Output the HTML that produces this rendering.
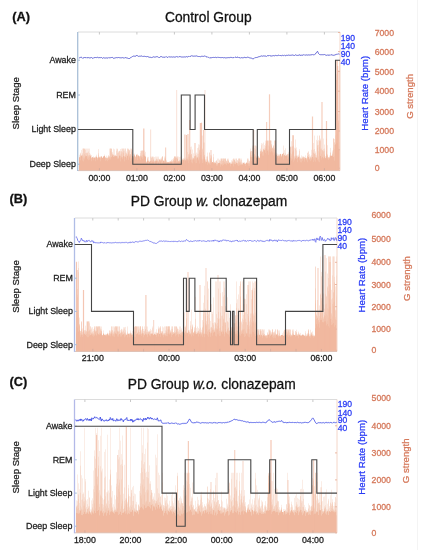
<!DOCTYPE html>
<html><head><meta charset="utf-8"><style>
html,body{margin:0;padding:0;background:#fff;width:422px;height:550px;overflow:hidden}
svg{display:block;font-family:"Liberation Sans", sans-serif;filter:blur(0.35px)}
text{stroke-width:0.28px;paint-order:fill}
</style></head><body>
<svg width="422" height="550" viewBox="0 0 422 550">
<rect x="0" y="0" width="422" height="550" fill="#fff"/>
<path d="M417.5 0V550" stroke="#f4f4f4" stroke-width="1"/>
<path d="M79.5 170.6V157.5M80.5 170.6V160.3M81.5 170.6V155.9M82.5 170.6V160.5M83.5 170.6V161.4M84.5 170.6V159.4M85.5 170.6V156.4M86.5 170.6V156.1M87.5 170.6V159.1M88.5 170.6V160.2M89.5 170.6V159.6M90.5 170.6V156.2M91.5 170.6V161.2M92.5 170.6V157.3M93.5 170.6V160.3M94.5 170.6V157.6M95.5 170.6V161.2M96.5 170.6V156.8M97.5 170.6V160.1M98.5 170.6V157.5M99.5 170.6V157.9M100.5 170.6V161.3M101.5 170.6V156.4M102.5 170.6V157.8M103.5 170.6V156.4M104.5 170.6V155.9M105.5 170.6V160.8M106.5 170.6V160.1M107.5 170.6V161.1M108.5 170.6V160.0M109.5 170.6V159.3M110.5 170.6V159.4M111.5 170.6V157.1M112.5 170.6V155.6M113.5 170.6V157.0M114.5 170.6V156.5M115.5 170.6V156.1M116.5 170.6V156.1M117.5 170.6V158.9M118.5 170.6V158.8M119.5 170.6V155.6M120.5 170.6V161.4M121.5 170.6V157.6M122.5 170.6V159.2M123.5 170.6V156.0M124.5 170.6V161.4M125.5 170.6V157.0M126.5 170.6V159.8M127.5 170.6V156.0M128.5 170.6V159.9M129.5 170.6V157.4M130.5 170.6V161.2M131.5 170.6V158.5M132.5 170.6V156.1M133.5 170.6V158.3M134.5 170.6V155.4M135.5 170.6V159.5M136.5 170.6V154.9M137.5 170.6V160.2M138.5 170.6V155.6M139.5 170.6V158.7M140.5 170.6V160.2M141.5 170.6V157.7M142.5 170.6V159.1M143.5 170.6V158.7M144.5 170.6V156.1M145.5 170.6V156.8M146.5 170.6V163.3M147.5 170.6V161.0M148.5 170.6V164.0M149.5 170.6V161.8M150.5 170.6V161.2M151.5 170.6V162.8M152.5 170.6V161.7M153.5 170.6V161.7M154.5 170.6V164.3M155.5 170.6V161.6M156.5 170.6V161.1M157.5 170.6V164.6M158.5 170.6V162.7M159.5 170.6V164.3M160.5 170.6V161.6M161.5 170.6V163.9M162.5 170.6V163.5M163.5 170.6V160.9M164.5 170.6V162.7M165.5 170.6V162.8M166.5 170.6V163.4M167.5 170.6V162.6M168.5 170.6V162.7M169.5 170.6V163.6M170.5 170.6V161.7M171.5 170.6V161.8M172.5 170.6V164.2M173.5 170.6V164.3M174.5 170.6V161.3M175.5 170.6V160.8M176.5 170.6V162.7M177.5 170.6V162.3M178.5 170.6V161.6M179.5 170.6V161.6M180.5 170.6V163.2M181.5 170.6V161.7M182.5 170.6V162.7M183.5 170.6V160.3M184.5 170.6V163.5M185.5 170.6V160.9M186.5 170.6V161.2M187.5 170.6V160.6M188.5 170.6V163.0M189.5 170.6V161.0M190.5 170.6V159.9M191.5 170.6V162.4M192.5 170.6V163.3M193.5 170.6V159.7M194.5 170.6V161.9M195.5 170.6V163.3M196.5 170.6V163.0M197.5 170.6V157.8M198.5 170.6V160.5M199.5 170.6V163.5M200.5 170.6V162.4M201.5 170.6V159.3M202.5 170.6V163.0M203.5 170.6V162.6M204.5 170.6V158.7M205.5 170.6V163.7M206.5 170.6V161.8M207.5 170.6V164.9M208.5 170.6V163.3M209.5 170.6V164.4M210.5 170.6V165.0M211.5 170.6V163.2M212.5 170.6V162.1M213.5 170.6V163.1M214.5 170.6V163.6M215.5 170.6V163.2M216.5 170.6V165.8M217.5 170.6V165.6M218.5 170.6V163.2M219.5 170.6V162.8M220.5 170.6V166.6M221.5 170.6V164.6M222.5 170.6V165.7M223.5 170.6V165.0M224.5 170.6V163.8M225.5 170.6V164.1M226.5 170.6V165.1M227.5 170.6V163.3M228.5 170.6V164.0M229.5 170.6V163.1M230.5 170.6V166.4M231.5 170.6V163.9M232.5 170.6V163.6M233.5 170.6V166.4M234.5 170.6V164.0M235.5 170.6V164.3M236.5 170.6V163.0M237.5 170.6V165.2M238.5 170.6V166.0M239.5 170.6V165.4M240.5 170.6V165.1M241.5 170.6V164.8M242.5 170.6V165.0M243.5 170.6V162.8M244.5 170.6V163.8M245.5 170.6V166.0M246.5 170.6V162.7M247.5 170.6V163.6M248.5 170.6V165.8M249.5 170.6V166.0M250.5 170.6V156.9M251.5 170.6V161.2M252.5 170.6V157.1M253.5 170.6V159.1M254.5 170.6V157.3M255.5 170.6V161.4M256.5 170.6V157.8M257.5 170.6V157.9M258.5 170.6V157.8M259.5 170.6V158.4M260.5 170.6V154.0M261.5 170.6V153.3M262.5 170.6V155.6M263.5 170.6V155.6M264.5 170.6V150.3M265.5 170.6V152.9M266.5 170.6V154.4M267.5 170.6V150.7M268.5 170.6V154.9M269.5 170.6V151.8M270.5 170.6V152.4M271.5 170.6V151.2M272.5 170.6V152.5M273.5 170.6V155.4M274.5 170.6V153.5M275.5 170.6V154.6M276.5 170.6V158.1M277.5 170.6V156.6M278.5 170.6V158.1M279.5 170.6V157.4M280.5 170.6V153.9M281.5 170.6V157.1M282.5 170.6V153.9M283.5 170.6V159.6M284.5 170.6V155.5M285.5 170.6V155.9M286.5 170.6V155.6M287.5 170.6V159.3M288.5 170.6V157.8M289.5 170.6V156.3M290.5 170.6V157.8M291.5 170.6V160.6M292.5 170.6V159.4M293.5 170.6V162.3M294.5 170.6V160.5M295.5 170.6V158.0M296.5 170.6V159.0M297.5 170.6V162.1M298.5 170.6V157.1M299.5 170.6V160.3M300.5 170.6V162.2M301.5 170.6V162.4M302.5 170.6V160.8M303.5 170.6V158.8M304.5 170.6V161.6M305.5 170.6V158.2M306.5 170.6V160.4M307.5 170.6V162.2M308.5 170.6V157.2M309.5 170.6V159.6M310.5 170.6V161.1M311.5 170.6V160.3M312.5 170.6V156.9M313.5 170.6V162.0M314.5 170.6V160.3M315.5 170.6V161.7M316.5 170.6V158.0M317.5 170.6V160.2M318.5 170.6V161.5M319.5 170.6V162.2M320.5 170.6V156.0M321.5 170.6V159.9M322.5 170.6V156.9M323.5 170.6V158.6M324.5 170.6V157.1M325.5 170.6V158.6M326.5 170.6V156.5M327.5 170.6V158.5M328.5 170.6V160.0M329.5 170.6V158.7M330.5 170.6V155.7M331.5 170.6V155.7M332.5 170.6V155.8M333.5 170.6V157.0M334.5 170.6V160.7M335.5 170.6V144.4M336.5 170.6V142.6M337.5 170.6V143.2M338.5 170.6V148.8M339.5 170.6V150.2" stroke="#f1b8a0" stroke-opacity="1.0" stroke-width="1" fill="none"/>
<path d="M79.5 170.6V158.4M80.5 170.6V154.6M81.5 170.6V155.7M82.5 170.6V153.2M83.5 170.6V148.6M84.5 170.6V158.0M85.5 170.6V156.3M86.5 170.6V158.3M87.5 170.6V156.7M88.5 170.6V157.6M89.5 170.6V156.4M90.5 170.6V155.0M91.5 170.6V158.1M92.5 170.6V156.9M93.5 170.6V156.3M94.5 170.6V158.4M95.5 170.6V158.3M96.5 170.6V154.7M97.5 170.6V158.1M98.5 170.6V158.5M99.5 170.6V158.4M100.5 170.6V156.3M101.5 170.6V157.8M102.5 170.6V157.8M103.5 170.6V157.6M104.5 170.6V154.6M105.5 170.6V157.7M106.5 170.6V158.1M107.5 170.6V156.8M108.5 170.6V158.0M109.5 170.6V156.9M110.5 170.6V158.0M111.5 170.6V152.5M112.5 170.6V154.1M113.5 170.6V157.9M114.5 170.6V155.3M115.5 170.6V157.0M116.5 170.6V157.4M117.5 170.6V153.1M118.5 170.6V158.5M119.5 170.6V150.7M120.5 170.6V149.0M121.5 170.6V156.5M122.5 170.6V148.6M123.5 170.6V153.5M124.5 170.6V156.5M125.5 170.6V148.6M126.5 170.6V158.1M127.5 170.6V155.7M128.5 170.6V149.9M129.5 170.6V149.7M130.5 170.6V155.5M131.5 170.6V152.1M132.5 170.6V156.9M133.5 170.6V153.8M134.5 170.6V156.9M135.5 170.6V157.2M136.5 170.6V157.2M137.5 170.6V154.8M138.5 170.6V157.3M139.5 170.6V156.2M140.5 170.6V150.8M141.5 170.6V150.6M142.5 170.6V157.4M143.5 170.6V154.2M144.5 170.6V155.2M145.5 170.6V156.9M146.5 170.6V162.5M147.5 170.6V156.9M148.5 170.6V160.6M149.5 170.6V162.1M150.5 170.6V162.0M151.5 170.6V157.6M152.5 170.6V156.6M153.5 170.6V159.6M154.5 170.6V161.9M155.5 170.6V156.6M156.5 170.6V160.9M157.5 170.6V160.8M158.5 170.6V161.5M159.5 170.6V160.2M160.5 170.6V159.6M161.5 170.6V157.3M162.5 170.6V162.1M163.5 170.6V161.9M164.5 170.6V158.4M165.5 170.6V162.0M166.5 170.6V160.2M167.5 170.6V162.5M168.5 170.6V162.2M169.5 170.6V162.4M170.5 170.6V162.2M171.5 170.6V161.9M172.5 170.6V162.1M173.5 170.6V160.1M174.5 170.6V156.6M175.5 170.6V157.7M176.5 170.6V158.1M177.5 170.6V156.6M178.5 170.6V161.4M179.5 170.6V161.5M180.5 170.6V161.5M181.5 170.6V160.6M182.5 170.6V158.7M183.5 170.6V158.6M184.5 170.6V159.4M185.5 170.6V160.1M186.5 170.6V159.5M187.5 170.6V151.9M188.5 170.6V159.9M189.5 170.6V152.6M190.5 170.6V149.9M191.5 170.6V159.8M192.5 170.6V158.9M193.5 170.6V159.0M194.5 170.6V156.1M195.5 170.6V153.7M196.5 170.6V159.4M197.5 170.6V158.8M198.5 170.6V156.5M199.5 170.6V150.5M200.5 170.6V159.5M201.5 170.6V157.9M202.5 170.6V158.9M203.5 170.6V158.9M204.5 170.6V142.6M205.5 170.6V161.0M206.5 170.6V163.4M207.5 170.6V158.9M208.5 170.6V163.6M209.5 170.6V163.2M210.5 170.6V157.9M211.5 170.6V157.5M212.5 170.6V163.6M213.5 170.6V153.9M214.5 170.6V162.3M215.5 170.6V163.6M216.5 170.6V164.4M217.5 170.6V164.6M218.5 170.6V163.1M219.5 170.6V163.2M220.5 170.6V158.6M221.5 170.6V164.5M222.5 170.6V158.6M223.5 170.6V161.1M224.5 170.6V158.6M225.5 170.6V158.6M226.5 170.6V160.4M227.5 170.6V158.6M228.5 170.6V161.0M229.5 170.6V163.4M230.5 170.6V163.3M231.5 170.6V162.6M232.5 170.6V164.2M233.5 170.6V162.7M234.5 170.6V160.0M235.5 170.6V164.6M236.5 170.6V158.6M237.5 170.6V163.4M238.5 170.6V162.5M239.5 170.6V158.6M240.5 170.6V158.6M241.5 170.6V158.6M242.5 170.6V164.6M243.5 170.6V163.8M244.5 170.6V162.1M245.5 170.6V163.9M246.5 170.6V163.8M247.5 170.6V158.6M248.5 170.6V162.8M249.5 170.6V160.8M250.5 170.6V152.3M251.5 170.6V150.9M252.5 170.6V145.6M253.5 170.6V145.6M254.5 170.6V154.2M255.5 170.6V155.5M256.5 170.6V157.8M257.5 170.6V157.7M258.5 170.6V156.1M259.5 170.6V158.4M260.5 170.6V151.0M261.5 170.6V151.8M262.5 170.6V143.7M263.5 170.6V148.7M264.5 170.6V151.2M265.5 170.6V143.6M266.5 170.6V145.6M267.5 170.6V140.6M268.5 170.6V149.6M269.5 170.6V140.6M270.5 170.6V148.3M271.5 170.6V140.6M272.5 170.6V147.8M273.5 170.6V145.3M274.5 170.6V152.1M275.5 170.6V140.6M276.5 170.6V156.5M277.5 170.6V156.1M278.5 170.6V154.8M279.5 170.6V155.3M280.5 170.6V156.5M281.5 170.6V154.4M282.5 170.6V155.8M283.5 170.6V152.7M284.5 170.6V154.6M285.5 170.6V156.0M286.5 170.6V156.4M287.5 170.6V154.6M288.5 170.6V153.6M289.5 170.6V154.7M290.5 170.6V146.8M291.5 170.6V153.9M292.5 170.6V158.9M293.5 170.6V149.6M294.5 170.6V147.7M295.5 170.6V148.5M296.5 170.6V150.4M297.5 170.6V156.4M298.5 170.6V159.0M299.5 170.6V157.1M300.5 170.6V157.2M301.5 170.6V159.3M302.5 170.6V159.0M303.5 170.6V156.7M304.5 170.6V156.9M305.5 170.6V159.5M306.5 170.6V157.9M307.5 170.6V156.1M308.5 170.6V157.3M309.5 170.6V154.2M310.5 170.6V157.6M311.5 170.6V157.2M312.5 170.6V157.9M313.5 170.6V157.9M314.5 170.6V135.6M315.5 170.6V157.3M316.5 170.6V159.1M317.5 170.6V148.3M318.5 170.6V156.5M319.5 170.6V135.6M320.5 170.6V158.5M321.5 170.6V153.9M322.5 170.6V158.5M323.5 170.6V151.7M324.5 170.6V150.8M325.5 170.6V157.7M326.5 170.6V138.6M327.5 170.6V145.2M328.5 170.6V157.0M329.5 170.6V157.6M330.5 170.6V147.9M331.5 170.6V156.1M332.5 170.6V152.4M333.5 170.6V147.8M334.5 170.6V156.4M335.5 170.6V145.9M336.5 170.6V74.2M337.5 170.6V60.6M338.5 170.6V70.2M339.5 170.6V142.3" stroke="#f1b8a0" stroke-opacity="0.3" stroke-width="1" fill="none"/>
<path d="M79.5 170.6V154.8M80.5 170.6V156.5M81.5 170.6V155.4M82.5 170.6V156.6M83.5 170.6V155.8M84.5 170.6V157.4M85.5 170.6V148.6M86.5 170.6V148.6M87.5 170.6V158.5M88.5 170.6V155.5M89.5 170.6V148.6M90.5 170.6V158.1M91.5 170.6V158.3M92.5 170.6V157.4M93.5 170.6V158.0M94.5 170.6V157.7M95.5 170.6V156.9M96.5 170.6V158.1M97.5 170.6V158.5M98.5 170.6V156.8M99.5 170.6V156.9M100.5 170.6V158.5M101.5 170.6V158.4M102.5 170.6V158.5M103.5 170.6V158.3M104.5 170.6V157.1M105.5 170.6V156.9M106.5 170.6V158.0M107.5 170.6V158.3M108.5 170.6V155.4M109.5 170.6V158.0M110.5 170.6V148.6M111.5 170.6V158.1M112.5 170.6V154.9M113.5 170.6V148.6M114.5 170.6V156.5M115.5 170.6V158.0M116.5 170.6V157.0M117.5 170.6V156.0M118.5 170.6V152.3M119.5 170.6V151.0M120.5 170.6V156.3M121.5 170.6V153.8M122.5 170.6V152.3M123.5 170.6V148.6M124.5 170.6V156.4M125.5 170.6V148.6M126.5 170.6V153.0M127.5 170.6V155.6M128.5 170.6V152.0M129.5 170.6V156.0M130.5 170.6V158.5M131.5 170.6V155.1M132.5 170.6V157.1M133.5 170.6V156.8M134.5 170.6V153.5M135.5 170.6V157.4M136.5 170.6V157.1M137.5 170.6V157.1M138.5 170.6V156.0M139.5 170.6V156.1M140.5 170.6V156.4M141.5 170.6V155.9M142.5 170.6V150.6M143.5 170.6V150.6M144.5 170.6V156.4M145.5 170.6V156.8M146.5 170.6V162.3M147.5 170.6V158.2M148.5 170.6V156.9M149.5 170.6V162.0M150.5 170.6V160.6M151.5 170.6V160.8M152.5 170.6V157.3M153.5 170.6V156.6M154.5 170.6V160.7M155.5 170.6V159.9M156.5 170.6V158.6M157.5 170.6V161.2M158.5 170.6V156.6M159.5 170.6V159.6M160.5 170.6V160.7M161.5 170.6V158.6M162.5 170.6V156.6M163.5 170.6V161.0M164.5 170.6V161.9M165.5 170.6V159.0M166.5 170.6V162.6M167.5 170.6V162.5M168.5 170.6V162.4M169.5 170.6V162.4M170.5 170.6V162.4M171.5 170.6V162.5M172.5 170.6V161.5M173.5 170.6V161.2M174.5 170.6V156.6M175.5 170.6V156.6M176.5 170.6V157.7M177.5 170.6V158.0M178.5 170.6V160.8M179.5 170.6V159.9M180.5 170.6V160.6M181.5 170.6V160.4M182.5 170.6V159.8M183.5 170.6V160.5M184.5 170.6V160.5M185.5 170.6V160.6M186.5 170.6V158.6M187.5 170.6V157.6M188.5 170.6V154.6M189.5 170.6V155.5M190.5 170.6V149.5M191.5 170.6V153.9M192.5 170.6V160.0M193.5 170.6V158.3M194.5 170.6V159.5M195.5 170.6V155.7M196.5 170.6V157.7M197.5 170.6V148.0M198.5 170.6V158.8M199.5 170.6V157.2M200.5 170.6V155.2M201.5 170.6V135.6M202.5 170.6V148.5M203.5 170.6V159.3M204.5 170.6V156.8M205.5 170.6V159.3M206.5 170.6V156.5M207.5 170.6V156.8M208.5 170.6V160.6M209.5 170.6V152.6M210.5 170.6V161.0M211.5 170.6V156.1M212.5 170.6V162.0M213.5 170.6V163.5M214.5 170.6V163.3M215.5 170.6V162.5M216.5 170.6V161.2M217.5 170.6V163.2M218.5 170.6V163.4M219.5 170.6V163.5M220.5 170.6V160.6M221.5 170.6V158.6M222.5 170.6V161.0M223.5 170.6V158.6M224.5 170.6V164.4M225.5 170.6V158.6M226.5 170.6V163.1M227.5 170.6V159.2M228.5 170.6V163.5M229.5 170.6V162.4M230.5 170.6V163.7M231.5 170.6V163.8M232.5 170.6V164.1M233.5 170.6V162.5M234.5 170.6V159.7M235.5 170.6V158.6M236.5 170.6V163.3M237.5 170.6V163.2M238.5 170.6V160.7M239.5 170.6V158.6M240.5 170.6V160.4M241.5 170.6V162.6M242.5 170.6V164.5M243.5 170.6V163.7M244.5 170.6V163.6M245.5 170.6V164.4M246.5 170.6V162.7M247.5 170.6V158.6M248.5 170.6V163.6M249.5 170.6V160.9M250.5 170.6V150.9M251.5 170.6V157.0M252.5 170.6V151.8M253.5 170.6V158.2M254.5 170.6V156.4M255.5 170.6V145.6M256.5 170.6V157.9M257.5 170.6V158.0M258.5 170.6V157.3M259.5 170.6V157.9M260.5 170.6V152.1M261.5 170.6V143.1M262.5 170.6V151.6M263.5 170.6V150.4M264.5 170.6V149.9M265.5 170.6V140.6M266.5 170.6V149.0M267.5 170.6V140.6M268.5 170.6V152.4M269.5 170.6V150.8M270.5 170.6V140.6M271.5 170.6V149.1M272.5 170.6V148.5M273.5 170.6V146.4M274.5 170.6V140.6M275.5 170.6V140.6M276.5 170.6V155.3M277.5 170.6V153.7M278.5 170.6V156.5M279.5 170.6V154.1M280.5 170.6V155.6M281.5 170.6V156.4M282.5 170.6V155.6M283.5 170.6V153.1M284.5 170.6V156.2M285.5 170.6V148.3M286.5 170.6V155.8M287.5 170.6V153.8M288.5 170.6V156.4M289.5 170.6V155.9M290.5 170.6V156.6M291.5 170.6V155.7M292.5 170.6V146.5M293.5 170.6V145.5M294.5 170.6V157.1M295.5 170.6V148.6M296.5 170.6V155.7M297.5 170.6V157.5M298.5 170.6V158.3M299.5 170.6V156.2M300.5 170.6V158.5M301.5 170.6V157.8M302.5 170.6V157.5M303.5 170.6V156.7M304.5 170.6V158.9M305.5 170.6V157.9M306.5 170.6V158.7M307.5 170.6V158.2M308.5 170.6V157.1M309.5 170.6V159.5M310.5 170.6V159.5M311.5 170.6V149.8M312.5 170.6V159.0M313.5 170.6V149.8M314.5 170.6V153.6M315.5 170.6V154.7M316.5 170.6V159.4M317.5 170.6V158.9M318.5 170.6V140.1M319.5 170.6V141.3M320.5 170.6V141.1M321.5 170.6V149.5M322.5 170.6V151.2M323.5 170.6V149.2M324.5 170.6V154.2M325.5 170.6V156.1M326.5 170.6V150.9M327.5 170.6V157.2M328.5 170.6V158.5M329.5 170.6V157.6M330.5 170.6V152.7M331.5 170.6V158.5M332.5 170.6V153.9M333.5 170.6V158.2M334.5 170.6V142.1M335.5 170.6V117.2M336.5 170.6V139.3M337.5 170.6V134.0M338.5 170.6V128.0M339.5 170.6V60.6" stroke="#f1b8a0" stroke-opacity="0.3" stroke-width="1" fill="none"/>
<path d="M79.5 170.6V157.2M80.5 170.6V153.5M81.5 170.6V158.1M82.5 170.6V148.6M83.5 170.6V148.6M84.5 170.6V148.6M85.5 170.6V149.8M86.5 170.6V158.6M87.5 170.6V154.6M88.5 170.6V157.5M89.5 170.6V157.0M90.5 170.6V157.3M91.5 170.6V157.5M92.5 170.6V157.4M93.5 170.6V158.3M94.5 170.6V158.5M95.5 170.6V157.3M96.5 170.6V156.4M97.5 170.6V157.0M98.5 170.6V149.1M99.5 170.6V158.5M100.5 170.6V158.1M101.5 170.6V158.0M102.5 170.6V158.3M103.5 170.6V158.6M104.5 170.6V156.7M105.5 170.6V158.0M106.5 170.6V158.5M107.5 170.6V158.5M108.5 170.6V156.7M109.5 170.6V157.7M110.5 170.6V148.6M111.5 170.6V158.0M112.5 170.6V151.9M113.5 170.6V154.4M114.5 170.6V156.6M115.5 170.6V155.0M116.5 170.6V148.6M117.5 170.6V149.2M118.5 170.6V152.8M119.5 170.6V156.5M120.5 170.6V158.0M121.5 170.6V157.1M122.5 170.6V157.4M123.5 170.6V158.2M124.5 170.6V157.5M125.5 170.6V155.0M126.5 170.6V157.7M127.5 170.6V157.8M128.5 170.6V149.1M129.5 170.6V150.3M130.5 170.6V148.6M131.5 170.6V149.1M132.5 170.6V156.0M133.5 170.6V155.8M134.5 170.6V156.9M135.5 170.6V157.3M136.5 170.6V157.1M137.5 170.6V153.8M138.5 170.6V156.9M139.5 170.6V157.5M140.5 170.6V155.5M141.5 170.6V156.5M142.5 170.6V150.6M143.5 170.6V150.6M144.5 170.6V155.8M145.5 170.6V156.6M146.5 170.6V162.2M147.5 170.6V161.9M148.5 170.6V161.6M149.5 170.6V162.2M150.5 170.6V161.6M151.5 170.6V161.2M152.5 170.6V162.4M153.5 170.6V160.1M154.5 170.6V161.5M155.5 170.6V161.1M156.5 170.6V161.7M157.5 170.6V158.9M158.5 170.6V161.1M159.5 170.6V159.9M160.5 170.6V159.9M161.5 170.6V160.2M162.5 170.6V156.6M163.5 170.6V160.8M164.5 170.6V161.6M165.5 170.6V158.5M166.5 170.6V161.3M167.5 170.6V162.5M168.5 170.6V162.4M169.5 170.6V162.2M170.5 170.6V161.9M171.5 170.6V159.7M172.5 170.6V159.3M173.5 170.6V161.6M174.5 170.6V156.6M175.5 170.6V156.6M176.5 170.6V162.3M177.5 170.6V159.0M178.5 170.6V161.8M179.5 170.6V162.5M180.5 170.6V162.4M181.5 170.6V160.6M182.5 170.6V159.6M183.5 170.6V160.4M184.5 170.6V160.4M185.5 170.6V160.0M186.5 170.6V160.6M187.5 170.6V159.9M188.5 170.6V154.1M189.5 170.6V159.3M190.5 170.6V159.1M191.5 170.6V146.6M192.5 170.6V149.5M193.5 170.6V153.3M194.5 170.6V156.3M195.5 170.6V157.9M196.5 170.6V156.6M197.5 170.6V156.9M198.5 170.6V153.9M199.5 170.6V152.5M200.5 170.6V146.5M201.5 170.6V159.2M202.5 170.6V159.9M203.5 170.6V142.5M204.5 170.6V157.0M205.5 170.6V161.5M206.5 170.6V163.3M207.5 170.6V160.7M208.5 170.6V162.0M209.5 170.6V163.5M210.5 170.6V155.2M211.5 170.6V160.9M212.5 170.6V163.4M213.5 170.6V162.8M214.5 170.6V162.9M215.5 170.6V162.8M216.5 170.6V164.3M217.5 170.6V164.5M218.5 170.6V158.6M219.5 170.6V159.7M220.5 170.6V161.1M221.5 170.6V158.6M222.5 170.6V158.6M223.5 170.6V158.6M224.5 170.6V158.9M225.5 170.6V159.7M226.5 170.6V161.1M227.5 170.6V162.7M228.5 170.6V160.2M229.5 170.6V162.2M230.5 170.6V162.0M231.5 170.6V160.3M232.5 170.6V161.8M233.5 170.6V163.9M234.5 170.6V160.1M235.5 170.6V161.2M236.5 170.6V158.6M237.5 170.6V163.9M238.5 170.6V161.8M239.5 170.6V158.6M240.5 170.6V162.8M241.5 170.6V164.2M242.5 170.6V163.4M243.5 170.6V164.4M244.5 170.6V163.2M245.5 170.6V163.9M246.5 170.6V164.4M247.5 170.6V160.5M248.5 170.6V160.4M249.5 170.6V162.3M250.5 170.6V152.8M251.5 170.6V156.9M252.5 170.6V151.8M253.5 170.6V156.0M254.5 170.6V154.0M255.5 170.6V145.6M256.5 170.6V156.4M257.5 170.6V156.0M258.5 170.6V158.5M259.5 170.6V158.5M260.5 170.6V148.7M261.5 170.6V150.4M262.5 170.6V152.2M263.5 170.6V149.6M264.5 170.6V150.3M265.5 170.6V150.5M266.5 170.6V141.8M267.5 170.6V151.8M268.5 170.6V140.6M269.5 170.6V140.6M270.5 170.6V140.6M271.5 170.6V145.5M272.5 170.6V151.4M273.5 170.6V152.6M274.5 170.6V140.6M275.5 170.6V140.6M276.5 170.6V155.0M277.5 170.6V155.4M278.5 170.6V156.1M279.5 170.6V155.8M280.5 170.6V155.8M281.5 170.6V155.9M282.5 170.6V156.2M283.5 170.6V156.5M284.5 170.6V150.1M285.5 170.6V155.9M286.5 170.6V155.3M287.5 170.6V156.5M288.5 170.6V154.6M289.5 170.6V155.1M290.5 170.6V147.6M291.5 170.6V141.2M292.5 170.6V146.2M293.5 170.6V135.6M294.5 170.6V159.5M295.5 170.6V156.7M296.5 170.6V147.4M297.5 170.6V157.8M298.5 170.6V156.0M299.5 170.6V149.1M300.5 170.6V158.7M301.5 170.6V159.0M302.5 170.6V158.0M303.5 170.6V156.8M304.5 170.6V158.4M305.5 170.6V158.3M306.5 170.6V157.8M307.5 170.6V152.6M308.5 170.6V155.0M309.5 170.6V156.5M310.5 170.6V157.8M311.5 170.6V157.9M312.5 170.6V157.4M313.5 170.6V153.0M314.5 170.6V157.7M315.5 170.6V157.5M316.5 170.6V139.9M317.5 170.6V135.6M318.5 170.6V159.5M319.5 170.6V152.8M320.5 170.6V138.6M321.5 170.6V158.1M322.5 170.6V150.2M323.5 170.6V151.2M324.5 170.6V155.1M325.5 170.6V157.9M326.5 170.6V153.5M327.5 170.6V156.3M328.5 170.6V157.7M329.5 170.6V157.9M330.5 170.6V156.1M331.5 170.6V157.8M332.5 170.6V154.4M333.5 170.6V138.6M334.5 170.6V145.1M335.5 170.6V123.1M336.5 170.6V60.6M337.5 170.6V144.0M338.5 170.6V113.8M339.5 170.6V146.2" stroke="#f1b8a0" stroke-opacity="0.3" stroke-width="1" fill="none"/>
<path d="M79.5 170.6V157.3M80.5 170.6V152.7M81.5 170.6V157.6M82.5 170.6V155.2M83.5 170.6V157.7M84.5 170.6V148.6M85.5 170.6V157.0M86.5 170.6V152.7M87.5 170.6V152.6M88.5 170.6V155.7M89.5 170.6V155.3M90.5 170.6V155.6M91.5 170.6V158.1M92.5 170.6V158.0M93.5 170.6V157.3M94.5 170.6V158.2M95.5 170.6V158.0M96.5 170.6V158.5M97.5 170.6V158.6M98.5 170.6V154.9M99.5 170.6V157.0M100.5 170.6V157.0M101.5 170.6V157.1M102.5 170.6V158.2M103.5 170.6V158.3M104.5 170.6V156.0M105.5 170.6V158.3M106.5 170.6V157.7M107.5 170.6V158.4M108.5 170.6V157.7M109.5 170.6V148.6M110.5 170.6V157.0M111.5 170.6V148.6M112.5 170.6V158.4M113.5 170.6V155.3M114.5 170.6V149.3M115.5 170.6V154.7M116.5 170.6V157.1M117.5 170.6V157.9M118.5 170.6V151.2M119.5 170.6V151.5M120.5 170.6V151.3M121.5 170.6V151.7M122.5 170.6V157.2M123.5 170.6V150.9M124.5 170.6V156.6M125.5 170.6V152.7M126.5 170.6V153.8M127.5 170.6V154.2M128.5 170.6V148.6M129.5 170.6V155.9M130.5 170.6V154.0M131.5 170.6V150.6M132.5 170.6V157.4M133.5 170.6V157.1M134.5 170.6V156.8M135.5 170.6V156.7M136.5 170.6V156.8M137.5 170.6V155.3M138.5 170.6V155.5M139.5 170.6V156.3M140.5 170.6V153.1M141.5 170.6V150.6M142.5 170.6V150.7M143.5 170.6V154.9M144.5 170.6V150.6M145.5 170.6V156.7M146.5 170.6V161.0M147.5 170.6V162.6M148.5 170.6V161.4M149.5 170.6V161.9M150.5 170.6V162.3M151.5 170.6V160.3M152.5 170.6V156.6M153.5 170.6V157.5M154.5 170.6V161.7M155.5 170.6V160.8M156.5 170.6V160.3M157.5 170.6V161.5M158.5 170.6V162.0M159.5 170.6V159.3M160.5 170.6V162.4M161.5 170.6V159.9M162.5 170.6V156.6M163.5 170.6V162.3M164.5 170.6V161.2M165.5 170.6V156.6M166.5 170.6V162.4M167.5 170.6V162.6M168.5 170.6V162.5M169.5 170.6V162.3M170.5 170.6V161.6M171.5 170.6V160.2M172.5 170.6V162.6M173.5 170.6V157.9M174.5 170.6V156.6M175.5 170.6V158.2M176.5 170.6V161.2M177.5 170.6V159.4M178.5 170.6V161.3M179.5 170.6V160.6M180.5 170.6V161.9M181.5 170.6V160.5M182.5 170.6V160.4M183.5 170.6V160.0M184.5 170.6V158.4M185.5 170.6V159.5M186.5 170.6V160.1M187.5 170.6V159.0M188.5 170.6V160.4M189.5 170.6V160.4M190.5 170.6V146.9M191.5 170.6V159.6M192.5 170.6V157.4M193.5 170.6V158.3M194.5 170.6V158.6M195.5 170.6V160.5M196.5 170.6V155.1M197.5 170.6V157.0M198.5 170.6V144.3M199.5 170.6V144.7M200.5 170.6V154.4M201.5 170.6V154.9M202.5 170.6V149.6M203.5 170.6V151.8M204.5 170.6V155.2M205.5 170.6V161.8M206.5 170.6V159.5M207.5 170.6V152.6M208.5 170.6V163.2M209.5 170.6V162.6M210.5 170.6V159.3M211.5 170.6V163.0M212.5 170.6V163.5M213.5 170.6V157.2M214.5 170.6V163.4M215.5 170.6V162.8M216.5 170.6V164.2M217.5 170.6V162.1M218.5 170.6V163.8M219.5 170.6V163.9M220.5 170.6V163.3M221.5 170.6V159.5M222.5 170.6V163.4M223.5 170.6V158.6M224.5 170.6V162.1M225.5 170.6V163.1M226.5 170.6V163.6M227.5 170.6V160.6M228.5 170.6V158.6M229.5 170.6V162.6M230.5 170.6V164.1M231.5 170.6V164.4M232.5 170.6V161.4M233.5 170.6V159.7M234.5 170.6V163.6M235.5 170.6V162.6M236.5 170.6V164.4M237.5 170.6V163.1M238.5 170.6V158.6M239.5 170.6V162.5M240.5 170.6V163.7M241.5 170.6V164.4M242.5 170.6V164.0M243.5 170.6V162.9M244.5 170.6V164.1M245.5 170.6V163.1M246.5 170.6V163.6M247.5 170.6V164.0M248.5 170.6V163.4M249.5 170.6V163.3M250.5 170.6V151.7M251.5 170.6V157.5M252.5 170.6V147.6M253.5 170.6V152.5M254.5 170.6V155.3M255.5 170.6V149.2M256.5 170.6V158.6M257.5 170.6V151.8M258.5 170.6V155.8M259.5 170.6V157.7M260.5 170.6V150.8M261.5 170.6V150.4M262.5 170.6V152.0M263.5 170.6V149.8M264.5 170.6V148.4M265.5 170.6V146.0M266.5 170.6V140.6M267.5 170.6V140.6M268.5 170.6V145.6M269.5 170.6V146.8M270.5 170.6V140.6M271.5 170.6V144.5M272.5 170.6V147.4M273.5 170.6V145.7M274.5 170.6V148.8M275.5 170.6V140.6M276.5 170.6V152.8M277.5 170.6V156.3M278.5 170.6V156.1M279.5 170.6V155.8M280.5 170.6V154.5M281.5 170.6V156.5M282.5 170.6V156.5M283.5 170.6V145.6M284.5 170.6V155.3M285.5 170.6V156.3M286.5 170.6V154.4M287.5 170.6V155.4M288.5 170.6V151.8M289.5 170.6V156.2M290.5 170.6V146.4M291.5 170.6V158.0M292.5 170.6V152.6M293.5 170.6V151.9M294.5 170.6V158.9M295.5 170.6V155.8M296.5 170.6V156.2M297.5 170.6V158.7M298.5 170.6V154.7M299.5 170.6V158.9M300.5 170.6V158.6M301.5 170.6V158.8M302.5 170.6V156.3M303.5 170.6V157.9M304.5 170.6V157.2M305.5 170.6V158.1M306.5 170.6V159.4M307.5 170.6V156.1M308.5 170.6V158.1M309.5 170.6V159.5M310.5 170.6V157.2M311.5 170.6V159.3M312.5 170.6V158.6M313.5 170.6V152.6M314.5 170.6V153.9M315.5 170.6V157.4M316.5 170.6V155.2M317.5 170.6V145.9M318.5 170.6V144.9M319.5 170.6V135.6M320.5 170.6V148.9M321.5 170.6V157.8M322.5 170.6V158.6M323.5 170.6V158.2M324.5 170.6V144.5M325.5 170.6V158.6M326.5 170.6V157.8M327.5 170.6V155.8M328.5 170.6V158.3M329.5 170.6V157.3M330.5 170.6V156.0M331.5 170.6V157.2M332.5 170.6V157.3M333.5 170.6V150.0M334.5 170.6V149.2M335.5 170.6V145.2M336.5 170.6V101.8M337.5 170.6V60.6M338.5 170.6V123.1M339.5 170.6V85.1" stroke="#f1b8a0" stroke-opacity="0.3" stroke-width="1" fill="none"/>
<path d="M79.5 170.6V158.6M80.5 170.6V156.2M81.5 170.6V149.9M82.5 170.6V154.7M83.5 170.6V148.6M84.5 170.6V154.2M85.5 170.6V155.1M86.5 170.6V153.2M87.5 170.6V152.9M88.5 170.6V148.6M89.5 170.6V153.0M90.5 170.6V157.1M91.5 170.6V155.0M92.5 170.6V158.3M93.5 170.6V158.1M94.5 170.6V158.0M95.5 170.6V158.4M96.5 170.6V158.6M97.5 170.6V158.1M98.5 170.6V157.4M99.5 170.6V156.6M100.5 170.6V157.4M101.5 170.6V158.4M102.5 170.6V157.9M103.5 170.6V158.3M104.5 170.6V158.6M105.5 170.6V157.2M106.5 170.6V155.7M107.5 170.6V158.6M108.5 170.6V157.0M109.5 170.6V156.1M110.5 170.6V150.9M111.5 170.6V149.0M112.5 170.6V153.6M113.5 170.6V155.2M114.5 170.6V155.6M115.5 170.6V157.3M116.5 170.6V157.4M117.5 170.6V148.6M118.5 170.6V157.5M119.5 170.6V156.5M120.5 170.6V154.5M121.5 170.6V148.6M122.5 170.6V157.5M123.5 170.6V148.6M124.5 170.6V148.6M125.5 170.6V156.3M126.5 170.6V151.4M127.5 170.6V148.6M128.5 170.6V153.2M129.5 170.6V150.8M130.5 170.6V155.7M131.5 170.6V148.6M132.5 170.6V157.5M133.5 170.6V157.6M134.5 170.6V156.9M135.5 170.6V157.1M136.5 170.6V156.1M137.5 170.6V156.6M138.5 170.6V156.3M139.5 170.6V157.2M140.5 170.6V155.9M141.5 170.6V156.9M142.5 170.6V155.3M143.5 170.6V155.3M144.5 170.6V155.9M145.5 170.6V151.8M146.5 170.6V162.2M147.5 170.6V159.9M148.5 170.6V160.8M149.5 170.6V162.6M150.5 170.6V161.0M151.5 170.6V156.6M152.5 170.6V160.4M153.5 170.6V159.4M154.5 170.6V157.0M155.5 170.6V161.7M156.5 170.6V156.6M157.5 170.6V160.1M158.5 170.6V158.7M159.5 170.6V160.0M160.5 170.6V160.6M161.5 170.6V161.0M162.5 170.6V162.4M163.5 170.6V160.2M164.5 170.6V160.7M165.5 170.6V162.3M166.5 170.6V161.9M167.5 170.6V161.8M168.5 170.6V161.9M169.5 170.6V161.1M170.5 170.6V161.1M171.5 170.6V162.2M172.5 170.6V161.0M173.5 170.6V160.1M174.5 170.6V161.6M175.5 170.6V156.6M176.5 170.6V162.2M177.5 170.6V159.2M178.5 170.6V162.2M179.5 170.6V157.0M180.5 170.6V162.5M181.5 170.6V160.3M182.5 170.6V160.2M183.5 170.6V158.4M184.5 170.6V159.9M185.5 170.6V160.3M186.5 170.6V159.6M187.5 170.6V159.5M188.5 170.6V156.9M189.5 170.6V157.2M190.5 170.6V160.6M191.5 170.6V155.5M192.5 170.6V160.1M193.5 170.6V158.6M194.5 170.6V159.7M195.5 170.6V156.0M196.5 170.6V152.6M197.5 170.6V153.7M198.5 170.6V147.5M199.5 170.6V158.1M200.5 170.6V149.6M201.5 170.6V157.6M202.5 170.6V135.6M203.5 170.6V156.2M204.5 170.6V156.9M205.5 170.6V162.3M206.5 170.6V163.1M207.5 170.6V156.2M208.5 170.6V161.6M209.5 170.6V152.6M210.5 170.6V158.8M211.5 170.6V154.8M212.5 170.6V163.2M213.5 170.6V161.9M214.5 170.6V162.5M215.5 170.6V163.2M216.5 170.6V160.4M217.5 170.6V164.0M218.5 170.6V163.2M219.5 170.6V160.6M220.5 170.6V164.4M221.5 170.6V158.6M222.5 170.6V160.8M223.5 170.6V160.3M224.5 170.6V158.6M225.5 170.6V158.6M226.5 170.6V161.1M227.5 170.6V164.5M228.5 170.6V164.2M229.5 170.6V163.9M230.5 170.6V163.3M231.5 170.6V164.0M232.5 170.6V159.4M233.5 170.6V158.6M234.5 170.6V158.6M235.5 170.6V164.0M236.5 170.6V161.8M237.5 170.6V160.3M238.5 170.6V158.6M239.5 170.6V162.2M240.5 170.6V164.5M241.5 170.6V160.0M242.5 170.6V163.6M243.5 170.6V163.5M244.5 170.6V164.1M245.5 170.6V164.1M246.5 170.6V163.0M247.5 170.6V163.0M248.5 170.6V163.4M249.5 170.6V164.3M250.5 170.6V148.5M251.5 170.6V155.2M252.5 170.6V154.4M253.5 170.6V145.6M254.5 170.6V148.2M255.5 170.6V156.8M256.5 170.6V157.8M257.5 170.6V158.1M258.5 170.6V157.5M259.5 170.6V158.4M260.5 170.6V151.5M261.5 170.6V151.6M262.5 170.6V151.5M263.5 170.6V142.5M264.5 170.6V152.3M265.5 170.6V147.9M266.5 170.6V140.6M267.5 170.6V141.2M268.5 170.6V140.6M269.5 170.6V149.5M270.5 170.6V149.7M271.5 170.6V144.2M272.5 170.6V148.8M273.5 170.6V149.3M274.5 170.6V148.3M275.5 170.6V152.6M276.5 170.6V154.8M277.5 170.6V156.1M278.5 170.6V154.4M279.5 170.6V156.4M280.5 170.6V156.0M281.5 170.6V156.5M282.5 170.6V156.6M283.5 170.6V155.7M284.5 170.6V155.3M285.5 170.6V156.5M286.5 170.6V155.8M287.5 170.6V154.2M288.5 170.6V156.5M289.5 170.6V155.8M290.5 170.6V147.1M291.5 170.6V159.3M292.5 170.6V135.6M293.5 170.6V150.7M294.5 170.6V155.9M295.5 170.6V139.5M296.5 170.6V155.7M297.5 170.6V155.4M298.5 170.6V157.6M299.5 170.6V158.2M300.5 170.6V158.4M301.5 170.6V155.4M302.5 170.6V157.4M303.5 170.6V157.5M304.5 170.6V159.5M305.5 170.6V155.4M306.5 170.6V159.4M307.5 170.6V157.2M308.5 170.6V152.3M309.5 170.6V158.1M310.5 170.6V157.6M311.5 170.6V155.1M312.5 170.6V159.0M313.5 170.6V158.9M314.5 170.6V154.3M315.5 170.6V151.4M316.5 170.6V157.1M317.5 170.6V141.3M318.5 170.6V151.2M319.5 170.6V147.3M320.5 170.6V139.9M321.5 170.6V158.5M322.5 170.6V150.0M323.5 170.6V157.9M324.5 170.6V148.5M325.5 170.6V158.3M326.5 170.6V156.7M327.5 170.6V154.3M328.5 170.6V157.0M329.5 170.6V155.6M330.5 170.6V152.6M331.5 170.6V156.7M332.5 170.6V158.2M333.5 170.6V138.6M334.5 170.6V139.0M335.5 170.6V135.6M336.5 170.6V134.7M337.5 170.6V60.6M338.5 170.6V120.1M339.5 170.6V60.6" stroke="#f1b8a0" stroke-opacity="0.3" stroke-width="1" fill="none"/>
<path d="M79.5 170.6V156.9M80.5 170.6V157.3M81.5 170.6V155.5M82.5 170.6V156.8M83.5 170.6V158.5M84.5 170.6V149.2M85.5 170.6V153.1M86.5 170.6V157.4M87.5 170.6V148.6M88.5 170.6V151.5M89.5 170.6V154.9M90.5 170.6V153.8M91.5 170.6V157.7M92.5 170.6V158.3M93.5 170.6V157.7M94.5 170.6V158.3M95.5 170.6V156.4M96.5 170.6V158.6M97.5 170.6V158.4M98.5 170.6V153.3M99.5 170.6V157.6M100.5 170.6V157.6M101.5 170.6V157.1M102.5 170.6V158.1M103.5 170.6V157.1M104.5 170.6V157.1M105.5 170.6V158.0M106.5 170.6V158.1M107.5 170.6V158.0M108.5 170.6V155.5M109.5 170.6V156.7M110.5 170.6V148.6M111.5 170.6V148.6M112.5 170.6V157.0M113.5 170.6V158.4M114.5 170.6V157.1M115.5 170.6V157.8M116.5 170.6V150.8M117.5 170.6V157.3M118.5 170.6V158.0M119.5 170.6V156.3M120.5 170.6V156.1M121.5 170.6V151.0M122.5 170.6V148.7M123.5 170.6V152.7M124.5 170.6V150.7M125.5 170.6V157.2M126.5 170.6V154.4M127.5 170.6V148.6M128.5 170.6V154.4M129.5 170.6V154.4M130.5 170.6V154.0M131.5 170.6V157.8M132.5 170.6V156.6M133.5 170.6V156.7M134.5 170.6V154.6M135.5 170.6V156.0M136.5 170.6V154.0M137.5 170.6V155.9M138.5 170.6V156.8M139.5 170.6V156.9M140.5 170.6V156.8M141.5 170.6V151.3M142.5 170.6V157.2M143.5 170.6V155.6M144.5 170.6V153.4M145.5 170.6V157.4M146.5 170.6V162.3M147.5 170.6V158.7M148.5 170.6V161.0M149.5 170.6V160.5M150.5 170.6V156.6M151.5 170.6V158.2M152.5 170.6V161.7M153.5 170.6V162.3M154.5 170.6V161.5M155.5 170.6V161.3M156.5 170.6V159.0M157.5 170.6V156.6M158.5 170.6V161.9M159.5 170.6V158.9M160.5 170.6V158.5M161.5 170.6V158.9M162.5 170.6V156.6M163.5 170.6V160.9M164.5 170.6V156.6M165.5 170.6V158.3M166.5 170.6V162.2M167.5 170.6V162.4M168.5 170.6V162.3M169.5 170.6V162.5M170.5 170.6V162.4M171.5 170.6V161.4M172.5 170.6V161.6M173.5 170.6V158.9M174.5 170.6V159.0M175.5 170.6V159.3M176.5 170.6V156.6M177.5 170.6V156.6M178.5 170.6V156.6M179.5 170.6V162.1M180.5 170.6V156.6M181.5 170.6V160.6M182.5 170.6V159.5M183.5 170.6V159.8M184.5 170.6V158.9M185.5 170.6V157.7M186.5 170.6V159.1M187.5 170.6V158.9M188.5 170.6V159.7M189.5 170.6V154.3M190.5 170.6V155.1M191.5 170.6V154.0M192.5 170.6V158.6M193.5 170.6V157.8M194.5 170.6V156.5M195.5 170.6V155.7M196.5 170.6V158.6M197.5 170.6V160.1M198.5 170.6V159.7M199.5 170.6V149.8M200.5 170.6V155.5M201.5 170.6V151.9M202.5 170.6V160.5M203.5 170.6V160.2M204.5 170.6V154.9M205.5 170.6V159.9M206.5 170.6V162.2M207.5 170.6V160.7M208.5 170.6V162.0M209.5 170.6V162.6M210.5 170.6V163.1M211.5 170.6V160.5M212.5 170.6V163.3M213.5 170.6V160.5M214.5 170.6V161.8M215.5 170.6V161.2M216.5 170.6V160.5M217.5 170.6V158.6M218.5 170.6V164.0M219.5 170.6V163.8M220.5 170.6V164.3M221.5 170.6V164.4M222.5 170.6V163.7M223.5 170.6V163.6M224.5 170.6V161.7M225.5 170.6V163.9M226.5 170.6V161.9M227.5 170.6V163.9M228.5 170.6V160.9M229.5 170.6V163.1M230.5 170.6V164.2M231.5 170.6V163.8M232.5 170.6V161.4M233.5 170.6V158.6M234.5 170.6V161.2M235.5 170.6V161.9M236.5 170.6V164.2M237.5 170.6V160.2M238.5 170.6V164.2M239.5 170.6V163.3M240.5 170.6V161.9M241.5 170.6V164.3M242.5 170.6V162.4M243.5 170.6V163.7M244.5 170.6V164.0M245.5 170.6V163.9M246.5 170.6V164.2M247.5 170.6V163.8M248.5 170.6V158.6M249.5 170.6V163.7M250.5 170.6V155.0M251.5 170.6V151.0M252.5 170.6V151.1M253.5 170.6V145.6M254.5 170.6V145.6M255.5 170.6V156.1M256.5 170.6V146.3M257.5 170.6V157.8M258.5 170.6V158.1M259.5 170.6V157.5M260.5 170.6V151.9M261.5 170.6V145.2M262.5 170.6V151.8M263.5 170.6V149.2M264.5 170.6V145.1M265.5 170.6V149.2M266.5 170.6V146.8M267.5 170.6V149.4M268.5 170.6V150.5M269.5 170.6V146.4M270.5 170.6V140.6M271.5 170.6V146.1M272.5 170.6V148.1M273.5 170.6V147.7M274.5 170.6V150.0M275.5 170.6V151.6M276.5 170.6V154.3M277.5 170.6V156.1M278.5 170.6V155.9M279.5 170.6V155.9M280.5 170.6V155.2M281.5 170.6V155.5M282.5 170.6V154.7M283.5 170.6V153.1M284.5 170.6V155.1M285.5 170.6V153.2M286.5 170.6V156.0M287.5 170.6V156.6M288.5 170.6V154.3M289.5 170.6V156.4M290.5 170.6V153.2M291.5 170.6V146.7M292.5 170.6V151.5M293.5 170.6V135.6M294.5 170.6V158.4M295.5 170.6V157.8M296.5 170.6V157.4M297.5 170.6V158.0M298.5 170.6V158.5M299.5 170.6V150.9M300.5 170.6V159.3M301.5 170.6V158.9M302.5 170.6V157.8M303.5 170.6V159.4M304.5 170.6V157.8M305.5 170.6V157.8M306.5 170.6V159.2M307.5 170.6V153.1M308.5 170.6V151.1M309.5 170.6V159.5M310.5 170.6V155.8M311.5 170.6V158.5M312.5 170.6V159.2M313.5 170.6V143.0M314.5 170.6V149.0M315.5 170.6V153.1M316.5 170.6V157.3M317.5 170.6V145.0M318.5 170.6V159.5M319.5 170.6V140.6M320.5 170.6V155.8M321.5 170.6V148.4M322.5 170.6V157.1M323.5 170.6V138.6M324.5 170.6V156.4M325.5 170.6V157.9M326.5 170.6V153.7M327.5 170.6V154.9M328.5 170.6V158.1M329.5 170.6V157.6M330.5 170.6V157.7M331.5 170.6V158.4M332.5 170.6V150.5M333.5 170.6V138.6M334.5 170.6V142.8M335.5 170.6V60.6M336.5 170.6V60.6M337.5 170.6V136.9M338.5 170.6V121.0M339.5 170.6V69.4" stroke="#f1b8a0" stroke-opacity="0.3" stroke-width="1" fill="none"/>
<path d="M186.5 170.6V135.0" stroke="#f1b8a0" stroke-opacity="0.8" stroke-width="1.2" fill="none"/>
<path d="M189.7 170.6V120.0" stroke="#f1b8a0" stroke-opacity="0.7" stroke-width="1.2" fill="none"/>
<path d="M195 170.6V143.0" stroke="#f1b8a0" stroke-opacity="0.7" stroke-width="1.2" fill="none"/>
<path d="M200.4 170.6V123.0" stroke="#f1b8a0" stroke-opacity="0.8" stroke-width="1.2" fill="none"/>
<path d="M203.6 170.6V130.0" stroke="#f1b8a0" stroke-opacity="0.7" stroke-width="1.2" fill="none"/>
<path d="M211 170.6V150.0" stroke="#f1b8a0" stroke-opacity="0.6" stroke-width="1.2" fill="none"/>
<path d="M143.8 170.6V128.4" stroke="#f1b8a0" stroke-opacity="0.8" stroke-width="1.2" fill="none"/>
<path d="M150.6 170.6V129.5" stroke="#f1b8a0" stroke-opacity="0.4" stroke-width="1.2" fill="none"/>
<path d="M165.6 170.6V147.6" stroke="#f1b8a0" stroke-opacity="0.6" stroke-width="1.2" fill="none"/>
<path d="M176.6 170.6V90.0" stroke="#f1b8a0" stroke-opacity="0.35" stroke-width="1.2" fill="none"/>
<path d="M184.9 170.6V134.5" stroke="#f1b8a0" stroke-opacity="0.7" stroke-width="1.2" fill="none"/>
<path d="M188 170.6V134.0" stroke="#f1b8a0" stroke-opacity="0.7" stroke-width="1.2" fill="none"/>
<path d="M201.5 170.6V122.7" stroke="#f1b8a0" stroke-opacity="0.8" stroke-width="1.2" fill="none"/>
<path d="M205 170.6V90.0" stroke="#f1b8a0" stroke-opacity="0.35" stroke-width="1.2" fill="none"/>
<path d="M253.6 170.6V129.8" stroke="#f1b8a0" stroke-opacity="0.7" stroke-width="1.2" fill="none"/>
<path d="M269.5 170.6V94.3" stroke="#f1b8a0" stroke-opacity="0.7" stroke-width="1.2" fill="none"/>
<path d="M266.6 170.6V122.0" stroke="#f1b8a0" stroke-opacity="0.6" stroke-width="1.2" fill="none"/>
<path d="M312.5 170.6V116.5" stroke="#f1b8a0" stroke-opacity="0.7" stroke-width="1.2" fill="none"/>
<path d="M322 170.6V102.0" stroke="#f1b8a0" stroke-opacity="0.7" stroke-width="1.2" fill="none"/>
<path d="M326.5 170.6V121.0" stroke="#f1b8a0" stroke-opacity="0.7" stroke-width="1.2" fill="none"/>
<path d="M293 170.6V135.0" stroke="#f1b8a0" stroke-opacity="0.6" stroke-width="1.2" fill="none"/>
<path d="M337.6 170.6V66.0" stroke="#f1b8a0" stroke-opacity="0.8" stroke-width="1.2" fill="none"/>
<path d="M336.5 170.6V80.0" stroke="#f1b8a0" stroke-opacity="0.6" stroke-width="1.2" fill="none"/>
<path d="M78 32H340" stroke="#dcdcdc" stroke-width="1" fill="none"/>
<path d="M340 32V170.6" stroke="#f4d6c8" stroke-width="1" fill="none"/>
<path d="M78 170.6H340" stroke="#dfc2b6" stroke-width="1" fill="none"/>
<path d="M77.7 32V171.1" stroke="#a9bfd8" stroke-width="1.3" fill="none"/>
<path d="M99.4 32v2.5" stroke="#c8c8c8" stroke-width="1" fill="none"/>
<path d="M99.4 170.6v-2.5" stroke="#d0aa9c" stroke-width="0.8" fill="none"/>
<path d="M136.9 32v2.5" stroke="#c8c8c8" stroke-width="1" fill="none"/>
<path d="M136.9 170.6v-2.5" stroke="#d0aa9c" stroke-width="0.8" fill="none"/>
<path d="M174.4 32v2.5" stroke="#c8c8c8" stroke-width="1" fill="none"/>
<path d="M174.4 170.6v-2.5" stroke="#d0aa9c" stroke-width="0.8" fill="none"/>
<path d="M211.9 32v2.5" stroke="#c8c8c8" stroke-width="1" fill="none"/>
<path d="M211.9 170.6v-2.5" stroke="#d0aa9c" stroke-width="0.8" fill="none"/>
<path d="M249.4 32v2.5" stroke="#c8c8c8" stroke-width="1" fill="none"/>
<path d="M249.4 170.6v-2.5" stroke="#d0aa9c" stroke-width="0.8" fill="none"/>
<path d="M286.9 32v2.5" stroke="#c8c8c8" stroke-width="1" fill="none"/>
<path d="M286.9 170.6v-2.5" stroke="#d0aa9c" stroke-width="0.8" fill="none"/>
<path d="M324.4 32v2.5" stroke="#c8c8c8" stroke-width="1" fill="none"/>
<path d="M324.4 170.6v-2.5" stroke="#d0aa9c" stroke-width="0.8" fill="none"/>
<path d="M340 168.2h-2" stroke="#eab8a4" stroke-width="1" fill="none"/>
<path d="M340 149.8h-2" stroke="#eab8a4" stroke-width="1" fill="none"/>
<path d="M340 131.0h-2" stroke="#eab8a4" stroke-width="1" fill="none"/>
<path d="M340 111.6h-2" stroke="#eab8a4" stroke-width="1" fill="none"/>
<path d="M340 91.2h-2" stroke="#eab8a4" stroke-width="1" fill="none"/>
<path d="M340 71.4h-2" stroke="#eab8a4" stroke-width="1" fill="none"/>
<path d="M340 51.6h-2" stroke="#eab8a4" stroke-width="1" fill="none"/>
<path d="M340 32.5h-2" stroke="#eab8a4" stroke-width="1" fill="none"/>
<path d="M78 60.2h2" stroke="#a9c0da" stroke-width="1" fill="none"/>
<path d="M78 95.0h2" stroke="#a9c0da" stroke-width="1" fill="none"/>
<path d="M78 129.5h2" stroke="#a9c0da" stroke-width="1" fill="none"/>
<path d="M78 164.2h2" stroke="#a9c0da" stroke-width="1" fill="none"/>
<polyline points="79.0,57.5 79.5,57.8 80.0,57.5 80.5,57.4 81.0,57.3 81.5,57.3 82.0,57.7 82.5,58.3 83.0,57.7 83.5,57.9 84.0,57.8 84.5,57.5 85.0,57.6 85.5,57.6 86.0,57.5 86.5,58.1 87.0,57.4 87.5,57.7 88.0,57.8 88.5,57.6 89.0,57.7 89.5,57.9 90.0,57.8 90.5,57.8 91.0,57.9 91.5,57.3 92.0,57.9 92.5,58.3 93.0,58.1 93.5,58.1 94.0,57.5 94.5,57.6 95.0,57.5 95.5,57.5 96.0,57.9 96.5,57.6 97.0,57.7 97.5,57.3 98.0,57.6 98.5,57.7 99.0,57.6 99.5,57.5 100.0,58.1 100.5,57.6 101.0,57.5 101.5,57.5 102.0,57.9 102.5,58.3 103.0,58.0 103.5,57.7 104.0,57.6 104.5,58.0 105.0,57.6 105.5,58.0 106.0,58.2 106.5,57.9 107.0,57.9 107.5,58.0 108.0,58.2 108.5,57.7 109.0,58.0 109.5,57.8 110.0,57.6 110.5,57.7 111.0,57.7 111.5,57.5 112.0,57.3 112.5,57.4 113.0,58.0 113.5,58.3 114.0,58.1 114.5,58.1 115.0,57.8 115.5,57.8 116.0,57.8 116.5,57.6 117.0,57.5 117.5,57.7 118.0,57.7 118.5,57.5 119.0,57.8 119.5,57.7 120.0,58.0 120.5,57.8 121.0,57.7 121.5,57.8 122.0,57.8 122.5,57.6 123.0,57.7 123.5,57.9 124.0,58.0 124.5,58.1 125.0,57.5 125.5,57.6 126.0,57.7 126.5,57.9 127.0,58.0 127.5,58.1 128.0,58.5 128.5,58.5 129.0,58.4 129.5,58.5 130.0,58.3 130.5,57.7 131.0,57.6 131.5,57.0 132.0,57.0 132.5,56.5 133.0,56.0 133.5,56.1 134.0,56.0 134.5,56.2 135.0,56.2 135.5,56.2 136.0,56.1 136.5,55.4 137.0,56.0 137.5,55.7 138.0,56.1 138.5,56.4 139.0,56.3 139.5,56.2 140.0,56.1 140.5,56.2 141.0,56.1 141.5,56.0 142.0,55.9 142.5,56.4 143.0,56.3 143.5,56.4 144.0,56.2 144.5,56.3 145.0,56.3 145.5,56.5 146.0,56.7 146.5,56.7 147.0,56.5 147.5,56.5 148.0,57.1 148.5,56.9 149.0,56.9 149.5,57.3 150.0,57.4 150.5,57.3 151.0,57.1 151.5,57.6 152.0,57.3 152.5,57.3 153.0,57.1 153.5,56.8 154.0,56.7 154.5,57.1 155.0,57.2 155.5,57.0 156.0,56.8 156.5,56.7 157.0,56.9 157.5,56.7 158.0,57.1 158.5,57.3 159.0,57.8 159.5,57.5 160.0,57.0 160.5,56.9 161.0,56.2 161.5,56.7 162.0,56.9 162.5,57.2 163.0,57.2 163.5,57.2 164.0,57.1 164.5,57.2 165.0,57.4 165.5,56.9 166.0,56.9 166.5,56.7 167.0,57.3 167.5,57.4 168.0,57.3 168.5,56.8 169.0,57.0 169.5,56.9 170.0,57.0 170.5,57.0 171.0,57.1 171.5,56.9 172.0,57.2 172.5,57.1 173.0,56.9 173.5,56.9 174.0,56.9 174.5,57.1 175.0,57.0 175.5,57.0 176.0,56.9 176.5,56.6 177.0,57.1 177.5,56.8 178.0,57.0 178.5,57.1 179.0,56.6 179.5,56.6 180.0,56.7 180.5,56.7 181.0,56.6 181.5,57.0 182.0,56.9 182.5,57.0 183.0,56.9 183.5,57.0 184.0,56.8 184.5,56.9 185.0,57.0 185.5,57.0 186.0,56.8 186.5,56.6 187.0,56.9 187.5,57.0 188.0,56.9 188.5,56.4 189.0,56.3 189.5,56.8 190.0,56.3 190.5,56.3 191.0,56.3 191.5,55.7 192.0,56.1 192.5,56.0 193.0,56.4 193.5,56.2 194.0,56.0 194.5,56.1 195.0,56.2 195.5,56.1 196.0,56.2 196.5,55.9 197.0,56.1 197.5,56.3 198.0,56.7 198.5,56.5 199.0,56.3 199.5,56.5 200.0,56.5 200.5,56.7 201.0,56.6 201.5,56.3 202.0,56.3 202.5,56.3 203.0,56.3 203.5,56.4 204.0,56.2 204.5,56.0 205.0,56.3 205.5,56.2 206.0,56.7 206.5,56.9 207.0,56.6 207.5,57.1 208.0,57.4 208.5,57.4 209.0,57.8 209.5,58.0 210.0,57.5 210.5,57.8 211.0,57.8 211.5,57.7 212.0,57.8 212.5,57.5 213.0,57.4 213.5,57.4 214.0,57.4 214.5,57.5 215.0,57.3 215.5,57.3 216.0,57.6 216.5,57.6 217.0,57.7 217.5,57.2 218.0,57.3 218.5,57.4 219.0,57.5 219.5,57.5 220.0,57.8 220.5,57.6 221.0,57.6 221.5,57.6 222.0,57.8 222.5,57.5 223.0,57.8 223.5,57.8 224.0,57.7 224.5,57.6 225.0,57.7 225.5,57.9 226.0,57.9 226.5,57.8 227.0,57.8 227.5,57.7 228.0,57.9 228.5,57.7 229.0,57.2 229.5,57.8 230.0,57.7 230.5,57.4 231.0,57.5 231.5,57.4 232.0,58.0 232.5,57.8 233.0,57.3 233.5,57.6 234.0,57.5 234.5,58.0 235.0,57.5 235.5,57.1 236.0,57.5 236.5,57.5 237.0,57.5 237.5,57.1 238.0,57.5 238.5,58.0 239.0,57.3 239.5,57.8 240.0,57.5 240.5,58.1 241.0,57.8 241.5,57.6 242.0,57.9 242.5,57.8 243.0,57.5 243.5,57.7 244.0,57.5 244.5,57.2 245.0,57.9 245.5,57.6 246.0,57.5 246.5,57.6 247.0,57.3 247.5,57.2 248.0,57.4 248.5,57.4 249.0,57.6 249.5,57.8 250.0,57.6 250.5,58.0 251.0,58.3 251.5,58.2 252.0,58.6 252.5,58.7 253.0,58.9 253.5,58.7 254.0,58.4 254.5,57.9 255.0,57.9 255.5,57.6 256.0,57.7 256.5,57.5 257.0,57.1 257.5,57.3 258.0,57.2 258.5,56.8 259.0,57.0 259.5,56.6 260.0,56.4 260.5,56.3 261.0,56.0 261.5,55.9 262.0,55.8 262.5,56.2 263.0,56.3 263.5,55.9 264.0,56.2 264.5,56.0 265.0,56.0 265.5,56.1 266.0,55.9 266.5,56.4 267.0,56.0 267.5,55.6 268.0,56.0 268.5,55.7 269.0,55.7 269.5,55.1 270.0,55.7 270.5,55.9 271.0,55.9 271.5,56.0 272.0,56.1 272.5,55.8 273.0,55.9 273.5,55.6 274.0,55.5 274.5,55.8 275.0,55.8 275.5,55.4 276.0,55.6 276.5,55.6 277.0,55.4 277.5,55.6 278.0,55.5 278.5,55.2 279.0,55.2 279.5,55.8 280.0,55.3 280.5,55.5 281.0,55.6 281.5,55.7 282.0,55.3 282.5,55.3 283.0,55.4 283.5,55.6 284.0,55.3 284.5,55.1 285.0,55.6 285.5,55.7 286.0,55.6 286.5,55.3 287.0,55.4 287.5,55.4 288.0,55.5 288.5,55.1 289.0,55.3 289.5,55.3 290.0,55.1 290.5,55.3 291.0,55.3 291.5,55.2 292.0,55.3 292.5,55.0 293.0,55.1 293.5,55.3 294.0,55.3 294.5,55.5 295.0,55.0 295.5,54.8 296.0,55.1 296.5,55.3 297.0,55.7 297.5,55.4 298.0,55.0 298.5,55.3 299.0,55.0 299.5,54.7 300.0,55.6 300.5,55.3 301.0,55.3 301.5,55.2 302.0,55.5 302.5,55.2 303.0,55.3 303.5,54.8 304.0,54.6 304.5,55.1 305.0,55.3 305.5,55.1 306.0,55.0 306.5,54.9 307.0,54.7 307.5,55.1 308.0,55.0 308.5,54.9 309.0,54.9 309.5,55.0 310.0,54.9 310.5,54.9 311.0,54.5 311.5,54.7 312.0,55.1 312.5,54.6 313.0,54.6 313.5,54.8 314.0,54.8 314.5,54.7 315.0,54.2 315.5,53.9 316.0,53.0 316.5,52.4 317.0,52.1 317.5,51.3 318.0,52.3 318.5,53.5 319.0,53.9 319.5,54.5 320.0,54.8 320.5,54.7 321.0,54.6 321.5,54.7 322.0,54.6 322.5,54.7 323.0,54.8 323.5,54.7 324.0,54.6 324.5,54.5 325.0,54.9 325.5,55.0 326.0,55.2 326.5,55.3 327.0,55.0 327.5,55.2 328.0,54.7 328.5,55.4 329.0,55.4 329.5,55.1 330.0,54.8 330.5,55.1 331.0,54.6 331.5,54.8 332.0,55.1 332.5,55.1 333.0,55.0 333.5,55.3 334.0,54.9 334.5,55.1 335.0,55.0 335.5,54.7 336.0,54.7 336.5,54.2 337.0,54.6 337.5,54.0 338.0,54.2 338.5,53.9 339.0,54.3 339.5,54.2" stroke="#5e62d4" stroke-width="1.0" fill="none"/>
<polyline points="78.0,129.5 132.8,129.5 132.8,164.2 181.3,164.2 181.3,95.0 190.1,95.0 190.1,129.5 195.1,129.5 195.1,95.0 204.5,95.0 204.5,129.5 253.2,129.5 253.2,164.2 257.3,164.2 257.3,129.5 275.9,129.5 275.9,164.2 289.5,164.2 289.5,129.5 335.5,129.5 335.5,60.2 340.0,60.2" stroke="#454545" stroke-width="1.1" fill="none" stroke-linejoin="miter"/>
<text x="12.30" y="21.30" font-size="12.8" fill="#111" stroke="#111" text-anchor="start" font-weight="bold" >(A)</text>
<text x="208.3" y="22" font-size="13.8" fill="#111" stroke="#111" text-anchor="middle">Control Group</text>
<text x="75.90" y="63.00" font-size="8.9" fill="#1e1e1e" stroke="#1e1e1e" text-anchor="end" font-weight="normal" >Awake</text>
<text x="75.90" y="97.80" font-size="8.9" fill="#1e1e1e" stroke="#1e1e1e" text-anchor="end" font-weight="normal" >REM</text>
<text x="75.90" y="132.30" font-size="8.9" fill="#1e1e1e" stroke="#1e1e1e" text-anchor="end" font-weight="normal" >Light Sleep</text>
<text x="75.90" y="167.00" font-size="8.9" fill="#1e1e1e" stroke="#1e1e1e" text-anchor="end" font-weight="normal" >Deep Sleep</text>
<text x="19.20" y="103.30" font-size="9.65" fill="#222" stroke="#222" text-anchor="middle" font-weight="normal" transform="rotate(-90 19.20 103.30)" >Sleep Stage</text>
<text x="99.40" y="180.80" font-size="8.8" fill="#222" stroke="#222" text-anchor="middle" font-weight="normal" >00:00</text>
<text x="136.90" y="180.80" font-size="8.8" fill="#222" stroke="#222" text-anchor="middle" font-weight="normal" >01:00</text>
<text x="174.40" y="180.80" font-size="8.8" fill="#222" stroke="#222" text-anchor="middle" font-weight="normal" >02:00</text>
<text x="211.90" y="180.80" font-size="8.8" fill="#222" stroke="#222" text-anchor="middle" font-weight="normal" >03:00</text>
<text x="249.40" y="180.80" font-size="8.8" fill="#222" stroke="#222" text-anchor="middle" font-weight="normal" >04:00</text>
<text x="286.90" y="180.80" font-size="8.8" fill="#222" stroke="#222" text-anchor="middle" font-weight="normal" >05:00</text>
<text x="324.40" y="180.80" font-size="8.8" fill="#222" stroke="#222" text-anchor="middle" font-weight="normal" >06:00</text>
<text x="340.80" y="41.30" font-size="8.6" fill="#2a3cf5" stroke="#2a3cf5" text-anchor="start" font-weight="normal" >190</text>
<text x="340.80" y="49.30" font-size="8.6" fill="#2a3cf5" stroke="#2a3cf5" text-anchor="start" font-weight="normal" >140</text>
<text x="340.80" y="57.00" font-size="8.6" fill="#2a3cf5" stroke="#2a3cf5" text-anchor="start" font-weight="normal" >90</text>
<text x="340.80" y="65.30" font-size="8.6" fill="#2a3cf5" stroke="#2a3cf5" text-anchor="start" font-weight="normal" >40</text>
<text x="374.70" y="171.30" font-size="8.7" fill="#d5785a" stroke="#d5785a" text-anchor="start" font-weight="normal" >0</text>
<text x="374.70" y="152.90" font-size="8.7" fill="#d5785a" stroke="#d5785a" text-anchor="start" font-weight="normal" >1000</text>
<text x="374.70" y="134.10" font-size="8.7" fill="#d5785a" stroke="#d5785a" text-anchor="start" font-weight="normal" >2000</text>
<text x="374.70" y="114.70" font-size="8.7" fill="#d5785a" stroke="#d5785a" text-anchor="start" font-weight="normal" >3000</text>
<text x="374.70" y="94.30" font-size="8.7" fill="#d5785a" stroke="#d5785a" text-anchor="start" font-weight="normal" >4000</text>
<text x="374.70" y="74.50" font-size="8.7" fill="#d5785a" stroke="#d5785a" text-anchor="start" font-weight="normal" >5000</text>
<text x="374.70" y="54.70" font-size="8.7" fill="#d5785a" stroke="#d5785a" text-anchor="start" font-weight="normal" >6000</text>
<text x="374.70" y="35.60" font-size="8.7" fill="#d5785a" stroke="#d5785a" text-anchor="start" font-weight="normal" >7000</text>
<text x="368.30" y="93.30" font-size="9.7" fill="#2a3cf5" stroke="#2a3cf5" text-anchor="middle" font-weight="normal" transform="rotate(-90 368.30 93.30)" >Heart Rate (bpm)</text>
<text x="413.50" y="96.40" font-size="9.6" fill="#d5785a" stroke="#d5785a" text-anchor="middle" font-weight="normal" transform="rotate(-90 413.50 96.40)" >G strength</text>
<path d="M76.5 351.4V332.6M77.5 351.4V328.5M78.5 351.4V331.6M79.5 351.4V330.2M80.5 351.4V336.8M81.5 351.4V334.9M82.5 351.4V337.0M83.5 351.4V335.8M84.5 351.4V334.2M85.5 351.4V334.9M86.5 351.4V336.2M87.5 351.4V337.2M88.5 351.4V337.1M89.5 351.4V335.7M90.5 351.4V335.1M91.5 351.4V334.5M92.5 351.4V335.8M93.5 351.4V336.7M94.5 351.4V335.8M95.5 351.4V334.3M96.5 351.4V335.7M97.5 351.4V333.4M98.5 351.4V334.6M99.5 351.4V334.9M100.5 351.4V333.8M101.5 351.4V334.4M102.5 351.4V336.2M103.5 351.4V333.8M104.5 351.4V335.2M105.5 351.4V336.0M106.5 351.4V336.3M107.5 351.4V333.7M108.5 351.4V335.8M109.5 351.4V335.9M110.5 351.4V336.4M111.5 351.4V333.8M112.5 351.4V336.1M113.5 351.4V336.4M114.5 351.4V336.9M115.5 351.4V333.5M116.5 351.4V334.2M117.5 351.4V336.5M118.5 351.4V336.7M119.5 351.4V334.1M120.5 351.4V336.6M121.5 351.4V336.5M122.5 351.4V334.8M123.5 351.4V334.4M124.5 351.4V337.4M125.5 351.4V336.4M126.5 351.4V335.1M127.5 351.4V337.4M128.5 351.4V333.7M129.5 351.4V337.4M130.5 351.4V334.1M131.5 351.4V335.4M132.5 351.4V337.0M133.5 351.4V335.7M134.5 351.4V336.7M135.5 351.4V336.9M136.5 351.4V334.4M137.5 351.4V333.5M138.5 351.4V335.1M139.5 351.4V334.7M140.5 351.4V334.5M141.5 351.4V335.9M142.5 351.4V333.5M143.5 351.4V337.3M144.5 351.4V335.3M145.5 351.4V334.0M146.5 351.4V334.8M147.5 351.4V337.1M148.5 351.4V333.7M149.5 351.4V335.7M150.5 351.4V336.4M151.5 351.4V333.6M152.5 351.4V334.2M153.5 351.4V335.5M154.5 351.4V334.1M155.5 351.4V335.0M156.5 351.4V336.9M157.5 351.4V333.5M158.5 351.4V336.4M159.5 351.4V334.0M160.5 351.4V336.9M161.5 351.4V333.4M162.5 351.4V335.4M163.5 351.4V337.3M164.5 351.4V335.3M165.5 351.4V336.3M166.5 351.4V336.0M167.5 351.4V336.3M168.5 351.4V333.7M169.5 351.4V334.6M170.5 351.4V333.4M171.5 351.4V337.0M172.5 351.4V335.0M173.5 351.4V333.9M174.5 351.4V333.4M175.5 351.4V336.3M176.5 351.4V335.1M177.5 351.4V334.4M178.5 351.4V336.9M179.5 351.4V334.3M180.5 351.4V335.1M181.5 351.4V335.3M182.5 351.4V335.8M183.5 351.4V337.3M184.5 351.4V333.1M185.5 351.4V334.4M186.5 351.4V333.1M187.5 351.4V333.4M188.5 351.4V336.2M189.5 351.4V334.4M190.5 351.4V334.6M191.5 351.4V336.5M192.5 351.4V334.6M193.5 351.4V335.9M194.5 351.4V333.5M195.5 351.4V333.8M196.5 351.4V334.2M197.5 351.4V333.4M198.5 351.4V336.4M199.5 351.4V333.9M200.5 351.4V336.5M201.5 351.4V335.4M202.5 351.4V336.9M203.5 351.4V334.3M204.5 351.4V337.1M205.5 351.4V333.9M206.5 351.4V334.1M207.5 351.4V335.3M208.5 351.4V336.8M209.5 351.4V332.0M210.5 351.4V336.9M211.5 351.4V333.0M212.5 351.4V335.7M213.5 351.4V332.8M214.5 351.4V331.9M215.5 351.4V335.9M216.5 351.4V336.5M217.5 351.4V334.2M218.5 351.4V334.5M219.5 351.4V336.0M220.5 351.4V335.8M221.5 351.4V332.1M222.5 351.4V334.1M223.5 351.4V331.9M224.5 351.4V336.5M225.5 351.4V332.0M226.5 351.4V333.3M227.5 351.4V334.0M228.5 351.4V334.7M229.5 351.4V336.6M230.5 351.4V336.7M231.5 351.4V337.3M232.5 351.4V337.1M233.5 351.4V335.6M234.5 351.4V331.7M235.5 351.4V334.1M236.5 351.4V333.7M237.5 351.4V335.8M238.5 351.4V331.9M239.5 351.4V335.2M240.5 351.4V335.6M241.5 351.4V334.0M242.5 351.4V333.4M243.5 351.4V334.1M244.5 351.4V337.0M245.5 351.4V336.2M246.5 351.4V333.9M247.5 351.4V335.6M248.5 351.4V336.9M249.5 351.4V337.3M250.5 351.4V334.4M251.5 351.4V337.0M252.5 351.4V331.7M253.5 351.4V332.1M254.5 351.4V333.8M255.5 351.4V336.0M256.5 351.4V336.7M257.5 351.4V335.3M258.5 351.4V337.7M259.5 351.4V335.1M260.5 351.4V336.7M261.5 351.4V335.1M262.5 351.4V337.9M263.5 351.4V335.2M264.5 351.4V336.2M265.5 351.4V337.4M266.5 351.4V338.2M267.5 351.4V337.9M268.5 351.4V334.6M269.5 351.4V337.6M270.5 351.4V336.1M271.5 351.4V334.9M272.5 351.4V337.1M273.5 351.4V338.2M274.5 351.4V337.6M275.5 351.4V338.1M276.5 351.4V334.6M277.5 351.4V335.9M278.5 351.4V337.3M279.5 351.4V336.2M280.5 351.4V337.3M281.5 351.4V335.0M282.5 351.4V335.0M283.5 351.4V335.9M284.5 351.4V335.6M285.5 351.4V335.6M286.5 351.4V335.0M287.5 351.4V335.5M288.5 351.4V336.8M289.5 351.4V335.3M290.5 351.4V336.8M291.5 351.4V336.5M292.5 351.4V335.7M293.5 351.4V334.7M294.5 351.4V335.0M295.5 351.4V336.6M296.5 351.4V335.9M297.5 351.4V335.7M298.5 351.4V338.2M299.5 351.4V334.9M300.5 351.4V335.5M301.5 351.4V335.9M302.5 351.4V334.6M303.5 351.4V335.3M304.5 351.4V336.1M305.5 351.4V337.5M306.5 351.4V336.8M307.5 351.4V335.8M308.5 351.4V334.5M309.5 351.4V337.1M310.5 351.4V337.8M311.5 351.4V335.1M312.5 351.4V336.1M313.5 351.4V337.8M314.5 351.4V336.8M315.5 351.4V328.2M316.5 351.4V324.1M317.5 351.4V326.4M318.5 351.4V324.1M319.5 351.4V327.7M320.5 351.4V320.0M321.5 351.4V319.8M322.5 351.4V322.1M323.5 351.4V322.4M324.5 351.4V321.5M325.5 351.4V321.4M326.5 351.4V325.4M327.5 351.4V324.0M328.5 351.4V326.2M329.5 351.4V327.7M330.5 351.4V319.0M331.5 351.4V325.0M332.5 351.4V324.3M333.5 351.4V323.0M334.5 351.4V326.8M335.5 351.4V325.1M336.5 351.4V320.0" stroke="#f1b8a0" stroke-opacity="1.0" stroke-width="1" fill="none"/>
<path d="M76.5 351.4V307.8M77.5 351.4V317.7M78.5 351.4V261.4M79.5 351.4V323.9M80.5 351.4V331.4M81.5 351.4V330.7M82.5 351.4V331.7M83.5 351.4V335.1M84.5 351.4V330.0M85.5 351.4V325.7M86.5 351.4V330.7M87.5 351.4V321.9M88.5 351.4V331.3M89.5 351.4V330.4M90.5 351.4V335.1M91.5 351.4V334.6M92.5 351.4V327.2M93.5 351.4V332.9M94.5 351.4V328.2M95.5 351.4V332.2M96.5 351.4V335.2M97.5 351.4V326.4M98.5 351.4V326.4M99.5 351.4V332.7M100.5 351.4V330.7M101.5 351.4V331.1M102.5 351.4V335.4M103.5 351.4V333.9M104.5 351.4V335.3M105.5 351.4V335.2M106.5 351.4V334.4M107.5 351.4V334.9M108.5 351.4V335.4M109.5 351.4V333.7M110.5 351.4V330.6M111.5 351.4V333.3M112.5 351.4V334.6M113.5 351.4V334.2M114.5 351.4V331.7M115.5 351.4V326.4M116.5 351.4V326.4M117.5 351.4V326.4M118.5 351.4V332.1M119.5 351.4V334.0M120.5 351.4V332.9M121.5 351.4V329.3M122.5 351.4V335.4M123.5 351.4V333.9M124.5 351.4V327.1M125.5 351.4V326.9M126.5 351.4V334.9M127.5 351.4V333.6M128.5 351.4V335.0M129.5 351.4V333.5M130.5 351.4V334.0M131.5 351.4V332.8M132.5 351.4V334.6M133.5 351.4V335.3M134.5 351.4V327.2M135.5 351.4V326.4M136.5 351.4V326.4M137.5 351.4V326.4M138.5 351.4V334.0M139.5 351.4V332.2M140.5 351.4V326.4M141.5 351.4V333.7M142.5 351.4V328.7M143.5 351.4V334.9M144.5 351.4V335.1M145.5 351.4V335.3M146.5 351.4V334.1M147.5 351.4V334.5M148.5 351.4V331.3M149.5 351.4V334.8M150.5 351.4V328.9M151.5 351.4V335.0M152.5 351.4V326.5M153.5 351.4V334.7M154.5 351.4V335.0M155.5 351.4V331.8M156.5 351.4V329.2M157.5 351.4V334.5M158.5 351.4V333.4M159.5 351.4V333.9M160.5 351.4V326.4M161.5 351.4V334.4M162.5 351.4V334.2M163.5 351.4V327.4M164.5 351.4V333.4M165.5 351.4V330.4M166.5 351.4V330.9M167.5 351.4V333.9M168.5 351.4V326.4M169.5 351.4V329.5M170.5 351.4V332.4M171.5 351.4V333.9M172.5 351.4V331.9M173.5 351.4V334.2M174.5 351.4V334.8M175.5 351.4V332.2M176.5 351.4V326.8M177.5 351.4V333.7M178.5 351.4V332.4M179.5 351.4V334.6M180.5 351.4V329.8M181.5 351.4V333.8M182.5 351.4V333.8M183.5 351.4V321.3M184.5 351.4V312.4M185.5 351.4V327.0M186.5 351.4V332.6M187.5 351.4V333.1M188.5 351.4V332.2M189.5 351.4V332.6M190.5 351.4V333.7M191.5 351.4V329.1M192.5 351.4V327.2M193.5 351.4V332.5M194.5 351.4V330.8M195.5 351.4V332.2M196.5 351.4V332.1M197.5 351.4V326.6M198.5 351.4V332.8M199.5 351.4V334.1M200.5 351.4V332.6M201.5 351.4V333.9M202.5 351.4V320.1M203.5 351.4V333.6M204.5 351.4V332.9M205.5 351.4V325.6M206.5 351.4V329.3M207.5 351.4V331.3M208.5 351.4V334.2M209.5 351.4V310.1M210.5 351.4V327.5M211.5 351.4V326.8M212.5 351.4V329.8M213.5 351.4V330.0M214.5 351.4V322.2M215.5 351.4V328.5M216.5 351.4V324.4M217.5 351.4V317.9M218.5 351.4V319.5M219.5 351.4V331.3M220.5 351.4V327.6M221.5 351.4V330.2M222.5 351.4V331.5M223.5 351.4V330.8M224.5 351.4V333.7M225.5 351.4V322.9M226.5 351.4V332.6M227.5 351.4V321.3M228.5 351.4V334.3M229.5 351.4V330.3M230.5 351.4V316.7M231.5 351.4V329.5M232.5 351.4V322.2M233.5 351.4V332.1M234.5 351.4V331.4M235.5 351.4V315.2M236.5 351.4V303.2M237.5 351.4V330.7M238.5 351.4V334.4M239.5 351.4V333.7M240.5 351.4V283.8M241.5 351.4V321.4M242.5 351.4V318.6M243.5 351.4V329.6M244.5 351.4V333.7M245.5 351.4V318.7M246.5 351.4V333.7M247.5 351.4V329.3M248.5 351.4V327.2M249.5 351.4V325.6M250.5 351.4V281.4M251.5 351.4V321.9M252.5 351.4V295.7M253.5 351.4V315.5M254.5 351.4V281.4M255.5 351.4V312.6M256.5 351.4V329.4M257.5 351.4V336.4M258.5 351.4V335.8M259.5 351.4V334.6M260.5 351.4V331.0M261.5 351.4V331.1M262.5 351.4V329.4M263.5 351.4V335.5M264.5 351.4V334.0M265.5 351.4V335.4M266.5 351.4V335.1M267.5 351.4V335.2M268.5 351.4V335.9M269.5 351.4V332.6M270.5 351.4V335.4M271.5 351.4V333.1M272.5 351.4V334.6M273.5 351.4V335.0M274.5 351.4V331.2M275.5 351.4V333.3M276.5 351.4V335.7M277.5 351.4V330.2M278.5 351.4V336.0M279.5 351.4V336.1M280.5 351.4V335.5M281.5 351.4V335.3M282.5 351.4V336.1M283.5 351.4V331.4M284.5 351.4V332.3M285.5 351.4V333.9M286.5 351.4V329.4M287.5 351.4V333.3M288.5 351.4V330.7M289.5 351.4V329.4M290.5 351.4V335.0M291.5 351.4V335.2M292.5 351.4V333.1M293.5 351.4V335.3M294.5 351.4V334.9M295.5 351.4V331.1M296.5 351.4V333.7M297.5 351.4V335.4M298.5 351.4V332.8M299.5 351.4V335.0M300.5 351.4V335.7M301.5 351.4V335.8M302.5 351.4V335.8M303.5 351.4V335.8M304.5 351.4V335.7M305.5 351.4V335.6M306.5 351.4V336.0M307.5 351.4V334.3M308.5 351.4V333.4M309.5 351.4V335.9M310.5 351.4V333.8M311.5 351.4V335.2M312.5 351.4V336.2M313.5 351.4V336.2M314.5 351.4V336.2M315.5 351.4V288.4M316.5 351.4V310.1M317.5 351.4V316.4M318.5 351.4V321.6M319.5 351.4V322.2M320.5 351.4V310.3M321.5 351.4V298.0M322.5 351.4V298.7M323.5 351.4V319.3M324.5 351.4V308.7M325.5 351.4V294.3M326.5 351.4V322.9M327.5 351.4V286.4M328.5 351.4V256.4M329.5 351.4V256.4M330.5 351.4V284.3M331.5 351.4V318.9M332.5 351.4V316.5M333.5 351.4V306.1M334.5 351.4V301.9M335.5 351.4V317.3M336.5 351.4V275.6" stroke="#f1b8a0" stroke-opacity="0.3" stroke-width="1" fill="none"/>
<path d="M76.5 351.4V262.6M77.5 351.4V297.1M78.5 351.4V268.0M79.5 351.4V325.9M80.5 351.4V335.0M81.5 351.4V334.1M82.5 351.4V328.4M83.5 351.4V334.7M84.5 351.4V333.8M85.5 351.4V332.4M86.5 351.4V333.8M87.5 351.4V321.4M88.5 351.4V321.4M89.5 351.4V331.0M90.5 351.4V326.4M91.5 351.4V332.9M92.5 351.4V333.6M93.5 351.4V334.6M94.5 351.4V326.4M95.5 351.4V331.1M96.5 351.4V330.9M97.5 351.4V329.9M98.5 351.4V334.1M99.5 351.4V334.2M100.5 351.4V333.6M101.5 351.4V326.5M102.5 351.4V335.1M103.5 351.4V334.5M104.5 351.4V335.4M105.5 351.4V333.8M106.5 351.4V334.7M107.5 351.4V335.4M108.5 351.4V335.3M109.5 351.4V333.2M110.5 351.4V333.9M111.5 351.4V326.4M112.5 351.4V334.8M113.5 351.4V332.9M114.5 351.4V334.4M115.5 351.4V326.4M116.5 351.4V326.4M117.5 351.4V326.4M118.5 351.4V335.3M119.5 351.4V330.9M120.5 351.4V332.5M121.5 351.4V330.5M122.5 351.4V331.5M123.5 351.4V329.6M124.5 351.4V332.1M125.5 351.4V334.6M126.5 351.4V333.7M127.5 351.4V334.3M128.5 351.4V334.5M129.5 351.4V333.9M130.5 351.4V332.7M131.5 351.4V335.1M132.5 351.4V335.3M133.5 351.4V334.3M134.5 351.4V335.0M135.5 351.4V326.4M136.5 351.4V326.4M137.5 351.4V326.4M138.5 351.4V326.4M139.5 351.4V326.4M140.5 351.4V326.4M141.5 351.4V334.7M142.5 351.4V329.1M143.5 351.4V333.7M144.5 351.4V335.4M145.5 351.4V332.8M146.5 351.4V332.0M147.5 351.4V333.6M148.5 351.4V331.9M149.5 351.4V332.2M150.5 351.4V330.9M151.5 351.4V330.3M152.5 351.4V334.6M153.5 351.4V335.1M154.5 351.4V332.7M155.5 351.4V333.6M156.5 351.4V332.8M157.5 351.4V334.0M158.5 351.4V330.0M159.5 351.4V327.4M160.5 351.4V333.4M161.5 351.4V333.5M162.5 351.4V331.0M163.5 351.4V335.0M164.5 351.4V333.2M165.5 351.4V335.2M166.5 351.4V332.4M167.5 351.4V329.4M168.5 351.4V329.9M169.5 351.4V326.4M170.5 351.4V333.5M171.5 351.4V326.4M172.5 351.4V329.0M173.5 351.4V334.3M174.5 351.4V334.3M175.5 351.4V332.8M176.5 351.4V326.4M177.5 351.4V334.0M178.5 351.4V333.7M179.5 351.4V334.1M180.5 351.4V333.8M181.5 351.4V332.0M182.5 351.4V332.9M183.5 351.4V333.0M184.5 351.4V333.1M185.5 351.4V330.8M186.5 351.4V304.7M187.5 351.4V334.3M188.5 351.4V330.9M189.5 351.4V333.5M190.5 351.4V321.2M191.5 351.4V332.3M192.5 351.4V327.6M193.5 351.4V332.6M194.5 351.4V331.0M195.5 351.4V325.5M196.5 351.4V334.4M197.5 351.4V331.4M198.5 351.4V328.1M199.5 351.4V333.2M200.5 351.4V333.9M201.5 351.4V332.6M202.5 351.4V328.0M203.5 351.4V314.2M204.5 351.4V295.3M205.5 351.4V313.3M206.5 351.4V324.4M207.5 351.4V332.1M208.5 351.4V324.3M209.5 351.4V329.3M210.5 351.4V333.2M211.5 351.4V331.3M212.5 351.4V314.0M213.5 351.4V297.4M214.5 351.4V332.0M215.5 351.4V322.5M216.5 351.4V330.2M217.5 351.4V326.2M218.5 351.4V319.3M219.5 351.4V318.5M220.5 351.4V293.2M221.5 351.4V331.7M222.5 351.4V292.1M223.5 351.4V318.6M224.5 351.4V287.7M225.5 351.4V329.2M226.5 351.4V331.9M227.5 351.4V330.9M228.5 351.4V322.4M229.5 351.4V331.2M230.5 351.4V332.7M231.5 351.4V327.7M232.5 351.4V334.1M233.5 351.4V312.6M234.5 351.4V327.5M235.5 351.4V333.7M236.5 351.4V307.9M237.5 351.4V299.3M238.5 351.4V327.9M239.5 351.4V326.3M240.5 351.4V305.2M241.5 351.4V322.5M242.5 351.4V324.4M243.5 351.4V319.9M244.5 351.4V298.6M245.5 351.4V299.1M246.5 351.4V322.2M247.5 351.4V325.0M248.5 351.4V329.3M249.5 351.4V329.2M250.5 351.4V313.6M251.5 351.4V299.1M252.5 351.4V290.5M253.5 351.4V323.0M254.5 351.4V287.9M255.5 351.4V281.4M256.5 351.4V335.3M257.5 351.4V329.4M258.5 351.4V331.0M259.5 351.4V334.5M260.5 351.4V329.4M261.5 351.4V329.4M262.5 351.4V336.1M263.5 351.4V333.4M264.5 351.4V329.4M265.5 351.4V335.5M266.5 351.4V335.3M267.5 351.4V336.3M268.5 351.4V334.9M269.5 351.4V330.9M270.5 351.4V330.3M271.5 351.4V331.9M272.5 351.4V332.0M273.5 351.4V332.5M274.5 351.4V334.4M275.5 351.4V329.4M276.5 351.4V336.4M277.5 351.4V329.4M278.5 351.4V335.4M279.5 351.4V330.4M280.5 351.4V335.8M281.5 351.4V335.7M282.5 351.4V336.3M283.5 351.4V335.7M284.5 351.4V329.8M285.5 351.4V334.7M286.5 351.4V329.4M287.5 351.4V331.8M288.5 351.4V335.1M289.5 351.4V336.3M290.5 351.4V333.5M291.5 351.4V335.7M292.5 351.4V336.1M293.5 351.4V333.8M294.5 351.4V336.3M295.5 351.4V331.1M296.5 351.4V329.7M297.5 351.4V336.2M298.5 351.4V334.2M299.5 351.4V334.9M300.5 351.4V332.9M301.5 351.4V336.4M302.5 351.4V335.2M303.5 351.4V336.2M304.5 351.4V335.9M305.5 351.4V336.3M306.5 351.4V336.1M307.5 351.4V335.8M308.5 351.4V330.6M309.5 351.4V336.4M310.5 351.4V335.8M311.5 351.4V332.1M312.5 351.4V335.6M313.5 351.4V336.4M314.5 351.4V336.4M315.5 351.4V303.7M316.5 351.4V319.4M317.5 351.4V300.0M318.5 351.4V320.2M319.5 351.4V316.0M320.5 351.4V294.8M321.5 351.4V271.9M322.5 351.4V294.5M323.5 351.4V317.1M324.5 351.4V321.8M325.5 351.4V271.5M326.5 351.4V303.8M327.5 351.4V315.5M328.5 351.4V278.0M329.5 351.4V293.8M330.5 351.4V302.8M331.5 351.4V289.8M332.5 351.4V256.4M333.5 351.4V292.7M334.5 351.4V290.0M335.5 351.4V320.1M336.5 351.4V256.4" stroke="#f1b8a0" stroke-opacity="0.3" stroke-width="1" fill="none"/>
<path d="M76.5 351.4V261.4M77.5 351.4V289.0M78.5 351.4V315.1M79.5 351.4V326.7M80.5 351.4V333.1M81.5 351.4V321.4M82.5 351.4V334.1M83.5 351.4V334.1M84.5 351.4V335.0M85.5 351.4V330.3M86.5 351.4V334.0M87.5 351.4V332.4M88.5 351.4V321.4M89.5 351.4V329.6M90.5 351.4V335.2M91.5 351.4V332.7M92.5 351.4V332.4M93.5 351.4V329.1M94.5 351.4V330.5M95.5 351.4V326.4M96.5 351.4V326.4M97.5 351.4V326.8M98.5 351.4V326.4M99.5 351.4V326.4M100.5 351.4V328.5M101.5 351.4V329.4M102.5 351.4V334.9M103.5 351.4V333.2M104.5 351.4V334.1M105.5 351.4V334.9M106.5 351.4V334.9M107.5 351.4V335.1M108.5 351.4V334.6M109.5 351.4V335.0M110.5 351.4V331.9M111.5 351.4V326.4M112.5 351.4V326.4M113.5 351.4V334.0M114.5 351.4V326.4M115.5 351.4V334.0M116.5 351.4V326.4M117.5 351.4V330.9M118.5 351.4V331.6M119.5 351.4V334.9M120.5 351.4V335.3M121.5 351.4V333.0M122.5 351.4V334.6M123.5 351.4V327.3M124.5 351.4V333.3M125.5 351.4V333.8M126.5 351.4V334.6M127.5 351.4V331.7M128.5 351.4V335.0M129.5 351.4V335.1M130.5 351.4V332.8M131.5 351.4V334.8M132.5 351.4V330.9M133.5 351.4V334.4M134.5 351.4V326.4M135.5 351.4V326.4M136.5 351.4V334.1M137.5 351.4V334.1M138.5 351.4V330.9M139.5 351.4V332.1M140.5 351.4V329.9M141.5 351.4V329.8M142.5 351.4V333.3M143.5 351.4V333.3M144.5 351.4V330.7M145.5 351.4V329.3M146.5 351.4V335.0M147.5 351.4V332.0M148.5 351.4V334.4M149.5 351.4V335.0M150.5 351.4V334.3M151.5 351.4V335.3M152.5 351.4V328.3M153.5 351.4V335.4M154.5 351.4V335.3M155.5 351.4V334.8M156.5 351.4V334.8M157.5 351.4V333.0M158.5 351.4V328.7M159.5 351.4V335.2M160.5 351.4V326.4M161.5 351.4V333.5M162.5 351.4V335.3M163.5 351.4V333.6M164.5 351.4V326.4M165.5 351.4V335.0M166.5 351.4V326.4M167.5 351.4V326.4M168.5 351.4V326.4M169.5 351.4V326.4M170.5 351.4V332.7M171.5 351.4V334.9M172.5 351.4V333.1M173.5 351.4V332.3M174.5 351.4V326.4M175.5 351.4V332.5M176.5 351.4V331.5M177.5 351.4V329.3M178.5 351.4V334.3M179.5 351.4V332.5M180.5 351.4V335.3M181.5 351.4V330.2M182.5 351.4V331.6M183.5 351.4V329.5M184.5 351.4V332.5M185.5 351.4V325.7M186.5 351.4V332.7M187.5 351.4V333.1M188.5 351.4V333.4M189.5 351.4V331.9M190.5 351.4V325.5M191.5 351.4V333.9M192.5 351.4V328.9M193.5 351.4V333.2M194.5 351.4V328.4M195.5 351.4V318.8M196.5 351.4V333.7M197.5 351.4V333.9M198.5 351.4V331.6M199.5 351.4V334.4M200.5 351.4V333.7M201.5 351.4V334.3M202.5 351.4V332.5M203.5 351.4V309.8M204.5 351.4V285.8M205.5 351.4V315.8M206.5 351.4V321.1M207.5 351.4V299.9M208.5 351.4V329.5M209.5 351.4V329.6M210.5 351.4V333.9M211.5 351.4V304.2M212.5 351.4V311.8M213.5 351.4V329.5M214.5 351.4V333.6M215.5 351.4V281.4M216.5 351.4V314.1M217.5 351.4V329.0M218.5 351.4V332.5M219.5 351.4V328.2M220.5 351.4V318.7M221.5 351.4V332.1M222.5 351.4V306.3M223.5 351.4V296.6M224.5 351.4V334.3M225.5 351.4V325.3M226.5 351.4V333.5M227.5 351.4V321.7M228.5 351.4V328.0M229.5 351.4V331.1M230.5 351.4V334.0M231.5 351.4V331.3M232.5 351.4V333.8M233.5 351.4V329.5M234.5 351.4V323.2M235.5 351.4V323.2M236.5 351.4V281.4M237.5 351.4V315.0M238.5 351.4V324.5M239.5 351.4V286.0M240.5 351.4V281.4M241.5 351.4V330.9M242.5 351.4V330.2M243.5 351.4V314.9M244.5 351.4V310.6M245.5 351.4V312.4M246.5 351.4V304.2M247.5 351.4V324.8M248.5 351.4V289.4M249.5 351.4V333.7M250.5 351.4V332.8M251.5 351.4V334.4M252.5 351.4V291.8M253.5 351.4V321.1M254.5 351.4V323.8M255.5 351.4V321.9M256.5 351.4V334.4M257.5 351.4V329.4M258.5 351.4V329.4M259.5 351.4V335.6M260.5 351.4V335.6M261.5 351.4V335.5M262.5 351.4V336.2M263.5 351.4V336.2M264.5 351.4V336.1M265.5 351.4V335.8M266.5 351.4V335.6M267.5 351.4V333.0M268.5 351.4V329.4M269.5 351.4V330.3M270.5 351.4V332.5M271.5 351.4V334.3M272.5 351.4V329.4M273.5 351.4V335.8M274.5 351.4V335.4M275.5 351.4V336.4M276.5 351.4V336.0M277.5 351.4V334.5M278.5 351.4V335.7M279.5 351.4V333.7M280.5 351.4V335.7M281.5 351.4V335.6M282.5 351.4V336.2M283.5 351.4V335.8M284.5 351.4V335.4M285.5 351.4V329.4M286.5 351.4V335.4M287.5 351.4V329.4M288.5 351.4V329.4M289.5 351.4V336.4M290.5 351.4V329.4M291.5 351.4V335.0M292.5 351.4V334.5M293.5 351.4V335.6M294.5 351.4V336.3M295.5 351.4V335.5M296.5 351.4V332.0M297.5 351.4V336.2M298.5 351.4V336.0M299.5 351.4V336.3M300.5 351.4V336.3M301.5 351.4V335.4M302.5 351.4V335.7M303.5 351.4V335.4M304.5 351.4V336.1M305.5 351.4V331.2M306.5 351.4V334.3M307.5 351.4V334.3M308.5 351.4V330.8M309.5 351.4V335.9M310.5 351.4V336.3M311.5 351.4V333.3M312.5 351.4V331.4M313.5 351.4V334.5M314.5 351.4V335.8M315.5 351.4V319.9M316.5 351.4V319.2M317.5 351.4V318.6M318.5 351.4V312.1M319.5 351.4V318.6M320.5 351.4V293.6M321.5 351.4V318.0M322.5 351.4V256.4M323.5 351.4V293.5M324.5 351.4V315.6M325.5 351.4V323.3M326.5 351.4V295.8M327.5 351.4V308.4M328.5 351.4V291.2M329.5 351.4V298.9M330.5 351.4V306.7M331.5 351.4V314.6M332.5 351.4V275.4M333.5 351.4V256.4M334.5 351.4V256.4M335.5 351.4V310.5M336.5 351.4V297.6" stroke="#f1b8a0" stroke-opacity="0.3" stroke-width="1" fill="none"/>
<path d="M76.5 351.4V327.2M77.5 351.4V294.7M78.5 351.4V310.1M79.5 351.4V317.6M80.5 351.4V333.6M81.5 351.4V321.4M82.5 351.4V332.4M83.5 351.4V330.6M84.5 351.4V330.7M85.5 351.4V330.4M86.5 351.4V331.3M87.5 351.4V321.4M88.5 351.4V331.7M89.5 351.4V323.3M90.5 351.4V332.6M91.5 351.4V334.7M92.5 351.4V331.5M93.5 351.4V334.1M94.5 351.4V326.4M95.5 351.4V330.3M96.5 351.4V326.4M97.5 351.4V328.3M98.5 351.4V326.4M99.5 351.4V332.9M100.5 351.4V329.7M101.5 351.4V331.7M102.5 351.4V335.4M103.5 351.4V334.0M104.5 351.4V335.3M105.5 351.4V335.1M106.5 351.4V334.0M107.5 351.4V332.7M108.5 351.4V334.8M109.5 351.4V333.2M110.5 351.4V333.0M111.5 351.4V331.6M112.5 351.4V330.2M113.5 351.4V326.4M114.5 351.4V330.8M115.5 351.4V333.2M116.5 351.4V327.8M117.5 351.4V330.7M118.5 351.4V326.4M119.5 351.4V332.4M120.5 351.4V333.7M121.5 351.4V331.8M122.5 351.4V333.3M123.5 351.4V334.0M124.5 351.4V333.5M125.5 351.4V330.3M126.5 351.4V335.4M127.5 351.4V333.7M128.5 351.4V335.3M129.5 351.4V334.9M130.5 351.4V330.4M131.5 351.4V333.6M132.5 351.4V335.1M133.5 351.4V335.0M134.5 351.4V331.9M135.5 351.4V326.4M136.5 351.4V327.2M137.5 351.4V332.3M138.5 351.4V326.4M139.5 351.4V328.5M140.5 351.4V326.4M141.5 351.4V333.6M142.5 351.4V326.4M143.5 351.4V331.0M144.5 351.4V331.6M145.5 351.4V335.1M146.5 351.4V334.9M147.5 351.4V329.9M148.5 351.4V333.7M149.5 351.4V330.4M150.5 351.4V333.6M151.5 351.4V335.2M152.5 351.4V333.6M153.5 351.4V335.2M154.5 351.4V334.3M155.5 351.4V335.2M156.5 351.4V334.9M157.5 351.4V333.9M158.5 351.4V326.4M159.5 351.4V328.6M160.5 351.4V333.9M161.5 351.4V331.5M162.5 351.4V326.4M163.5 351.4V335.3M164.5 351.4V334.3M165.5 351.4V332.9M166.5 351.4V333.3M167.5 351.4V332.3M168.5 351.4V326.4M169.5 351.4V334.2M170.5 351.4V329.9M171.5 351.4V331.5M172.5 351.4V334.9M173.5 351.4V332.6M174.5 351.4V331.2M175.5 351.4V334.6M176.5 351.4V330.2M177.5 351.4V329.0M178.5 351.4V331.2M179.5 351.4V326.4M180.5 351.4V326.4M181.5 351.4V333.3M182.5 351.4V332.1M183.5 351.4V312.0M184.5 351.4V332.2M185.5 351.4V327.8M186.5 351.4V311.0M187.5 351.4V332.2M188.5 351.4V330.4M189.5 351.4V329.8M190.5 351.4V333.2M191.5 351.4V330.5M192.5 351.4V325.4M193.5 351.4V332.7M194.5 351.4V331.6M195.5 351.4V296.9M196.5 351.4V334.4M197.5 351.4V334.2M198.5 351.4V331.1M199.5 351.4V329.3M200.5 351.4V327.7M201.5 351.4V329.7M202.5 351.4V332.8M203.5 351.4V325.6M204.5 351.4V334.1M205.5 351.4V331.8M206.5 351.4V334.2M207.5 351.4V281.4M208.5 351.4V330.5M209.5 351.4V332.0M210.5 351.4V332.8M211.5 351.4V332.0M212.5 351.4V330.1M213.5 351.4V332.5M214.5 351.4V330.0M215.5 351.4V332.8M216.5 351.4V328.4M217.5 351.4V328.9M218.5 351.4V325.8M219.5 351.4V333.2M220.5 351.4V312.7M221.5 351.4V315.9M222.5 351.4V330.9M223.5 351.4V281.4M224.5 351.4V295.1M225.5 351.4V323.1M226.5 351.4V330.8M227.5 351.4V328.9M228.5 351.4V312.3M229.5 351.4V333.5M230.5 351.4V328.8M231.5 351.4V326.9M232.5 351.4V318.3M233.5 351.4V322.5M234.5 351.4V323.6M235.5 351.4V318.9M236.5 351.4V321.2M237.5 351.4V333.4M238.5 351.4V330.8M239.5 351.4V332.9M240.5 351.4V297.0M241.5 351.4V333.8M242.5 351.4V328.9M243.5 351.4V304.0M244.5 351.4V328.9M245.5 351.4V332.5M246.5 351.4V294.3M247.5 351.4V333.3M248.5 351.4V281.4M249.5 351.4V281.4M250.5 351.4V319.9M251.5 351.4V326.8M252.5 351.4V281.4M253.5 351.4V321.9M254.5 351.4V290.8M255.5 351.4V281.4M256.5 351.4V331.9M257.5 351.4V336.4M258.5 351.4V333.3M259.5 351.4V335.6M260.5 351.4V329.4M261.5 351.4V335.0M262.5 351.4V333.3M263.5 351.4V336.3M264.5 351.4V335.7M265.5 351.4V336.2M266.5 351.4V336.3M267.5 351.4V334.5M268.5 351.4V335.6M269.5 351.4V333.7M270.5 351.4V331.2M271.5 351.4V335.2M272.5 351.4V329.4M273.5 351.4V336.1M274.5 351.4V335.1M275.5 351.4V335.4M276.5 351.4V335.6M277.5 351.4V329.4M278.5 351.4V336.2M279.5 351.4V335.9M280.5 351.4V336.0M281.5 351.4V336.1M282.5 351.4V336.1M283.5 351.4V336.3M284.5 351.4V329.8M285.5 351.4V329.4M286.5 351.4V331.5M287.5 351.4V329.4M288.5 351.4V332.9M289.5 351.4V332.2M290.5 351.4V334.2M291.5 351.4V334.5M292.5 351.4V329.4M293.5 351.4V335.5M294.5 351.4V335.6M295.5 351.4V333.7M296.5 351.4V335.6M297.5 351.4V334.2M298.5 351.4V334.8M299.5 351.4V333.6M300.5 351.4V336.0M301.5 351.4V336.3M302.5 351.4V336.1M303.5 351.4V334.3M304.5 351.4V336.2M305.5 351.4V335.6M306.5 351.4V336.1M307.5 351.4V332.9M308.5 351.4V329.4M309.5 351.4V336.2M310.5 351.4V329.8M311.5 351.4V333.8M312.5 351.4V334.2M313.5 351.4V335.8M314.5 351.4V335.5M315.5 351.4V266.6M316.5 351.4V316.1M317.5 351.4V317.9M318.5 351.4V320.0M319.5 351.4V309.6M320.5 351.4V312.6M321.5 351.4V300.6M322.5 351.4V285.5M323.5 351.4V322.9M324.5 351.4V315.2M325.5 351.4V304.6M326.5 351.4V258.1M327.5 351.4V287.7M328.5 351.4V309.5M329.5 351.4V306.9M330.5 351.4V256.4M331.5 351.4V322.0M332.5 351.4V320.3M333.5 351.4V292.2M334.5 351.4V282.3M335.5 351.4V286.4M336.5 351.4V285.7" stroke="#f1b8a0" stroke-opacity="0.3" stroke-width="1" fill="none"/>
<path d="M76.5 351.4V326.7M77.5 351.4V311.2M78.5 351.4V319.4M79.5 351.4V324.5M80.5 351.4V330.8M81.5 351.4V322.4M82.5 351.4V335.0M83.5 351.4V331.1M84.5 351.4V334.3M85.5 351.4V334.9M86.5 351.4V331.7M87.5 351.4V328.6M88.5 351.4V321.4M89.5 351.4V334.0M90.5 351.4V329.7M91.5 351.4V327.6M92.5 351.4V334.4M93.5 351.4V331.0M94.5 351.4V335.0M95.5 351.4V332.7M96.5 351.4V326.4M97.5 351.4V333.7M98.5 351.4V334.2M99.5 351.4V326.4M100.5 351.4V326.4M101.5 351.4V332.8M102.5 351.4V335.2M103.5 351.4V330.4M104.5 351.4V335.0M105.5 351.4V335.0M106.5 351.4V335.3M107.5 351.4V335.3M108.5 351.4V335.4M109.5 351.4V331.0M110.5 351.4V334.6M111.5 351.4V332.1M112.5 351.4V333.0M113.5 351.4V334.8M114.5 351.4V332.7M115.5 351.4V331.7M116.5 351.4V334.2M117.5 351.4V331.9M118.5 351.4V334.7M119.5 351.4V326.4M120.5 351.4V330.1M121.5 351.4V332.6M122.5 351.4V332.1M123.5 351.4V331.1M124.5 351.4V335.2M125.5 351.4V335.3M126.5 351.4V335.1M127.5 351.4V335.0M128.5 351.4V334.8M129.5 351.4V334.0M130.5 351.4V334.4M131.5 351.4V334.8M132.5 351.4V334.4M133.5 351.4V334.6M134.5 351.4V327.4M135.5 351.4V331.4M136.5 351.4V326.4M137.5 351.4V333.3M138.5 351.4V332.0M139.5 351.4V334.3M140.5 351.4V326.4M141.5 351.4V333.8M142.5 351.4V332.8M143.5 351.4V329.0M144.5 351.4V326.4M145.5 351.4V329.2M146.5 351.4V326.4M147.5 351.4V326.5M148.5 351.4V335.0M149.5 351.4V332.0M150.5 351.4V335.4M151.5 351.4V334.1M152.5 351.4V335.1M153.5 351.4V334.9M154.5 351.4V335.3M155.5 351.4V335.2M156.5 351.4V333.2M157.5 351.4V335.0M158.5 351.4V333.3M159.5 351.4V333.6M160.5 351.4V328.3M161.5 351.4V331.4M162.5 351.4V331.5M163.5 351.4V334.7M164.5 351.4V334.8M165.5 351.4V333.4M166.5 351.4V326.4M167.5 351.4V333.9M168.5 351.4V329.3M169.5 351.4V333.3M170.5 351.4V331.0M171.5 351.4V332.5M172.5 351.4V326.4M173.5 351.4V332.0M174.5 351.4V326.4M175.5 351.4V326.4M176.5 351.4V332.6M177.5 351.4V327.7M178.5 351.4V329.3M179.5 351.4V334.6M180.5 351.4V332.9M181.5 351.4V328.4M182.5 351.4V331.5M183.5 351.4V320.8M184.5 351.4V326.8M185.5 351.4V331.9M186.5 351.4V319.8M187.5 351.4V333.0M188.5 351.4V330.0M189.5 351.4V334.1M190.5 351.4V333.4M191.5 351.4V329.2M192.5 351.4V324.4M193.5 351.4V332.6M194.5 351.4V327.1M195.5 351.4V331.2M196.5 351.4V328.1M197.5 351.4V333.7M198.5 351.4V333.1M199.5 351.4V334.3M200.5 351.4V332.6M201.5 351.4V334.3M202.5 351.4V330.5M203.5 351.4V322.3M204.5 351.4V334.0M205.5 351.4V308.7M206.5 351.4V326.2M207.5 351.4V281.4M208.5 351.4V314.3M209.5 351.4V310.3M210.5 351.4V320.9M211.5 351.4V327.5M212.5 351.4V323.2M213.5 351.4V325.2M214.5 351.4V331.0M215.5 351.4V322.8M216.5 351.4V281.4M217.5 351.4V330.2M218.5 351.4V311.9M219.5 351.4V330.8M220.5 351.4V281.4M221.5 351.4V331.4M222.5 351.4V326.0M223.5 351.4V319.4M224.5 351.4V281.4M225.5 351.4V306.2M226.5 351.4V308.2M227.5 351.4V329.7M228.5 351.4V330.9M229.5 351.4V330.7M230.5 351.4V326.9M231.5 351.4V333.4M232.5 351.4V327.9M233.5 351.4V327.0M234.5 351.4V328.4M235.5 351.4V315.5M236.5 351.4V330.9M237.5 351.4V326.6M238.5 351.4V294.4M239.5 351.4V332.0M240.5 351.4V281.4M241.5 351.4V332.1M242.5 351.4V281.4M243.5 351.4V322.1M244.5 351.4V298.8M245.5 351.4V330.8M246.5 351.4V332.9M247.5 351.4V314.0M248.5 351.4V315.9M249.5 351.4V334.3M250.5 351.4V324.7M251.5 351.4V313.6M252.5 351.4V288.5M253.5 351.4V313.6M254.5 351.4V330.5M255.5 351.4V322.8M256.5 351.4V335.1M257.5 351.4V335.1M258.5 351.4V334.9M259.5 351.4V329.4M260.5 351.4V331.7M261.5 351.4V336.0M262.5 351.4V329.4M263.5 351.4V329.4M264.5 351.4V334.2M265.5 351.4V335.4M266.5 351.4V336.1M267.5 351.4V334.9M268.5 351.4V336.0M269.5 351.4V334.5M270.5 351.4V334.4M271.5 351.4V335.6M272.5 351.4V332.6M273.5 351.4V332.2M274.5 351.4V332.0M275.5 351.4V334.3M276.5 351.4V336.0M277.5 351.4V333.6M278.5 351.4V330.6M279.5 351.4V332.7M280.5 351.4V335.9M281.5 351.4V335.7M282.5 351.4V333.2M283.5 351.4V336.4M284.5 351.4V335.3M285.5 351.4V332.6M286.5 351.4V329.4M287.5 351.4V333.8M288.5 351.4V330.4M289.5 351.4V333.4M290.5 351.4V329.8M291.5 351.4V336.0M292.5 351.4V330.5M293.5 351.4V329.4M294.5 351.4V335.4M295.5 351.4V335.8M296.5 351.4V335.7M297.5 351.4V335.6M298.5 351.4V334.7M299.5 351.4V334.8M300.5 351.4V336.3M301.5 351.4V335.7M302.5 351.4V336.2M303.5 351.4V335.7M304.5 351.4V335.8M305.5 351.4V336.3M306.5 351.4V335.6M307.5 351.4V335.7M308.5 351.4V329.4M309.5 351.4V335.5M310.5 351.4V335.7M311.5 351.4V334.8M312.5 351.4V335.9M313.5 351.4V336.0M314.5 351.4V335.4M315.5 351.4V300.4M316.5 351.4V315.2M317.5 351.4V317.9M318.5 351.4V310.9M319.5 351.4V322.5M320.5 351.4V256.5M321.5 351.4V276.4M322.5 351.4V322.0M323.5 351.4V304.4M324.5 351.4V316.9M325.5 351.4V318.6M326.5 351.4V296.9M327.5 351.4V273.5M328.5 351.4V317.8M329.5 351.4V284.6M330.5 351.4V256.4M331.5 351.4V299.4M332.5 351.4V304.1M333.5 351.4V256.4M334.5 351.4V276.9M335.5 351.4V309.6M336.5 351.4V310.3" stroke="#f1b8a0" stroke-opacity="0.3" stroke-width="1" fill="none"/>
<path d="M76.5 351.4V318.2M77.5 351.4V327.2M78.5 351.4V272.2M79.5 351.4V325.3M80.5 351.4V331.1M81.5 351.4V328.9M82.5 351.4V335.1M83.5 351.4V330.5M84.5 351.4V332.7M85.5 351.4V335.2M86.5 351.4V321.4M87.5 351.4V321.4M88.5 351.4V334.2M89.5 351.4V321.4M90.5 351.4V326.4M91.5 351.4V329.3M92.5 351.4V334.2M93.5 351.4V334.9M94.5 351.4V330.3M95.5 351.4V331.6M96.5 351.4V331.2M97.5 351.4V326.4M98.5 351.4V334.5M99.5 351.4V326.4M100.5 351.4V333.6M101.5 351.4V330.9M102.5 351.4V335.2M103.5 351.4V335.1M104.5 351.4V335.2M105.5 351.4V335.1M106.5 351.4V334.9M107.5 351.4V335.3M108.5 351.4V333.5M109.5 351.4V330.1M110.5 351.4V334.2M111.5 351.4V329.8M112.5 351.4V330.5M113.5 351.4V331.7M114.5 351.4V327.5M115.5 351.4V326.4M116.5 351.4V333.4M117.5 351.4V331.9M118.5 351.4V330.9M119.5 351.4V326.5M120.5 351.4V333.5M121.5 351.4V328.8M122.5 351.4V329.6M123.5 351.4V335.0M124.5 351.4V328.5M125.5 351.4V332.5M126.5 351.4V335.3M127.5 351.4V326.4M128.5 351.4V334.9M129.5 351.4V333.3M130.5 351.4V333.1M131.5 351.4V334.5M132.5 351.4V334.4M133.5 351.4V333.9M134.5 351.4V331.5M135.5 351.4V334.2M136.5 351.4V334.1M137.5 351.4V335.1M138.5 351.4V329.5M139.5 351.4V335.0M140.5 351.4V331.6M141.5 351.4V331.4M142.5 351.4V326.4M143.5 351.4V333.6M144.5 351.4V334.5M145.5 351.4V335.4M146.5 351.4V333.5M147.5 351.4V335.4M148.5 351.4V331.7M149.5 351.4V331.3M150.5 351.4V333.9M151.5 351.4V333.9M152.5 351.4V333.0M153.5 351.4V335.3M154.5 351.4V335.2M155.5 351.4V334.3M156.5 351.4V335.0M157.5 351.4V332.4M158.5 351.4V328.7M159.5 351.4V334.9M160.5 351.4V331.0M161.5 351.4V333.7M162.5 351.4V332.2M163.5 351.4V333.4M164.5 351.4V333.7M165.5 351.4V326.4M166.5 351.4V326.4M167.5 351.4V326.4M168.5 351.4V326.4M169.5 351.4V326.4M170.5 351.4V331.9M171.5 351.4V328.9M172.5 351.4V326.4M173.5 351.4V333.6M174.5 351.4V333.0M175.5 351.4V326.4M176.5 351.4V326.4M177.5 351.4V331.9M178.5 351.4V335.2M179.5 351.4V330.1M180.5 351.4V333.3M181.5 351.4V333.7M182.5 351.4V331.8M183.5 351.4V330.6M184.5 351.4V329.8M185.5 351.4V331.2M186.5 351.4V318.0M187.5 351.4V333.6M188.5 351.4V331.4M189.5 351.4V331.5M190.5 351.4V334.0M191.5 351.4V309.7M192.5 351.4V326.5M193.5 351.4V333.2M194.5 351.4V332.1M195.5 351.4V333.6M196.5 351.4V333.8M197.5 351.4V332.6M198.5 351.4V330.6M199.5 351.4V332.1M200.5 351.4V331.7M201.5 351.4V332.4M202.5 351.4V326.9M203.5 351.4V302.8M204.5 351.4V334.2M205.5 351.4V323.3M206.5 351.4V324.7M207.5 351.4V316.0M208.5 351.4V288.6M209.5 351.4V318.3M210.5 351.4V331.5M211.5 351.4V327.4M212.5 351.4V328.1M213.5 351.4V323.2M214.5 351.4V328.6M215.5 351.4V323.8M216.5 351.4V328.8M217.5 351.4V323.0M218.5 351.4V288.6M219.5 351.4V281.4M220.5 351.4V331.2M221.5 351.4V306.0M222.5 351.4V315.7M223.5 351.4V322.7M224.5 351.4V322.4M225.5 351.4V322.0M226.5 351.4V313.5M227.5 351.4V297.3M228.5 351.4V327.4M229.5 351.4V317.8M230.5 351.4V304.3M231.5 351.4V331.6M232.5 351.4V330.2M233.5 351.4V330.7M234.5 351.4V332.6M235.5 351.4V331.8M236.5 351.4V326.4M237.5 351.4V330.9M238.5 351.4V308.5M239.5 351.4V322.2M240.5 351.4V296.2M241.5 351.4V330.3M242.5 351.4V330.8M243.5 351.4V329.5M244.5 351.4V304.3M245.5 351.4V322.3M246.5 351.4V332.9M247.5 351.4V333.7M248.5 351.4V317.8M249.5 351.4V321.5M250.5 351.4V317.9M251.5 351.4V333.9M252.5 351.4V323.0M253.5 351.4V282.9M254.5 351.4V315.8M255.5 351.4V331.9M256.5 351.4V335.1M257.5 351.4V333.8M258.5 351.4V329.4M259.5 351.4V335.8M260.5 351.4V329.4M261.5 351.4V334.4M262.5 351.4V336.2M263.5 351.4V330.5M264.5 351.4V335.3M265.5 351.4V335.8M266.5 351.4V336.2M267.5 351.4V332.1M268.5 351.4V336.4M269.5 351.4V329.4M270.5 351.4V336.3M271.5 351.4V334.3M272.5 351.4V329.5M273.5 351.4V333.6M274.5 351.4V333.0M275.5 351.4V329.4M276.5 351.4V333.9M277.5 351.4V334.0M278.5 351.4V335.1M279.5 351.4V335.9M280.5 351.4V336.2M281.5 351.4V335.8M282.5 351.4V336.0M283.5 351.4V336.3M284.5 351.4V330.2M285.5 351.4V336.2M286.5 351.4V332.3M287.5 351.4V334.1M288.5 351.4V329.4M289.5 351.4V329.4M290.5 351.4V336.1M291.5 351.4V335.5M292.5 351.4V335.9M293.5 351.4V331.5M294.5 351.4V334.9M295.5 351.4V335.0M296.5 351.4V332.7M297.5 351.4V334.4M298.5 351.4V331.6M299.5 351.4V334.7M300.5 351.4V336.0M301.5 351.4V335.0M302.5 351.4V336.2M303.5 351.4V335.5M304.5 351.4V335.3M305.5 351.4V333.1M306.5 351.4V335.9M307.5 351.4V335.9M308.5 351.4V333.3M309.5 351.4V333.8M310.5 351.4V335.4M311.5 351.4V332.8M312.5 351.4V335.3M313.5 351.4V335.5M314.5 351.4V336.1M315.5 351.4V266.7M316.5 351.4V314.2M317.5 351.4V321.3M318.5 351.4V323.0M319.5 351.4V305.4M320.5 351.4V314.1M321.5 351.4V321.2M322.5 351.4V260.3M323.5 351.4V318.4M324.5 351.4V312.6M325.5 351.4V315.9M326.5 351.4V314.6M327.5 351.4V320.9M328.5 351.4V256.4M329.5 351.4V256.4M330.5 351.4V323.0M331.5 351.4V313.2M332.5 351.4V298.3M333.5 351.4V302.4M334.5 351.4V283.2M335.5 351.4V319.0M336.5 351.4V295.4" stroke="#f1b8a0" stroke-opacity="0.3" stroke-width="1" fill="none"/>
<path d="M83.5 351.4V290.0" stroke="#f1b8a0" stroke-opacity="0.8" stroke-width="1.2" fill="none"/>
<path d="M76.5 351.4V262.0" stroke="#f1b8a0" stroke-opacity="0.6" stroke-width="1.2" fill="none"/>
<path d="M77.5 351.4V270.0" stroke="#f1b8a0" stroke-opacity="0.5" stroke-width="1.2" fill="none"/>
<path d="M145.9 351.4V295.0" stroke="#f1b8a0" stroke-opacity="0.7" stroke-width="1.2" fill="none"/>
<path d="M153.6 351.4V320.0" stroke="#f1b8a0" stroke-opacity="0.5" stroke-width="1.2" fill="none"/>
<path d="M188 351.4V272.0" stroke="#f1b8a0" stroke-opacity="0.6" stroke-width="1.2" fill="none"/>
<path d="M200 351.4V285.0" stroke="#f1b8a0" stroke-opacity="0.6" stroke-width="1.2" fill="none"/>
<path d="M206 351.4V268.0" stroke="#f1b8a0" stroke-opacity="0.5" stroke-width="1.2" fill="none"/>
<path d="M218 351.4V275.0" stroke="#f1b8a0" stroke-opacity="0.5" stroke-width="1.2" fill="none"/>
<path d="M248 351.4V285.0" stroke="#f1b8a0" stroke-opacity="0.6" stroke-width="1.2" fill="none"/>
<path d="M252 351.4V290.0" stroke="#f1b8a0" stroke-opacity="0.5" stroke-width="1.2" fill="none"/>
<path d="M318 351.4V268.0" stroke="#f1b8a0" stroke-opacity="0.6" stroke-width="1.2" fill="none"/>
<path d="M325 351.4V255.0" stroke="#f1b8a0" stroke-opacity="0.6" stroke-width="1.2" fill="none"/>
<path d="M330 351.4V262.0" stroke="#f1b8a0" stroke-opacity="0.6" stroke-width="1.2" fill="none"/>
<path d="M74.8 218H337" stroke="#dcdcdc" stroke-width="1" fill="none"/>
<path d="M337 218V351.4" stroke="#f4d6c8" stroke-width="1" fill="none"/>
<path d="M74.8 351.4H337" stroke="#dfc2b6" stroke-width="1" fill="none"/>
<path d="M74.5 218V351.9" stroke="#b0bde6" stroke-width="1.3" fill="none"/>
<path d="M92.8 218v2.5" stroke="#c8c8c8" stroke-width="1" fill="none"/>
<path d="M92.8 351.4v-2.5" stroke="#d0aa9c" stroke-width="0.8" fill="none"/>
<path d="M118.2 218v2.5" stroke="#c8c8c8" stroke-width="1" fill="none"/>
<path d="M118.2 351.4v-2.5" stroke="#d0aa9c" stroke-width="0.8" fill="none"/>
<path d="M143.6 218v2.5" stroke="#c8c8c8" stroke-width="1" fill="none"/>
<path d="M143.6 351.4v-2.5" stroke="#d0aa9c" stroke-width="0.8" fill="none"/>
<path d="M169.0 218v2.5" stroke="#c8c8c8" stroke-width="1" fill="none"/>
<path d="M169.0 351.4v-2.5" stroke="#d0aa9c" stroke-width="0.8" fill="none"/>
<path d="M194.4 218v2.5" stroke="#c8c8c8" stroke-width="1" fill="none"/>
<path d="M194.4 351.4v-2.5" stroke="#d0aa9c" stroke-width="0.8" fill="none"/>
<path d="M219.8 218v2.5" stroke="#c8c8c8" stroke-width="1" fill="none"/>
<path d="M219.8 351.4v-2.5" stroke="#d0aa9c" stroke-width="0.8" fill="none"/>
<path d="M245.2 218v2.5" stroke="#c8c8c8" stroke-width="1" fill="none"/>
<path d="M245.2 351.4v-2.5" stroke="#d0aa9c" stroke-width="0.8" fill="none"/>
<path d="M270.6 218v2.5" stroke="#c8c8c8" stroke-width="1" fill="none"/>
<path d="M270.6 351.4v-2.5" stroke="#d0aa9c" stroke-width="0.8" fill="none"/>
<path d="M296.0 218v2.5" stroke="#c8c8c8" stroke-width="1" fill="none"/>
<path d="M296.0 351.4v-2.5" stroke="#d0aa9c" stroke-width="0.8" fill="none"/>
<path d="M321.4 218v2.5" stroke="#c8c8c8" stroke-width="1" fill="none"/>
<path d="M321.4 351.4v-2.5" stroke="#d0aa9c" stroke-width="0.8" fill="none"/>
<path d="M337 350.3h-2" stroke="#eab8a4" stroke-width="1" fill="none"/>
<path d="M337 329.1h-2" stroke="#eab8a4" stroke-width="1" fill="none"/>
<path d="M337 306.7h-2" stroke="#eab8a4" stroke-width="1" fill="none"/>
<path d="M337 284.5h-2" stroke="#eab8a4" stroke-width="1" fill="none"/>
<path d="M337 262.3h-2" stroke="#eab8a4" stroke-width="1" fill="none"/>
<path d="M337 239.1h-2" stroke="#eab8a4" stroke-width="1" fill="none"/>
<path d="M74.8 244.5h2" stroke="#a9c0da" stroke-width="1" fill="none"/>
<path d="M74.8 278.2h2" stroke="#a9c0da" stroke-width="1" fill="none"/>
<path d="M74.8 311.4h2" stroke="#a9c0da" stroke-width="1" fill="none"/>
<path d="M74.8 344.7h2" stroke="#a9c0da" stroke-width="1" fill="none"/>
<polyline points="75.8,237.1 76.3,236.7 76.8,237.8 77.3,238.7 77.8,240.6 78.3,241.3 78.8,241.6 79.3,242.5 79.8,241.0 80.3,240.8 80.8,240.6 81.3,238.1 81.8,238.9 82.3,240.1 82.8,240.9 83.3,240.3 83.8,241.3 84.3,241.7 84.8,240.7 85.3,241.7 85.8,242.2 86.3,241.5 86.8,240.2 87.3,241.6 87.8,240.9 88.3,240.5 88.8,240.7 89.3,240.4 89.8,241.4 90.3,241.5 90.8,241.8 91.3,241.5 91.8,240.5 92.3,240.7 92.8,241.7 93.3,241.3 93.8,243.1 94.3,242.2 94.8,242.0 95.3,242.7 95.8,242.9 96.3,242.8 96.8,242.7 97.3,242.8 97.8,242.9 98.3,243.0 98.8,242.7 99.3,242.8 99.8,242.9 100.3,243.0 100.8,242.0 101.3,242.3 101.8,242.4 102.3,242.5 102.8,242.7 103.3,242.9 103.8,242.9 104.3,242.7 104.8,242.7 105.3,243.2 105.8,242.7 106.3,242.8 106.8,243.1 107.3,242.9 107.8,242.2 108.3,242.7 108.8,242.6 109.3,242.6 109.8,243.0 110.3,242.9 110.8,242.7 111.3,242.9 111.8,242.9 112.3,242.8 112.8,242.8 113.3,242.8 113.8,242.6 114.3,242.6 114.8,242.7 115.3,242.4 115.8,242.3 116.3,242.9 116.8,242.7 117.3,242.7 117.8,242.7 118.3,242.7 118.8,242.7 119.3,242.7 119.8,242.5 120.3,242.9 120.8,242.6 121.3,242.9 121.8,242.3 122.3,242.3 122.8,242.8 123.3,242.7 123.8,242.5 124.3,242.7 124.8,242.4 125.3,242.6 125.8,242.1 126.3,242.4 126.8,242.4 127.3,242.8 127.8,243.0 128.3,242.5 128.8,243.1 129.3,242.7 129.8,242.1 130.3,241.9 130.8,242.8 131.3,242.5 131.8,242.3 132.3,242.1 132.8,241.9 133.3,242.5 133.8,242.2 134.3,242.6 134.8,242.1 135.3,241.4 135.8,241.9 136.3,241.7 136.8,241.7 137.3,242.1 137.8,241.7 138.3,241.9 138.8,241.6 139.3,241.2 139.8,241.4 140.3,241.1 140.8,241.5 141.3,241.5 141.8,241.2 142.3,241.2 142.8,241.1 143.3,240.8 143.8,241.0 144.3,240.7 144.8,240.8 145.3,240.4 145.8,240.5 146.3,240.5 146.8,240.2 147.3,240.1 147.8,240.0 148.3,240.5 148.8,240.5 149.3,241.0 149.8,241.6 150.3,241.6 150.8,241.2 151.3,241.7 151.8,242.3 152.3,242.2 152.8,242.7 153.3,242.9 153.8,243.0 154.3,243.0 154.8,243.0 155.3,243.3 155.8,243.5 156.3,243.5 156.8,243.2 157.3,242.7 157.8,242.5 158.3,242.3 158.8,241.5 159.3,241.3 159.8,241.0 160.3,241.1 160.8,241.1 161.3,241.1 161.8,240.9 162.3,241.3 162.8,241.3 163.3,240.8 163.8,241.1 164.3,240.9 164.8,241.6 165.3,241.2 165.8,241.1 166.3,241.2 166.8,241.1 167.3,241.2 167.8,241.6 168.3,241.4 168.8,241.5 169.3,241.6 169.8,241.1 170.3,241.6 170.8,241.5 171.3,241.6 171.8,241.1 172.3,241.4 172.8,241.4 173.3,241.1 173.8,241.8 174.3,241.6 174.8,241.2 175.3,241.3 175.8,241.5 176.3,241.6 176.8,241.5 177.3,241.6 177.8,241.8 178.3,241.0 178.8,241.0 179.3,240.9 179.8,241.1 180.3,241.6 180.8,241.5 181.3,241.0 181.8,241.1 182.3,241.5 182.8,241.1 183.3,241.2 183.8,241.3 184.3,240.7 184.8,241.3 185.3,241.0 185.8,240.6 186.3,239.6 186.8,239.6 187.3,240.1 187.8,240.8 188.3,241.0 188.8,241.1 189.3,241.5 189.8,241.6 190.3,241.0 190.8,240.8 191.3,241.5 191.8,241.0 192.3,241.4 192.8,241.6 193.3,241.0 193.8,240.9 194.3,241.0 194.8,240.8 195.3,240.6 195.8,240.8 196.3,241.2 196.8,240.9 197.3,240.9 197.8,240.8 198.3,240.6 198.8,241.3 199.3,240.4 199.8,240.6 200.3,241.1 200.8,240.6 201.3,241.1 201.8,241.4 202.3,240.9 202.8,241.0 203.3,240.7 203.8,241.1 204.3,241.1 204.8,241.1 205.3,241.4 205.8,241.3 206.3,241.5 206.8,241.4 207.3,240.7 207.8,241.0 208.3,241.2 208.8,240.5 209.3,241.3 209.8,241.1 210.3,241.2 210.8,240.7 211.3,240.9 211.8,241.1 212.3,240.9 212.8,241.0 213.3,240.1 213.8,241.3 214.3,240.6 214.8,239.9 215.3,240.2 215.8,240.4 216.3,241.0 216.8,240.6 217.3,241.0 217.8,240.5 218.3,241.8 218.8,241.5 219.3,242.0 219.8,240.8 220.3,241.2 220.8,240.5 221.3,241.1 221.8,241.3 222.3,240.2 222.8,240.1 223.3,240.1 223.8,239.9 224.3,240.2 224.8,240.2 225.3,239.9 225.8,240.7 226.3,241.1 226.8,240.3 227.3,240.4 227.8,240.8 228.3,240.7 228.8,240.5 229.3,241.2 229.8,241.4 230.3,241.3 230.8,240.9 231.3,241.8 231.8,241.9 232.3,241.0 232.8,240.9 233.3,241.4 233.8,240.7 234.3,241.0 234.8,240.9 235.3,240.6 235.8,240.7 236.3,240.2 236.8,240.5 237.3,240.0 237.8,241.4 238.3,241.5 238.8,241.4 239.3,241.1 239.8,241.2 240.3,241.3 240.8,241.3 241.3,241.3 241.8,240.7 242.3,240.9 242.8,240.7 243.3,240.4 243.8,240.3 244.3,240.8 244.8,241.2 245.3,240.4 245.8,241.3 246.3,241.5 246.8,240.9 247.3,240.6 247.8,240.7 248.3,241.1 248.8,240.8 249.3,240.3 249.8,240.8 250.3,240.0 250.8,240.6 251.3,241.2 251.8,241.0 252.3,241.2 252.8,241.1 253.3,241.2 253.8,241.0 254.3,240.5 254.8,240.6 255.3,240.7 255.8,241.3 256.3,241.7 256.8,241.2 257.3,240.5 257.8,240.3 258.3,240.5 258.8,241.4 259.3,241.1 259.8,240.8 260.3,240.4 260.8,241.1 261.3,241.0 261.8,240.8 262.3,240.8 262.8,241.6 263.3,240.9 263.8,241.6 264.3,241.6 264.8,241.0 265.3,241.2 265.8,240.8 266.3,240.3 266.8,240.5 267.3,240.2 267.8,240.8 268.3,240.7 268.8,241.0 269.3,241.2 269.8,239.4 270.3,240.4 270.8,239.8 271.3,240.5 271.8,240.2 272.3,240.6 272.8,241.3 273.3,240.1 273.8,240.6 274.3,240.6 274.8,239.8 275.3,240.7 275.8,240.7 276.3,240.4 276.8,240.3 277.3,241.9 277.8,240.9 278.3,239.9 278.8,240.0 279.3,240.3 279.8,240.4 280.3,240.5 280.8,240.2 281.3,240.7 281.8,240.5 282.3,240.0 282.8,240.1 283.3,240.3 283.8,240.9 284.3,240.9 284.8,240.6 285.3,240.6 285.8,240.7 286.3,241.4 286.8,240.6 287.3,240.8 287.8,240.9 288.3,240.3 288.8,240.6 289.3,240.7 289.8,240.4 290.3,240.8 290.8,241.0 291.3,241.1 291.8,240.7 292.3,240.7 292.8,241.5 293.3,240.4 293.8,240.6 294.3,240.9 294.8,240.7 295.3,240.9 295.8,240.7 296.3,240.9 296.8,241.1 297.3,240.6 297.8,240.7 298.3,240.6 298.8,240.4 299.3,240.5 299.8,240.1 300.3,240.7 300.8,241.2 301.3,241.3 301.8,241.2 302.3,240.4 302.8,241.0 303.3,240.4 303.8,240.5 304.3,241.1 304.8,240.4 305.3,240.7 305.8,240.7 306.3,240.5 306.8,240.2 307.3,240.6 307.8,240.4 308.3,240.8 308.8,241.0 309.3,240.2 309.8,240.3 310.3,240.3 310.8,239.9 311.3,239.7 311.8,240.2 312.3,240.2 312.8,239.0 313.3,239.5 313.8,240.5 314.3,239.1 314.8,238.9 315.3,241.7 315.8,242.3 316.3,238.7 316.8,237.9 317.3,239.9 317.8,238.5 318.3,239.2 318.8,239.2 319.3,240.5 319.8,236.8 320.3,236.1 320.8,237.2 321.3,240.4 321.8,239.8 322.3,237.6 322.8,239.8 323.3,240.7 323.8,239.7 324.3,239.3 324.8,240.1 325.3,241.4 325.8,240.3 326.3,240.5 326.8,239.8 327.3,239.1 327.8,238.2 328.3,239.4 328.8,239.0 329.3,239.0 329.8,240.5 330.3,240.3 330.8,240.8 331.3,237.7 331.8,239.5 332.3,238.6 332.8,238.0 333.3,237.7 333.8,240.3 334.3,240.6 334.8,238.6 335.3,237.5 335.8,238.6 336.3,238.3 336.8,240.9" stroke="#6f75ee" stroke-width="0.9" fill="none"/>
<polyline points="74.8,244.5 91.5,244.5 91.5,311.4 133.5,311.4 133.5,344.7 183.5,344.7 183.5,278.2 186.4,278.2 186.4,311.4 189.2,311.4 189.2,278.2 194.9,278.2 194.9,311.4 210.6,311.4 210.6,278.2 226.2,278.2 226.2,311.4 230.5,311.4 230.5,344.7 232.5,344.7 232.5,311.4 234.0,311.4 234.0,344.7 238.5,344.7 238.5,311.4 243.8,311.4 243.8,278.2 256.6,278.2 256.6,344.7 285.5,344.7 285.5,311.4 322.9,311.4 322.9,244.5 337.0,244.5" stroke="#454545" stroke-width="1.1" fill="none" stroke-linejoin="miter"/>
<text x="9.40" y="203.10" font-size="12.8" fill="#111" stroke="#111" text-anchor="start" font-weight="bold" >(B)</text>
<text x="130.8" y="206" font-size="13.8" fill="#111" stroke="#111">PD Group <tspan font-style="italic">w.</tspan> clonazepam</text>
<text x="72.90" y="247.30" font-size="8.9" fill="#1e1e1e" stroke="#1e1e1e" text-anchor="end" font-weight="normal" >Awake</text>
<text x="72.90" y="281.00" font-size="8.9" fill="#1e1e1e" stroke="#1e1e1e" text-anchor="end" font-weight="normal" >REM</text>
<text x="72.90" y="314.20" font-size="8.9" fill="#1e1e1e" stroke="#1e1e1e" text-anchor="end" font-weight="normal" >Light Sleep</text>
<text x="72.90" y="347.50" font-size="8.9" fill="#1e1e1e" stroke="#1e1e1e" text-anchor="end" font-weight="normal" >Deep Sleep</text>
<text x="19.20" y="286.50" font-size="9.65" fill="#222" stroke="#222" text-anchor="middle" font-weight="normal" transform="rotate(-90 19.20 286.50)" >Sleep Stage</text>
<text x="92.80" y="360.50" font-size="8.8" fill="#222" stroke="#222" text-anchor="middle" font-weight="normal" >21:00</text>
<text x="169.00" y="360.50" font-size="8.8" fill="#222" stroke="#222" text-anchor="middle" font-weight="normal" >00:00</text>
<text x="245.20" y="360.50" font-size="8.8" fill="#222" stroke="#222" text-anchor="middle" font-weight="normal" >03:00</text>
<text x="321.40" y="360.50" font-size="8.8" fill="#222" stroke="#222" text-anchor="middle" font-weight="normal" >06:00</text>
<text x="337.50" y="225.40" font-size="8.6" fill="#2a3cf5" stroke="#2a3cf5" text-anchor="start" font-weight="normal" >190</text>
<text x="337.50" y="233.40" font-size="8.6" fill="#2a3cf5" stroke="#2a3cf5" text-anchor="start" font-weight="normal" >140</text>
<text x="337.50" y="241.20" font-size="8.6" fill="#2a3cf5" stroke="#2a3cf5" text-anchor="start" font-weight="normal" >90</text>
<text x="337.50" y="248.50" font-size="8.6" fill="#2a3cf5" stroke="#2a3cf5" text-anchor="start" font-weight="normal" >40</text>
<text x="371.40" y="353.40" font-size="8.7" fill="#d5785a" stroke="#d5785a" text-anchor="start" font-weight="normal" >0</text>
<text x="371.40" y="332.20" font-size="8.7" fill="#d5785a" stroke="#d5785a" text-anchor="start" font-weight="normal" >1000</text>
<text x="371.40" y="309.80" font-size="8.7" fill="#d5785a" stroke="#d5785a" text-anchor="start" font-weight="normal" >2000</text>
<text x="371.40" y="287.60" font-size="8.7" fill="#d5785a" stroke="#d5785a" text-anchor="start" font-weight="normal" >3000</text>
<text x="371.40" y="265.40" font-size="8.7" fill="#d5785a" stroke="#d5785a" text-anchor="start" font-weight="normal" >4000</text>
<text x="371.40" y="242.20" font-size="8.7" fill="#d5785a" stroke="#d5785a" text-anchor="start" font-weight="normal" >5000</text>
<text x="371.40" y="218.30" font-size="8.7" fill="#d5785a" stroke="#d5785a" text-anchor="start" font-weight="normal" >6000</text>
<text x="365.50" y="275.10" font-size="9.7" fill="#2a3cf5" stroke="#2a3cf5" text-anchor="middle" font-weight="normal" transform="rotate(-90 365.50 275.10)" >Heart Rate (bpm)</text>
<text x="409.50" y="278.50" font-size="9.6" fill="#d5785a" stroke="#d5785a" text-anchor="middle" font-weight="normal" transform="rotate(-90 409.50 278.50)" >G strength</text>
<path d="M76.5 532.8V512.9M77.5 532.8V513.3M78.5 532.8V513.6M79.5 532.8V513.3M80.5 532.8V510.6M81.5 532.8V514.9M82.5 532.8V515.2M83.5 532.8V514.0M84.5 532.8V511.9M85.5 532.8V513.9M86.5 532.8V513.7M87.5 532.8V512.6M88.5 532.8V514.1M89.5 532.8V511.5M90.5 532.8V513.7M91.5 532.8V514.6M92.5 532.8V512.5M93.5 532.8V513.6M94.5 532.8V510.7M95.5 532.8V512.9M96.5 532.8V510.8M97.5 532.8V511.0M98.5 532.8V510.0M99.5 532.8V515.4M100.5 532.8V511.3M101.5 532.8V510.6M102.5 532.8V512.7M103.5 532.8V515.8M104.5 532.8V513.3M105.5 532.8V512.3M106.5 532.8V515.6M107.5 532.8V513.2M108.5 532.8V510.5M109.5 532.8V514.8M110.5 532.8V512.2M111.5 532.8V511.3M112.5 532.8V511.9M113.5 532.8V512.9M114.5 532.8V513.6M115.5 532.8V511.8M116.5 532.8V511.7M117.5 532.8V512.3M118.5 532.8V515.0M119.5 532.8V513.9M120.5 532.8V511.7M121.5 532.8V514.9M122.5 532.8V513.0M123.5 532.8V513.0M124.5 532.8V511.6M125.5 532.8V513.7M126.5 532.8V513.4M127.5 532.8V514.4M128.5 532.8V513.3M129.5 532.8V513.9M130.5 532.8V512.1M131.5 532.8V511.8M132.5 532.8V510.2M133.5 532.8V515.8M134.5 532.8V511.6M135.5 532.8V511.8M136.5 532.8V513.0M137.5 532.8V511.5M138.5 532.8V514.3M139.5 532.8V510.1M140.5 532.8V507.7M141.5 532.8V506.8M142.5 532.8V508.3M143.5 532.8V509.5M144.5 532.8V505.4M145.5 532.8V508.1M146.5 532.8V507.6M147.5 532.8V506.3M148.5 532.8V506.1M149.5 532.8V506.9M150.5 532.8V508.4M151.5 532.8V505.1M152.5 532.8V510.7M153.5 532.8V506.5M154.5 532.8V507.4M155.5 532.8V509.7M156.5 532.8V506.7M157.5 532.8V508.5M158.5 532.8V504.9M159.5 532.8V508.7M160.5 532.8V506.7M161.5 532.8V509.0M162.5 532.8V510.8M163.5 532.8V515.6M164.5 532.8V513.0M165.5 532.8V510.9M166.5 532.8V513.4M167.5 532.8V514.6M168.5 532.8V511.2M169.5 532.8V512.2M170.5 532.8V510.4M171.5 532.8V511.6M172.5 532.8V513.7M173.5 532.8V512.0M174.5 532.8V513.0M175.5 532.8V515.6M176.5 532.8V510.9M177.5 532.8V514.4M178.5 532.8V514.4M179.5 532.8V515.6M180.5 532.8V515.7M181.5 532.8V513.9M182.5 532.8V514.4M183.5 532.8V513.3M184.5 532.8V510.2M185.5 532.8V510.1M186.5 532.8V512.7M187.5 532.8V512.1M188.5 532.8V511.3M189.5 532.8V511.4M190.5 532.8V509.9M191.5 532.8V511.7M192.5 532.8V515.2M193.5 532.8V514.6M194.5 532.8V514.6M195.5 532.8V511.4M196.5 532.8V512.4M197.5 532.8V513.7M198.5 532.8V513.7M199.5 532.8V510.9M200.5 532.8V512.4M201.5 532.8V515.6M202.5 532.8V513.6M203.5 532.8V511.2M204.5 532.8V513.5M205.5 532.8V510.3M206.5 532.8V512.8M207.5 532.8V511.9M208.5 532.8V514.2M209.5 532.8V511.8M210.5 532.8V513.8M211.5 532.8V513.7M212.5 532.8V514.6M213.5 532.8V510.2M214.5 532.8V515.3M215.5 532.8V512.6M216.5 532.8V515.4M217.5 532.8V513.9M218.5 532.8V509.9M219.5 532.8V511.0M220.5 532.8V513.5M221.5 532.8V513.6M222.5 532.8V513.2M223.5 532.8V512.5M224.5 532.8V515.6M225.5 532.8V513.6M226.5 532.8V511.9M227.5 532.8V511.1M228.5 532.8V515.5M229.5 532.8V514.7M230.5 532.8V511.8M231.5 532.8V510.1M232.5 532.8V513.2M233.5 532.8V513.1M234.5 532.8V511.0M235.5 532.8V512.0M236.5 532.8V512.6M237.5 532.8V511.0M238.5 532.8V514.5M239.5 532.8V512.0M240.5 532.8V514.8M241.5 532.8V511.5M242.5 532.8V511.3M243.5 532.8V514.4M244.5 532.8V511.3M245.5 532.8V511.9M246.5 532.8V513.3M247.5 532.8V510.5M248.5 532.8V511.9M249.5 532.8V509.9M250.5 532.8V512.2M251.5 532.8V515.5M252.5 532.8V510.1M253.5 532.8V514.3M254.5 532.8V511.3M255.5 532.8V511.9M256.5 532.8V514.3M257.5 532.8V513.4M258.5 532.8V514.9M259.5 532.8V512.7M260.5 532.8V512.8M261.5 532.8V514.0M262.5 532.8V513.8M263.5 532.8V514.0M264.5 532.8V513.3M265.5 532.8V513.5M266.5 532.8V510.8M267.5 532.8V510.4M268.5 532.8V510.9M269.5 532.8V510.2M270.5 532.8V510.1M271.5 532.8V514.1M272.5 532.8V511.8M273.5 532.8V510.9M274.5 532.8V510.9M275.5 532.8V512.4M276.5 532.8V512.0M277.5 532.8V512.2M278.5 532.8V515.1M279.5 532.8V512.7M280.5 532.8V512.5M281.5 532.8V510.0M282.5 532.8V512.0M283.5 532.8V514.6M284.5 532.8V511.0M285.5 532.8V514.4M286.5 532.8V514.0M287.5 532.8V513.2M288.5 532.8V512.7M289.5 532.8V515.1M290.5 532.8V512.7M291.5 532.8V510.1M292.5 532.8V511.5M293.5 532.8V513.2M294.5 532.8V515.2M295.5 532.8V512.1M296.5 532.8V513.1M297.5 532.8V511.0M298.5 532.8V515.1M299.5 532.8V512.3M300.5 532.8V510.1M301.5 532.8V512.4M302.5 532.8V515.2M303.5 532.8V513.5M304.5 532.8V511.0M305.5 532.8V515.8M306.5 532.8V513.3M307.5 532.8V512.5M308.5 532.8V514.9M309.5 532.8V514.3M310.5 532.8V514.9M311.5 532.8V511.4M312.5 532.8V510.9M313.5 532.8V514.6M314.5 532.8V513.7M315.5 532.8V513.6M316.5 532.8V512.4M317.5 532.8V511.9M318.5 532.8V515.0M319.5 532.8V510.3M320.5 532.8V510.2M321.5 532.8V515.5M322.5 532.8V514.0M323.5 532.8V512.7M324.5 532.8V511.2M325.5 532.8V513.5M326.5 532.8V514.6M327.5 532.8V511.4M328.5 532.8V515.0M329.5 532.8V511.3M330.5 532.8V512.0M331.5 532.8V511.1M332.5 532.8V511.3M333.5 532.8V511.7M334.5 532.8V512.4M335.5 532.8V512.1M336.5 532.8V515.3" stroke="#f1b8a0" stroke-opacity="1.0" stroke-width="1" fill="none"/>
<path d="M76.5 532.8V505.8M77.5 532.8V509.0M78.5 532.8V493.8M79.5 532.8V509.9M80.5 532.8V505.8M81.5 532.8V507.4M82.5 532.8V499.4M83.5 532.8V509.5M84.5 532.8V427.8M85.5 532.8V509.2M86.5 532.8V512.6M87.5 532.8V504.2M88.5 532.8V506.2M89.5 532.8V512.0M90.5 532.8V512.8M91.5 532.8V500.4M92.5 532.8V511.3M93.5 532.8V500.4M94.5 532.8V456.2M95.5 532.8V468.0M96.5 532.8V489.9M97.5 532.8V484.4M98.5 532.8V465.5M99.5 532.8V506.8M100.5 532.8V435.8M101.5 532.8V504.1M102.5 532.8V504.0M103.5 532.8V511.0M104.5 532.8V489.4M105.5 532.8V496.2M106.5 532.8V504.3M107.5 532.8V510.7M108.5 532.8V500.6M109.5 532.8V492.7M110.5 532.8V469.7M111.5 532.8V498.1M112.5 532.8V510.5M113.5 532.8V510.6M114.5 532.8V506.7M115.5 532.8V499.4M116.5 532.8V486.6M117.5 532.8V508.1M118.5 532.8V488.9M119.5 532.8V491.9M120.5 532.8V440.6M121.5 532.8V454.1M122.5 532.8V501.2M123.5 532.8V508.8M124.5 532.8V464.8M125.5 532.8V498.4M126.5 532.8V505.5M127.5 532.8V509.7M128.5 532.8V488.3M129.5 532.8V496.1M130.5 532.8V427.8M131.5 532.8V490.1M132.5 532.8V509.6M133.5 532.8V496.0M134.5 532.8V508.9M135.5 532.8V509.7M136.5 532.8V501.9M137.5 532.8V510.4M138.5 532.8V504.5M139.5 532.8V509.1M140.5 532.8V486.1M141.5 532.8V427.8M142.5 532.8V484.7M143.5 532.8V427.8M144.5 532.8V454.0M145.5 532.8V503.5M146.5 532.8V500.6M147.5 532.8V427.8M148.5 532.8V504.0M149.5 532.8V502.3M150.5 532.8V504.7M151.5 532.8V492.7M152.5 532.8V492.9M153.5 532.8V496.6M154.5 532.8V499.7M155.5 532.8V454.7M156.5 532.8V501.3M157.5 532.8V488.4M158.5 532.8V472.7M159.5 532.8V493.6M160.5 532.8V503.7M161.5 532.8V504.4M162.5 532.8V511.4M163.5 532.8V505.0M164.5 532.8V497.5M165.5 532.8V502.6M166.5 532.8V507.2M167.5 532.8V504.4M168.5 532.8V510.8M169.5 532.8V507.5M170.5 532.8V506.1M171.5 532.8V508.9M172.5 532.8V492.1M173.5 532.8V511.1M174.5 532.8V512.6M175.5 532.8V509.9M176.5 532.8V508.3M177.5 532.8V511.9M178.5 532.8V500.5M179.5 532.8V511.0M180.5 532.8V503.6M181.5 532.8V501.3M182.5 532.8V505.9M183.5 532.8V506.3M184.5 532.8V502.7M185.5 532.8V492.1M186.5 532.8V490.1M187.5 532.8V472.8M188.5 532.8V511.8M189.5 532.8V505.5M190.5 532.8V510.2M191.5 532.8V504.8M192.5 532.8V507.3M193.5 532.8V510.1M194.5 532.8V509.8M195.5 532.8V511.6M196.5 532.8V510.6M197.5 532.8V503.7M198.5 532.8V504.3M199.5 532.8V505.4M200.5 532.8V511.5M201.5 532.8V495.4M202.5 532.8V511.8M203.5 532.8V510.3M204.5 532.8V505.9M205.5 532.8V512.7M206.5 532.8V509.5M207.5 532.8V505.1M208.5 532.8V504.5M209.5 532.8V500.4M210.5 532.8V510.8M211.5 532.8V508.7M212.5 532.8V512.4M213.5 532.8V511.7M214.5 532.8V501.9M215.5 532.8V511.2M216.5 532.8V501.9M217.5 532.8V495.5M218.5 532.8V505.9M219.5 532.8V503.9M220.5 532.8V507.0M221.5 532.8V500.1M222.5 532.8V507.1M223.5 532.8V508.1M224.5 532.8V507.7M225.5 532.8V510.2M226.5 532.8V508.8M227.5 532.8V508.8M228.5 532.8V485.9M229.5 532.8V482.5M230.5 532.8V508.0M231.5 532.8V478.9M232.5 532.8V506.2M233.5 532.8V505.3M234.5 532.8V488.0M235.5 532.8V508.2M236.5 532.8V491.1M237.5 532.8V501.3M238.5 532.8V506.2M239.5 532.8V472.8M240.5 532.8V504.7M241.5 532.8V472.8M242.5 532.8V510.7M243.5 532.8V496.4M244.5 532.8V495.6M245.5 532.8V507.9M246.5 532.8V512.4M247.5 532.8V509.2M248.5 532.8V507.8M249.5 532.8V499.5M250.5 532.8V480.2M251.5 532.8V505.3M252.5 532.8V506.9M253.5 532.8V512.7M254.5 532.8V507.8M255.5 532.8V472.8M256.5 532.8V511.6M257.5 532.8V512.5M258.5 532.8V498.6M259.5 532.8V497.7M260.5 532.8V507.8M261.5 532.8V511.6M262.5 532.8V501.5M263.5 532.8V511.8M264.5 532.8V506.7M265.5 532.8V511.0M266.5 532.8V506.7M267.5 532.8V512.1M268.5 532.8V483.1M269.5 532.8V487.7M270.5 532.8V492.1M271.5 532.8V511.7M272.5 532.8V504.3M273.5 532.8V508.8M274.5 532.8V506.8M275.5 532.8V481.7M276.5 532.8V504.9M277.5 532.8V501.5M278.5 532.8V509.5M279.5 532.8V512.6M280.5 532.8V509.6M281.5 532.8V504.8M282.5 532.8V512.0M283.5 532.8V509.0M284.5 532.8V511.7M285.5 532.8V511.7M286.5 532.8V511.9M287.5 532.8V472.8M288.5 532.8V494.5M289.5 532.8V503.4M290.5 532.8V511.0M291.5 532.8V512.1M292.5 532.8V512.4M293.5 532.8V509.7M294.5 532.8V511.4M295.5 532.8V495.7M296.5 532.8V506.5M297.5 532.8V508.0M298.5 532.8V512.3M299.5 532.8V510.9M300.5 532.8V496.2M301.5 532.8V488.8M302.5 532.8V506.9M303.5 532.8V498.8M304.5 532.8V511.3M305.5 532.8V512.1M306.5 532.8V510.6M307.5 532.8V512.2M308.5 532.8V503.4M309.5 532.8V511.0M310.5 532.8V511.1M311.5 532.8V505.8M312.5 532.8V478.0M313.5 532.8V508.9M314.5 532.8V494.5M315.5 532.8V490.6M316.5 532.8V495.6M317.5 532.8V503.7M318.5 532.8V503.3M319.5 532.8V508.5M320.5 532.8V511.8M321.5 532.8V481.2M322.5 532.8V509.0M323.5 532.8V511.7M324.5 532.8V496.5M325.5 532.8V505.2M326.5 532.8V509.3M327.5 532.8V511.0M328.5 532.8V498.8M329.5 532.8V511.6M330.5 532.8V495.3M331.5 532.8V489.8M332.5 532.8V504.7M333.5 532.8V511.3M334.5 532.8V510.9M335.5 532.8V508.6M336.5 532.8V506.5" stroke="#f1b8a0" stroke-opacity="0.26" stroke-width="1" fill="none"/>
<path d="M76.5 532.8V500.4M77.5 532.8V505.7M78.5 532.8V495.0M79.5 532.8V512.3M80.5 532.8V492.7M81.5 532.8V509.7M82.5 532.8V494.2M83.5 532.8V492.5M84.5 532.8V497.2M85.5 532.8V499.5M86.5 532.8V500.5M87.5 532.8V508.9M88.5 532.8V490.7M89.5 532.8V506.3M90.5 532.8V512.2M91.5 532.8V511.6M92.5 532.8V503.9M93.5 532.8V512.7M94.5 532.8V485.9M95.5 532.8V458.8M96.5 532.8V433.2M97.5 532.8V476.6M98.5 532.8V440.1M99.5 532.8V451.0M100.5 532.8V466.2M101.5 532.8V496.5M102.5 532.8V498.0M103.5 532.8V510.9M104.5 532.8V451.9M105.5 532.8V476.5M106.5 532.8V503.2M107.5 532.8V505.7M108.5 532.8V512.7M109.5 532.8V511.9M110.5 532.8V511.0M111.5 532.8V508.3M112.5 532.8V509.9M113.5 532.8V511.9M114.5 532.8V509.6M115.5 532.8V512.1M116.5 532.8V495.5M117.5 532.8V508.9M118.5 532.8V503.1M119.5 532.8V479.6M120.5 532.8V512.3M121.5 532.8V464.1M122.5 532.8V466.0M123.5 532.8V493.7M124.5 532.8V505.8M125.5 532.8V500.0M126.5 532.8V498.9M127.5 532.8V510.4M128.5 532.8V484.9M129.5 532.8V507.7M130.5 532.8V496.8M131.5 532.8V489.7M132.5 532.8V505.2M133.5 532.8V512.6M134.5 532.8V510.3M135.5 532.8V511.8M136.5 532.8V509.8M137.5 532.8V510.9M138.5 532.8V504.6M139.5 532.8V507.3M140.5 532.8V473.1M141.5 532.8V498.5M142.5 532.8V504.0M143.5 532.8V479.3M144.5 532.8V486.7M145.5 532.8V472.8M146.5 532.8V471.7M147.5 532.8V442.6M148.5 532.8V429.1M149.5 532.8V483.6M150.5 532.8V502.2M151.5 532.8V489.9M152.5 532.8V499.1M153.5 532.8V498.6M154.5 532.8V505.7M155.5 532.8V503.5M156.5 532.8V503.3M157.5 532.8V499.6M158.5 532.8V493.1M159.5 532.8V502.1M160.5 532.8V502.5M161.5 532.8V495.1M162.5 532.8V472.8M163.5 532.8V505.2M164.5 532.8V512.5M165.5 532.8V500.6M166.5 532.8V499.9M167.5 532.8V509.9M168.5 532.8V508.5M169.5 532.8V508.8M170.5 532.8V509.2M171.5 532.8V509.2M172.5 532.8V501.2M173.5 532.8V511.4M174.5 532.8V497.7M175.5 532.8V510.5M176.5 532.8V512.6M177.5 532.8V475.7M178.5 532.8V500.5M179.5 532.8V507.7M180.5 532.8V509.4M181.5 532.8V498.5M182.5 532.8V503.6M183.5 532.8V506.0M184.5 532.8V495.6M185.5 532.8V500.2M186.5 532.8V480.5M187.5 532.8V481.9M188.5 532.8V472.8M189.5 532.8V484.0M190.5 532.8V501.4M191.5 532.8V505.0M192.5 532.8V507.0M193.5 532.8V504.9M194.5 532.8V509.1M195.5 532.8V508.0M196.5 532.8V511.4M197.5 532.8V509.1M198.5 532.8V505.9M199.5 532.8V504.9M200.5 532.8V512.0M201.5 532.8V491.8M202.5 532.8V502.1M203.5 532.8V512.2M204.5 532.8V510.0M205.5 532.8V506.9M206.5 532.8V503.5M207.5 532.8V498.1M208.5 532.8V503.6M209.5 532.8V504.9M210.5 532.8V506.7M211.5 532.8V510.8M212.5 532.8V500.0M213.5 532.8V490.5M214.5 532.8V508.3M215.5 532.8V485.3M216.5 532.8V511.3M217.5 532.8V500.8M218.5 532.8V507.4M219.5 532.8V511.0M220.5 532.8V510.3M221.5 532.8V511.7M222.5 532.8V511.6M223.5 532.8V512.2M224.5 532.8V509.8M225.5 532.8V507.9M226.5 532.8V511.7M227.5 532.8V507.7M228.5 532.8V491.8M229.5 532.8V509.7M230.5 532.8V495.5M231.5 532.8V501.3M232.5 532.8V472.8M233.5 532.8V511.6M234.5 532.8V494.0M235.5 532.8V500.8M236.5 532.8V500.4M237.5 532.8V472.8M238.5 532.8V495.8M239.5 532.8V481.4M240.5 532.8V507.4M241.5 532.8V496.1M242.5 532.8V509.7M243.5 532.8V510.3M244.5 532.8V511.3M245.5 532.8V506.6M246.5 532.8V512.5M247.5 532.8V507.8M248.5 532.8V507.2M249.5 532.8V509.3M250.5 532.8V511.9M251.5 532.8V509.5M252.5 532.8V512.5M253.5 532.8V510.8M254.5 532.8V498.1M255.5 532.8V510.7M256.5 532.8V511.4M257.5 532.8V512.7M258.5 532.8V500.4M259.5 532.8V505.7M260.5 532.8V511.1M261.5 532.8V509.8M262.5 532.8V511.2M263.5 532.8V512.2M264.5 532.8V511.3M265.5 532.8V505.5M266.5 532.8V509.6M267.5 532.8V497.2M268.5 532.8V473.5M269.5 532.8V472.8M270.5 532.8V483.3M271.5 532.8V505.0M272.5 532.8V499.5M273.5 532.8V494.4M274.5 532.8V506.0M275.5 532.8V488.9M276.5 532.8V487.6M277.5 532.8V500.5M278.5 532.8V501.5M279.5 532.8V507.1M280.5 532.8V511.5M281.5 532.8V507.3M282.5 532.8V512.2M283.5 532.8V511.9M284.5 532.8V512.1M285.5 532.8V511.1M286.5 532.8V504.3M287.5 532.8V512.2M288.5 532.8V509.7M289.5 532.8V512.4M290.5 532.8V510.6M291.5 532.8V507.2M292.5 532.8V507.3M293.5 532.8V510.0M294.5 532.8V497.9M295.5 532.8V512.2M296.5 532.8V506.3M297.5 532.8V507.0M298.5 532.8V506.8M299.5 532.8V511.2M300.5 532.8V507.0M301.5 532.8V502.8M302.5 532.8V510.9M303.5 532.8V512.3M304.5 532.8V509.5M305.5 532.8V511.7M306.5 532.8V512.0M307.5 532.8V512.7M308.5 532.8V509.0M309.5 532.8V510.6M310.5 532.8V510.6M311.5 532.8V506.8M312.5 532.8V485.3M313.5 532.8V480.9M314.5 532.8V486.3M315.5 532.8V491.4M316.5 532.8V512.4M317.5 532.8V481.7M318.5 532.8V499.5M319.5 532.8V502.0M320.5 532.8V511.4M321.5 532.8V491.8M322.5 532.8V501.1M323.5 532.8V511.3M324.5 532.8V509.5M325.5 532.8V510.3M326.5 532.8V512.4M327.5 532.8V509.6M328.5 532.8V512.4M329.5 532.8V511.9M330.5 532.8V510.0M331.5 532.8V510.4M332.5 532.8V509.1M333.5 532.8V509.6M334.5 532.8V501.9M335.5 532.8V502.7M336.5 532.8V511.2" stroke="#f1b8a0" stroke-opacity="0.26" stroke-width="1" fill="none"/>
<path d="M76.5 532.8V506.7M77.5 532.8V474.5M78.5 532.8V508.0M79.5 532.8V489.3M80.5 532.8V465.7M81.5 532.8V475.2M82.5 532.8V512.7M83.5 532.8V493.9M84.5 532.8V503.4M85.5 532.8V479.0M86.5 532.8V512.2M87.5 532.8V499.1M88.5 532.8V508.3M89.5 532.8V497.1M90.5 532.8V509.3M91.5 532.8V511.6M92.5 532.8V498.3M93.5 532.8V509.7M94.5 532.8V450.4M95.5 532.8V508.3M96.5 532.8V495.9M97.5 532.8V485.8M98.5 532.8V468.5M99.5 532.8V503.9M100.5 532.8V510.2M101.5 532.8V470.6M102.5 532.8V468.6M103.5 532.8V507.4M104.5 532.8V499.1M105.5 532.8V509.4M106.5 532.8V509.7M107.5 532.8V434.7M108.5 532.8V508.2M109.5 532.8V504.1M110.5 532.8V475.4M111.5 532.8V485.4M112.5 532.8V506.7M113.5 532.8V504.3M114.5 532.8V511.0M115.5 532.8V509.9M116.5 532.8V472.3M117.5 532.8V496.8M118.5 532.8V459.4M119.5 532.8V427.8M120.5 532.8V494.8M121.5 532.8V503.6M122.5 532.8V499.5M123.5 532.8V512.4M124.5 532.8V508.0M125.5 532.8V503.6M126.5 532.8V498.1M127.5 532.8V507.2M128.5 532.8V494.4M129.5 532.8V510.5M130.5 532.8V509.4M131.5 532.8V507.0M132.5 532.8V487.3M133.5 532.8V485.9M134.5 532.8V493.5M135.5 532.8V504.3M136.5 532.8V510.3M137.5 532.8V512.8M138.5 532.8V510.0M139.5 532.8V510.3M140.5 532.8V493.0M141.5 532.8V494.6M142.5 532.8V445.2M143.5 532.8V504.2M144.5 532.8V468.8M145.5 532.8V448.7M146.5 532.8V501.7M147.5 532.8V489.4M148.5 532.8V490.4M149.5 532.8V502.2M150.5 532.8V495.3M151.5 532.8V490.0M152.5 532.8V499.8M153.5 532.8V506.1M154.5 532.8V506.3M155.5 532.8V503.2M156.5 532.8V457.7M157.5 532.8V502.8M158.5 532.8V497.6M159.5 532.8V506.9M160.5 532.8V496.5M161.5 532.8V507.7M162.5 532.8V512.8M163.5 532.8V508.5M164.5 532.8V510.9M165.5 532.8V508.9M166.5 532.8V510.6M167.5 532.8V495.7M168.5 532.8V504.6M169.5 532.8V508.2M170.5 532.8V506.5M171.5 532.8V495.1M172.5 532.8V510.7M173.5 532.8V505.6M174.5 532.8V510.8M175.5 532.8V510.6M176.5 532.8V508.5M177.5 532.8V476.3M178.5 532.8V507.6M179.5 532.8V498.1M180.5 532.8V496.4M181.5 532.8V510.4M182.5 532.8V508.0M183.5 532.8V510.8M184.5 532.8V472.8M185.5 532.8V495.8M186.5 532.8V472.8M187.5 532.8V474.0M188.5 532.8V472.8M189.5 532.8V506.4M190.5 532.8V487.8M191.5 532.8V501.1M192.5 532.8V482.5M193.5 532.8V508.9M194.5 532.8V510.1M195.5 532.8V512.4M196.5 532.8V511.7M197.5 532.8V508.7M198.5 532.8V506.5M199.5 532.8V506.0M200.5 532.8V499.7M201.5 532.8V506.5M202.5 532.8V508.1M203.5 532.8V506.9M204.5 532.8V510.2M205.5 532.8V511.5M206.5 532.8V511.3M207.5 532.8V486.2M208.5 532.8V510.6M209.5 532.8V506.9M210.5 532.8V489.0M211.5 532.8V505.8M212.5 532.8V508.1M213.5 532.8V506.8M214.5 532.8V498.0M215.5 532.8V506.2M216.5 532.8V505.0M217.5 532.8V508.3M218.5 532.8V500.0M219.5 532.8V510.5M220.5 532.8V506.5M221.5 532.8V491.5M222.5 532.8V501.5M223.5 532.8V507.3M224.5 532.8V507.5M225.5 532.8V512.5M226.5 532.8V509.2M227.5 532.8V503.7M228.5 532.8V511.2M229.5 532.8V488.9M230.5 532.8V499.4M231.5 532.8V511.6M232.5 532.8V511.7M233.5 532.8V497.6M234.5 532.8V498.3M235.5 532.8V486.7M236.5 532.8V489.4M237.5 532.8V509.3M238.5 532.8V512.2M239.5 532.8V502.6M240.5 532.8V512.6M241.5 532.8V490.4M242.5 532.8V502.3M243.5 532.8V506.5M244.5 532.8V503.6M245.5 532.8V509.6M246.5 532.8V510.1M247.5 532.8V508.7M248.5 532.8V509.3M249.5 532.8V511.7M250.5 532.8V511.8M251.5 532.8V511.9M252.5 532.8V510.7M253.5 532.8V511.3M254.5 532.8V509.9M255.5 532.8V478.6M256.5 532.8V511.0M257.5 532.8V512.4M258.5 532.8V510.2M259.5 532.8V509.8M260.5 532.8V508.6M261.5 532.8V500.3M262.5 532.8V502.2M263.5 532.8V512.6M264.5 532.8V512.6M265.5 532.8V501.1M266.5 532.8V509.7M267.5 532.8V503.8M268.5 532.8V475.3M269.5 532.8V507.8M270.5 532.8V472.8M271.5 532.8V506.8M272.5 532.8V481.1M273.5 532.8V472.8M274.5 532.8V489.0M275.5 532.8V510.8M276.5 532.8V489.6M277.5 532.8V488.9M278.5 532.8V509.4M279.5 532.8V509.9M280.5 532.8V510.7M281.5 532.8V512.4M282.5 532.8V512.7M283.5 532.8V512.5M284.5 532.8V511.8M285.5 532.8V509.7M286.5 532.8V511.1M287.5 532.8V511.8M288.5 532.8V499.8M289.5 532.8V496.5M290.5 532.8V511.9M291.5 532.8V511.7M292.5 532.8V505.3M293.5 532.8V512.3M294.5 532.8V509.6M295.5 532.8V510.4M296.5 532.8V502.1M297.5 532.8V504.5M298.5 532.8V507.0M299.5 532.8V507.3M300.5 532.8V509.5M301.5 532.8V509.9M302.5 532.8V511.6M303.5 532.8V507.3M304.5 532.8V512.3M305.5 532.8V507.2M306.5 532.8V512.6M307.5 532.8V511.9M308.5 532.8V508.2M309.5 532.8V505.2M310.5 532.8V512.0M311.5 532.8V491.7M312.5 532.8V485.2M313.5 532.8V478.9M314.5 532.8V507.5M315.5 532.8V472.8M316.5 532.8V500.4M317.5 532.8V508.5M318.5 532.8V502.8M319.5 532.8V492.6M320.5 532.8V505.0M321.5 532.8V501.8M322.5 532.8V511.2M323.5 532.8V496.9M324.5 532.8V508.5M325.5 532.8V508.0M326.5 532.8V489.4M327.5 532.8V511.9M328.5 532.8V500.6M329.5 532.8V511.6M330.5 532.8V503.3M331.5 532.8V508.1M332.5 532.8V502.8M333.5 532.8V510.0M334.5 532.8V505.9M335.5 532.8V497.2M336.5 532.8V511.6" stroke="#f1b8a0" stroke-opacity="0.26" stroke-width="1" fill="none"/>
<path d="M76.5 532.8V508.2M77.5 532.8V504.8M78.5 532.8V499.0M79.5 532.8V503.0M80.5 532.8V451.3M81.5 532.8V499.9M82.5 532.8V478.4M83.5 532.8V501.5M84.5 532.8V501.2M85.5 532.8V481.5M86.5 532.8V511.6M87.5 532.8V509.3M88.5 532.8V507.6M89.5 532.8V510.8M90.5 532.8V512.5M91.5 532.8V509.4M92.5 532.8V508.3M93.5 532.8V470.5M94.5 532.8V503.4M95.5 532.8V468.4M96.5 532.8V479.2M97.5 532.8V476.6M98.5 532.8V456.7M99.5 532.8V490.1M100.5 532.8V494.7M101.5 532.8V427.8M102.5 532.8V512.6M103.5 532.8V504.7M104.5 532.8V477.8M105.5 532.8V449.3M106.5 532.8V492.3M107.5 532.8V493.6M108.5 532.8V507.7M109.5 532.8V509.7M110.5 532.8V473.9M111.5 532.8V496.7M112.5 532.8V491.0M113.5 532.8V512.6M114.5 532.8V510.2M115.5 532.8V510.1M116.5 532.8V510.6M117.5 532.8V512.0M118.5 532.8V449.8M119.5 532.8V482.7M120.5 532.8V464.9M121.5 532.8V506.3M122.5 532.8V459.6M123.5 532.8V512.0M124.5 532.8V487.5M125.5 532.8V511.3M126.5 532.8V504.7M127.5 532.8V503.5M128.5 532.8V499.9M129.5 532.8V506.5M130.5 532.8V510.6M131.5 532.8V493.1M132.5 532.8V500.9M133.5 532.8V501.0M134.5 532.8V511.6M135.5 532.8V512.6M136.5 532.8V510.4M137.5 532.8V510.8M138.5 532.8V512.4M139.5 532.8V506.1M140.5 532.8V496.1M141.5 532.8V467.8M142.5 532.8V452.9M143.5 532.8V464.2M144.5 532.8V494.9M145.5 532.8V492.2M146.5 532.8V490.2M147.5 532.8V477.4M148.5 532.8V478.2M149.5 532.8V465.4M150.5 532.8V481.2M151.5 532.8V492.5M152.5 532.8V504.0M153.5 532.8V504.7M154.5 532.8V500.5M155.5 532.8V500.5M156.5 532.8V465.3M157.5 532.8V434.3M158.5 532.8V505.4M159.5 532.8V475.1M160.5 532.8V496.6M161.5 532.8V505.0M162.5 532.8V482.6M163.5 532.8V506.7M164.5 532.8V505.8M165.5 532.8V498.0M166.5 532.8V506.0M167.5 532.8V503.2M168.5 532.8V511.1M169.5 532.8V500.7M170.5 532.8V510.8M171.5 532.8V511.2M172.5 532.8V506.9M173.5 532.8V507.5M174.5 532.8V506.9M175.5 532.8V508.7M176.5 532.8V509.9M177.5 532.8V472.8M178.5 532.8V500.9M179.5 532.8V510.4M180.5 532.8V505.4M181.5 532.8V502.9M182.5 532.8V503.0M183.5 532.8V485.2M184.5 532.8V488.0M185.5 532.8V512.7M186.5 532.8V505.0M187.5 532.8V472.8M188.5 532.8V472.8M189.5 532.8V506.6M190.5 532.8V504.5M191.5 532.8V498.5M192.5 532.8V508.5M193.5 532.8V505.7M194.5 532.8V509.6M195.5 532.8V500.8M196.5 532.8V512.7M197.5 532.8V512.2M198.5 532.8V499.9M199.5 532.8V507.9M200.5 532.8V503.8M201.5 532.8V497.7M202.5 532.8V505.2M203.5 532.8V507.8M204.5 532.8V504.1M205.5 532.8V505.9M206.5 532.8V509.9M207.5 532.8V487.0M208.5 532.8V498.7M209.5 532.8V500.3M210.5 532.8V510.7M211.5 532.8V502.6M212.5 532.8V508.6M213.5 532.8V491.7M214.5 532.8V500.8M215.5 532.8V504.3M216.5 532.8V472.8M217.5 532.8V510.3M218.5 532.8V500.2M219.5 532.8V503.9M220.5 532.8V510.6M221.5 532.8V506.1M222.5 532.8V509.8M223.5 532.8V509.2M224.5 532.8V508.3M225.5 532.8V511.9M226.5 532.8V498.7M227.5 532.8V505.5M228.5 532.8V511.5M229.5 532.8V483.2M230.5 532.8V510.2M231.5 532.8V472.8M232.5 532.8V506.7M233.5 532.8V472.8M234.5 532.8V510.5M235.5 532.8V487.6M236.5 532.8V479.8M237.5 532.8V503.9M238.5 532.8V507.4M239.5 532.8V508.0M240.5 532.8V499.5M241.5 532.8V499.1M242.5 532.8V505.5M243.5 532.8V500.0M244.5 532.8V505.9M245.5 532.8V506.3M246.5 532.8V512.0M247.5 532.8V505.3M248.5 532.8V504.5M249.5 532.8V512.5M250.5 532.8V508.4M251.5 532.8V503.6M252.5 532.8V509.7M253.5 532.8V504.7M254.5 532.8V511.6M255.5 532.8V509.3M256.5 532.8V504.6M257.5 532.8V506.8M258.5 532.8V511.8M259.5 532.8V495.3M260.5 532.8V506.5M261.5 532.8V511.5M262.5 532.8V512.5M263.5 532.8V508.6M264.5 532.8V511.1M265.5 532.8V506.6M266.5 532.8V511.5M267.5 532.8V493.4M268.5 532.8V476.0M269.5 532.8V481.8M270.5 532.8V472.8M271.5 532.8V501.8M272.5 532.8V510.9M273.5 532.8V509.1M274.5 532.8V512.3M275.5 532.8V510.6M276.5 532.8V508.7M277.5 532.8V511.2M278.5 532.8V501.1M279.5 532.8V510.6M280.5 532.8V510.9M281.5 532.8V508.6M282.5 532.8V511.9M283.5 532.8V511.7M284.5 532.8V509.3M285.5 532.8V509.8M286.5 532.8V504.3M287.5 532.8V512.4M288.5 532.8V503.1M289.5 532.8V504.5M290.5 532.8V507.4M291.5 532.8V503.9M292.5 532.8V510.4M293.5 532.8V510.5M294.5 532.8V511.8M295.5 532.8V510.0M296.5 532.8V493.8M297.5 532.8V507.8M298.5 532.8V498.8M299.5 532.8V499.7M300.5 532.8V496.3M301.5 532.8V500.6M302.5 532.8V479.7M303.5 532.8V506.9M304.5 532.8V512.3M305.5 532.8V509.2M306.5 532.8V510.0M307.5 532.8V510.6M308.5 532.8V511.7M309.5 532.8V505.5M310.5 532.8V510.0M311.5 532.8V508.7M312.5 532.8V505.2M313.5 532.8V501.1M314.5 532.8V508.9M315.5 532.8V472.8M316.5 532.8V511.0M317.5 532.8V498.3M318.5 532.8V511.4M319.5 532.8V505.1M320.5 532.8V512.4M321.5 532.8V509.2M322.5 532.8V511.7M323.5 532.8V511.1M324.5 532.8V506.3M325.5 532.8V507.0M326.5 532.8V511.6M327.5 532.8V512.0M328.5 532.8V509.2M329.5 532.8V506.1M330.5 532.8V512.2M331.5 532.8V506.0M332.5 532.8V502.0M333.5 532.8V508.6M334.5 532.8V511.6M335.5 532.8V510.3M336.5 532.8V498.5" stroke="#f1b8a0" stroke-opacity="0.26" stroke-width="1" fill="none"/>
<path d="M76.5 532.8V507.1M77.5 532.8V501.1M78.5 532.8V483.3M79.5 532.8V510.5M80.5 532.8V510.9M81.5 532.8V509.3M82.5 532.8V509.8M83.5 532.8V505.7M84.5 532.8V505.8M85.5 532.8V508.4M86.5 532.8V507.0M87.5 532.8V509.4M88.5 532.8V512.6M89.5 532.8V498.0M90.5 532.8V512.5M91.5 532.8V510.6M92.5 532.8V507.1M93.5 532.8V489.2M94.5 532.8V492.1M95.5 532.8V427.8M96.5 532.8V498.9M97.5 532.8V427.8M98.5 532.8V492.9M99.5 532.8V507.0M100.5 532.8V496.4M101.5 532.8V472.4M102.5 532.8V508.7M103.5 532.8V499.6M104.5 532.8V512.4M105.5 532.8V506.2M106.5 532.8V507.9M107.5 532.8V491.7M108.5 532.8V490.5M109.5 532.8V479.5M110.5 532.8V427.8M111.5 532.8V503.4M112.5 532.8V507.9M113.5 532.8V511.5M114.5 532.8V495.2M115.5 532.8V508.6M116.5 532.8V483.7M117.5 532.8V478.7M118.5 532.8V485.4M119.5 532.8V457.3M120.5 532.8V508.9M121.5 532.8V479.4M122.5 532.8V435.5M123.5 532.8V509.0M124.5 532.8V501.1M125.5 532.8V511.2M126.5 532.8V500.2M127.5 532.8V501.7M128.5 532.8V496.6M129.5 532.8V510.6M130.5 532.8V505.5M131.5 532.8V512.2M132.5 532.8V510.2M133.5 532.8V511.3M134.5 532.8V507.9M135.5 532.8V494.2M136.5 532.8V504.5M137.5 532.8V510.6M138.5 532.8V505.5M139.5 532.8V490.9M140.5 532.8V483.5M141.5 532.8V460.6M142.5 532.8V472.1M143.5 532.8V488.6M144.5 532.8V462.1M145.5 532.8V501.7M146.5 532.8V477.0M147.5 532.8V492.7M148.5 532.8V471.9M149.5 532.8V501.7M150.5 532.8V483.9M151.5 532.8V504.9M152.5 532.8V503.7M153.5 532.8V501.1M154.5 532.8V493.3M155.5 532.8V503.6M156.5 532.8V501.0M157.5 532.8V504.6M158.5 532.8V505.4M159.5 532.8V507.5M160.5 532.8V506.3M161.5 532.8V506.0M162.5 532.8V510.3M163.5 532.8V510.1M164.5 532.8V508.1M165.5 532.8V506.4M166.5 532.8V493.0M167.5 532.8V509.7M168.5 532.8V509.9M169.5 532.8V511.7M170.5 532.8V512.4M171.5 532.8V505.9M172.5 532.8V508.7M173.5 532.8V503.2M174.5 532.8V510.3M175.5 532.8V485.3M176.5 532.8V509.5M177.5 532.8V489.2M178.5 532.8V506.6M179.5 532.8V503.3M180.5 532.8V510.6M181.5 532.8V512.7M182.5 532.8V503.2M183.5 532.8V490.1M184.5 532.8V509.9M185.5 532.8V496.0M186.5 532.8V495.1M187.5 532.8V485.5M188.5 532.8V488.1M189.5 532.8V472.8M190.5 532.8V509.5M191.5 532.8V496.6M192.5 532.8V497.7M193.5 532.8V511.1M194.5 532.8V509.1M195.5 532.8V512.4M196.5 532.8V506.8M197.5 532.8V496.8M198.5 532.8V506.8M199.5 532.8V509.7M200.5 532.8V494.5M201.5 532.8V511.1M202.5 532.8V511.5M203.5 532.8V512.5M204.5 532.8V512.1M205.5 532.8V506.5M206.5 532.8V508.5M207.5 532.8V509.7M208.5 532.8V502.1M209.5 532.8V494.1M210.5 532.8V506.5M211.5 532.8V504.2M212.5 532.8V509.8M213.5 532.8V510.8M214.5 532.8V510.2M215.5 532.8V478.0M216.5 532.8V502.5M217.5 532.8V472.8M218.5 532.8V512.6M219.5 532.8V504.5M220.5 532.8V510.4M221.5 532.8V510.5M222.5 532.8V512.1M223.5 532.8V512.6M224.5 532.8V508.6M225.5 532.8V509.4M226.5 532.8V510.5M227.5 532.8V511.9M228.5 532.8V506.9M229.5 532.8V505.0M230.5 532.8V511.0M231.5 532.8V501.6M232.5 532.8V500.0M233.5 532.8V505.6M234.5 532.8V506.7M235.5 532.8V507.0M236.5 532.8V472.8M237.5 532.8V509.5M238.5 532.8V508.2M239.5 532.8V490.1M240.5 532.8V493.6M241.5 532.8V502.2M242.5 532.8V503.2M243.5 532.8V510.5M244.5 532.8V490.0M245.5 532.8V502.1M246.5 532.8V512.8M247.5 532.8V510.5M248.5 532.8V504.2M249.5 532.8V511.6M250.5 532.8V511.1M251.5 532.8V508.3M252.5 532.8V499.4M253.5 532.8V511.5M254.5 532.8V500.5M255.5 532.8V505.6M256.5 532.8V485.4M257.5 532.8V489.8M258.5 532.8V507.6M259.5 532.8V509.3M260.5 532.8V509.5M261.5 532.8V505.9M262.5 532.8V504.6M263.5 532.8V512.5M264.5 532.8V505.3M265.5 532.8V507.7M266.5 532.8V512.4M267.5 532.8V508.3M268.5 532.8V472.8M269.5 532.8V476.5M270.5 532.8V494.8M271.5 532.8V480.8M272.5 532.8V505.6M273.5 532.8V512.5M274.5 532.8V508.7M275.5 532.8V505.2M276.5 532.8V503.2M277.5 532.8V507.3M278.5 532.8V511.9M279.5 532.8V512.4M280.5 532.8V511.2M281.5 532.8V508.7M282.5 532.8V511.9M283.5 532.8V512.7M284.5 532.8V511.1M285.5 532.8V512.6M286.5 532.8V512.5M287.5 532.8V508.0M288.5 532.8V506.1M289.5 532.8V509.3M290.5 532.8V511.7M291.5 532.8V501.6M292.5 532.8V512.1M293.5 532.8V512.3M294.5 532.8V510.4M295.5 532.8V506.4M296.5 532.8V504.5M297.5 532.8V497.9M298.5 532.8V510.2M299.5 532.8V505.9M300.5 532.8V489.1M301.5 532.8V510.0M302.5 532.8V501.2M303.5 532.8V489.3M304.5 532.8V504.9M305.5 532.8V510.6M306.5 532.8V512.3M307.5 532.8V511.8M308.5 532.8V512.0M309.5 532.8V512.7M310.5 532.8V506.6M311.5 532.8V506.2M312.5 532.8V507.5M313.5 532.8V487.6M314.5 532.8V511.5M315.5 532.8V472.8M316.5 532.8V511.1M317.5 532.8V472.8M318.5 532.8V503.4M319.5 532.8V503.3M320.5 532.8V487.3M321.5 532.8V487.2M322.5 532.8V511.4M323.5 532.8V512.7M324.5 532.8V508.6M325.5 532.8V492.2M326.5 532.8V511.6M327.5 532.8V503.7M328.5 532.8V510.7M329.5 532.8V507.8M330.5 532.8V502.5M331.5 532.8V504.2M332.5 532.8V499.3M333.5 532.8V506.0M334.5 532.8V510.5M335.5 532.8V497.0M336.5 532.8V509.7" stroke="#f1b8a0" stroke-opacity="0.26" stroke-width="1" fill="none"/>
<path d="M96.6 532.8V435.0" stroke="#f1b8a0" stroke-opacity="0.7" stroke-width="1.2" fill="none"/>
<path d="M126.3 532.8V427.0" stroke="#f1b8a0" stroke-opacity="0.7" stroke-width="1.2" fill="none"/>
<path d="M117.6 532.8V455.0" stroke="#f1b8a0" stroke-opacity="0.5" stroke-width="1.2" fill="none"/>
<path d="M188.4 532.8V441.0" stroke="#f1b8a0" stroke-opacity="0.7" stroke-width="1.2" fill="none"/>
<path d="M234.7 532.8V450.0" stroke="#f1b8a0" stroke-opacity="0.6" stroke-width="1.2" fill="none"/>
<path d="M243 532.8V461.0" stroke="#f1b8a0" stroke-opacity="0.5" stroke-width="1.2" fill="none"/>
<path d="M271 532.8V440.0" stroke="#f1b8a0" stroke-opacity="0.8" stroke-width="1.2" fill="none"/>
<path d="M313.6 532.8V460.0" stroke="#f1b8a0" stroke-opacity="0.6" stroke-width="1.2" fill="none"/>
<path d="M211 532.8V482.0" stroke="#f1b8a0" stroke-opacity="0.5" stroke-width="1.2" fill="none"/>
<path d="M288 532.8V480.0" stroke="#f1b8a0" stroke-opacity="0.5" stroke-width="1.2" fill="none"/>
<path d="M74.8 399.5H337" stroke="#dcdcdc" stroke-width="1" fill="none"/>
<path d="M337 399.5V532.8" stroke="#f4d6c8" stroke-width="1" fill="none"/>
<path d="M74.8 532.8H337" stroke="#dfc2b6" stroke-width="1" fill="none"/>
<path d="M74.5 399.5V533.3" stroke="#b3b9e8" stroke-width="1.3" fill="none"/>
<path d="M84.9 399.5v2.5" stroke="#c8c8c8" stroke-width="1" fill="none"/>
<path d="M84.9 532.8v-2.5" stroke="#d0aa9c" stroke-width="0.8" fill="none"/>
<path d="M130.5 399.5v2.5" stroke="#c8c8c8" stroke-width="1" fill="none"/>
<path d="M130.5 532.8v-2.5" stroke="#d0aa9c" stroke-width="0.8" fill="none"/>
<path d="M176.1 399.5v2.5" stroke="#c8c8c8" stroke-width="1" fill="none"/>
<path d="M176.1 532.8v-2.5" stroke="#d0aa9c" stroke-width="0.8" fill="none"/>
<path d="M221.7 399.5v2.5" stroke="#c8c8c8" stroke-width="1" fill="none"/>
<path d="M221.7 532.8v-2.5" stroke="#d0aa9c" stroke-width="0.8" fill="none"/>
<path d="M267.3 399.5v2.5" stroke="#c8c8c8" stroke-width="1" fill="none"/>
<path d="M267.3 532.8v-2.5" stroke="#d0aa9c" stroke-width="0.8" fill="none"/>
<path d="M312.9 399.5v2.5" stroke="#c8c8c8" stroke-width="1" fill="none"/>
<path d="M312.9 532.8v-2.5" stroke="#d0aa9c" stroke-width="0.8" fill="none"/>
<path d="M337 532.8h-2" stroke="#eab8a4" stroke-width="1" fill="none"/>
<path d="M337 506.8h-2" stroke="#eab8a4" stroke-width="1" fill="none"/>
<path d="M337 479.9h-2" stroke="#eab8a4" stroke-width="1" fill="none"/>
<path d="M337 452.9h-2" stroke="#eab8a4" stroke-width="1" fill="none"/>
<path d="M337 425.8h-2" stroke="#eab8a4" stroke-width="1" fill="none"/>
<path d="M74.8 426.2h2" stroke="#a9c0da" stroke-width="1" fill="none"/>
<path d="M74.8 459.8h2" stroke="#a9c0da" stroke-width="1" fill="none"/>
<path d="M74.8 493.1h2" stroke="#a9c0da" stroke-width="1" fill="none"/>
<path d="M74.8 526.2h2" stroke="#a9c0da" stroke-width="1" fill="none"/>
<polyline points="75.8,419.4 76.3,421.1 76.8,420.7 77.3,420.3 77.8,421.2 78.3,419.8 78.8,420.7 79.3,420.4 79.8,419.4 80.3,420.6 80.8,418.9 81.3,420.4 81.8,419.4 82.3,420.3 82.8,421.4 83.3,421.0 83.8,419.8 84.3,419.9 84.8,419.7 85.3,418.8 85.8,418.6 86.3,419.6 86.8,420.4 87.3,418.4 87.8,419.4 88.3,420.3 88.8,420.1 89.3,419.0 89.8,420.6 90.3,418.9 90.8,419.9 91.3,421.0 91.8,417.8 92.3,418.9 92.8,419.1 93.3,419.0 93.8,417.9 94.3,417.9 94.8,416.7 95.3,417.7 95.8,418.2 96.3,417.5 96.8,417.2 97.3,417.8 97.8,418.5 98.3,419.0 98.8,419.2 99.3,419.6 99.8,418.6 100.3,417.0 100.8,419.6 101.3,421.1 101.8,418.9 102.3,419.0 102.8,419.9 103.3,420.8 103.8,420.7 104.3,421.3 104.8,420.3 105.3,420.4 105.8,420.4 106.3,419.6 106.8,420.9 107.3,420.8 107.8,421.0 108.3,419.9 108.8,420.8 109.3,419.2 109.8,420.0 110.3,417.5 110.8,418.2 111.3,420.1 111.8,419.5 112.3,419.9 112.8,418.4 113.3,420.9 113.8,420.7 114.3,420.1 114.8,420.3 115.3,420.3 115.8,421.3 116.3,420.5 116.8,418.7 117.3,419.3 117.8,420.9 118.3,420.7 118.8,419.7 119.3,420.4 119.8,420.1 120.3,420.5 120.8,418.6 121.3,418.6 121.8,420.1 122.3,419.7 122.8,420.2 123.3,421.8 123.8,420.1 124.3,420.2 124.8,419.4 125.3,419.2 125.8,419.6 126.3,418.4 126.8,417.5 127.3,420.4 127.8,419.9 128.3,420.9 128.8,420.3 129.3,420.1 129.8,420.6 130.3,420.7 130.8,419.0 131.3,420.7 131.8,419.2 132.3,419.9 132.8,422.2 133.3,420.7 133.8,421.6 134.3,420.1 134.8,420.5 135.3,420.1 135.8,420.3 136.3,419.2 136.8,418.8 137.3,419.9 137.8,418.4 138.3,418.6 138.8,420.1 139.3,419.4 139.8,418.9 140.3,418.5 140.8,419.6 141.3,419.5 141.8,419.9 142.3,419.7 142.8,421.5 143.3,420.0 143.8,418.1 144.3,419.4 144.8,419.7 145.3,419.8 145.8,418.0 146.3,419.8 146.8,419.1 147.3,418.7 147.8,417.0 148.3,418.2 148.8,417.9 149.3,419.2 149.8,418.2 150.3,417.3 150.8,418.4 151.3,417.9 151.8,419.2 152.3,418.3 152.8,419.1 153.3,419.3 153.8,419.5 154.3,419.2 154.8,418.8 155.3,419.4 155.8,419.2 156.3,419.8 156.8,419.6 157.3,417.8 157.8,419.3 158.3,421.1 158.8,420.7 159.3,420.8 159.8,420.8 160.3,420.2 160.8,419.8 161.3,421.7 161.8,422.7 162.3,423.0 162.8,423.3 163.3,423.4 163.8,423.2 164.3,423.3 164.8,423.2 165.3,423.3 165.8,423.0 166.3,423.0 166.8,423.3 167.3,423.2 167.8,422.7 168.3,423.1 168.8,422.7 169.3,423.6 169.8,423.6 170.3,423.6 170.8,423.2 171.3,423.0 171.8,423.2 172.3,423.3 172.8,423.2 173.3,423.4 173.8,423.5 174.3,423.6 174.8,423.2 175.3,422.8 175.8,423.3 176.3,423.2 176.8,423.5 177.3,423.9 177.8,424.0 178.3,423.8 178.8,424.0 179.3,424.3 179.8,424.1 180.3,424.0 180.8,424.1 181.3,423.8 181.8,423.6 182.3,423.4 182.8,423.5 183.3,423.3 183.8,423.6 184.3,423.3 184.8,423.6 185.3,423.6 185.8,423.0 186.3,423.3 186.8,423.0 187.3,422.8 187.8,421.9 188.3,420.9 188.8,420.2 189.3,419.2 189.8,419.2 190.3,420.1 190.8,420.9 191.3,421.8 191.8,422.4 192.3,423.0 192.8,422.6 193.3,422.8 193.8,422.8 194.3,422.8 194.8,422.4 195.3,423.1 195.8,422.4 196.3,422.3 196.8,421.9 197.3,422.3 197.8,422.1 198.3,422.5 198.8,422.3 199.3,422.7 199.8,422.8 200.3,423.2 200.8,423.0 201.3,422.7 201.8,423.0 202.3,422.7 202.8,422.6 203.3,423.0 203.8,422.5 204.3,423.0 204.8,422.8 205.3,422.6 205.8,422.9 206.3,423.0 206.8,422.8 207.3,422.8 207.8,423.0 208.3,423.1 208.8,422.9 209.3,422.7 209.8,422.5 210.3,422.6 210.8,422.9 211.3,422.9 211.8,422.9 212.3,423.1 212.8,422.8 213.3,422.7 213.8,422.6 214.3,423.1 214.8,422.4 215.3,422.7 215.8,422.8 216.3,422.7 216.8,423.3 217.3,423.1 217.8,423.0 218.3,422.5 218.8,422.7 219.3,422.6 219.8,422.6 220.3,422.7 220.8,422.5 221.3,422.7 221.8,423.0 222.3,423.0 222.8,422.7 223.3,422.2 223.8,422.7 224.3,422.9 224.8,422.6 225.3,422.4 225.8,422.7 226.3,422.4 226.8,422.7 227.3,422.3 227.8,422.2 228.3,422.3 228.8,421.8 229.3,421.8 229.8,421.8 230.3,421.1 230.8,421.3 231.3,420.9 231.8,420.8 232.3,420.6 232.8,420.2 233.3,419.9 233.8,419.4 234.3,419.3 234.8,419.1 235.3,419.8 235.8,420.0 236.3,419.5 236.8,420.0 237.3,420.0 237.8,420.0 238.3,420.2 238.8,420.5 239.3,420.3 239.8,420.4 240.3,420.6 240.8,420.4 241.3,420.7 241.8,420.8 242.3,420.8 242.8,420.8 243.3,421.2 243.8,421.5 244.3,421.5 244.8,421.3 245.3,421.7 245.8,421.7 246.3,421.9 246.8,422.2 247.3,421.8 247.8,422.0 248.3,422.0 248.8,422.0 249.3,422.8 249.8,422.8 250.3,422.2 250.8,422.5 251.3,422.4 251.8,422.7 252.3,422.6 252.8,422.5 253.3,422.5 253.8,422.6 254.3,422.5 254.8,422.5 255.3,422.5 255.8,422.6 256.3,422.3 256.8,422.4 257.3,422.5 257.8,422.4 258.3,422.6 258.8,422.2 259.3,422.3 259.8,422.3 260.3,422.6 260.8,422.4 261.3,422.5 261.8,422.6 262.3,422.2 262.8,422.5 263.3,422.3 263.8,422.4 264.3,422.4 264.8,422.7 265.3,422.7 265.8,423.0 266.3,422.4 266.8,421.6 267.3,421.0 267.8,420.8 268.3,420.5 268.8,419.8 269.3,419.6 269.8,420.3 270.3,420.8 270.8,421.3 271.3,421.6 271.8,421.7 272.3,422.1 272.8,422.5 273.3,422.4 273.8,421.7 274.3,422.0 274.8,421.6 275.3,422.3 275.8,422.0 276.3,421.6 276.8,421.9 277.3,421.5 277.8,421.7 278.3,421.5 278.8,421.2 279.3,421.4 279.8,421.0 280.3,421.4 280.8,421.2 281.3,420.8 281.8,420.6 282.3,421.7 282.8,422.2 283.3,421.9 283.8,422.7 284.3,422.6 284.8,422.5 285.3,422.5 285.8,422.4 286.3,422.8 286.8,422.6 287.3,422.1 287.8,422.9 288.3,422.8 288.8,422.3 289.3,422.4 289.8,422.2 290.3,422.4 290.8,422.6 291.3,422.6 291.8,422.4 292.3,422.3 292.8,422.6 293.3,422.5 293.8,423.0 294.3,422.5 294.8,422.7 295.3,422.6 295.8,422.3 296.3,422.8 296.8,422.6 297.3,422.3 297.8,422.4 298.3,422.7 298.8,422.3 299.3,422.8 299.8,422.7 300.3,422.5 300.8,422.8 301.3,423.0 301.8,422.8 302.3,422.6 302.8,423.0 303.3,423.0 303.8,422.4 304.3,422.4 304.8,422.4 305.3,422.4 305.8,422.1 306.3,422.6 306.8,422.5 307.3,422.5 307.8,422.8 308.3,422.5 308.8,422.5 309.3,422.2 309.8,421.4 310.3,420.9 310.8,420.5 311.3,419.8 311.8,419.4 312.3,418.4 312.8,417.9 313.3,418.4 313.8,419.4 314.3,420.1 314.8,421.3 315.3,422.1 315.8,422.9 316.3,423.5 316.8,423.5 317.3,423.3 317.8,422.9 318.3,422.6 318.8,422.8 319.3,422.8 319.8,422.7 320.3,422.8 320.8,422.5 321.3,423.1 321.8,422.7 322.3,422.6 322.8,422.9 323.3,422.5 323.8,422.9 324.3,423.1 324.8,422.8 325.3,422.5 325.8,422.6 326.3,422.3 326.8,422.9 327.3,422.8 327.8,422.6 328.3,422.4 328.8,422.8 329.3,423.1 329.8,422.5 330.3,422.5 330.8,422.2 331.3,422.7 331.8,422.7 332.3,423.2 332.8,422.7 333.3,422.5 333.8,422.4 334.3,422.7 334.8,422.2 335.3,422.6 335.8,422.6 336.3,422.4 336.8,422.3" stroke="#3a48e4" stroke-width="0.85" fill="none"/>
<polyline points="74.8,426.2 162.0,426.2 162.0,493.1 176.5,493.1 176.5,526.2 185.2,526.2 185.2,459.8 193.9,459.8 193.9,493.1 228.2,493.1 228.2,459.8 250.8,459.8 250.8,493.1 269.7,493.1 269.7,459.8 275.6,459.8 275.6,493.1 311.8,493.1 311.8,459.8 316.8,459.8 316.8,493.1 337.0,493.1" stroke="#454545" stroke-width="1.1" fill="none" stroke-linejoin="miter"/>
<text x="9.40" y="386.30" font-size="12.8" fill="#111" stroke="#111" text-anchor="start" font-weight="bold" >(C)</text>
<text x="127.8" y="388.6" font-size="13.8" fill="#111" stroke="#111">PD Group <tspan font-style="italic">w.o.</tspan> clonazepam</text>
<text x="72.40" y="429.00" font-size="8.9" fill="#1e1e1e" stroke="#1e1e1e" text-anchor="end" font-weight="normal" >Awake</text>
<text x="72.40" y="462.60" font-size="8.9" fill="#1e1e1e" stroke="#1e1e1e" text-anchor="end" font-weight="normal" >REM</text>
<text x="72.40" y="495.90" font-size="8.9" fill="#1e1e1e" stroke="#1e1e1e" text-anchor="end" font-weight="normal" >Light Sleep</text>
<text x="72.40" y="529.00" font-size="8.9" fill="#1e1e1e" stroke="#1e1e1e" text-anchor="end" font-weight="normal" >Deep Sleep</text>
<text x="19.20" y="467.40" font-size="9.65" fill="#222" stroke="#222" text-anchor="middle" font-weight="normal" transform="rotate(-90 19.20 467.40)" >Sleep Stage</text>
<text x="84.90" y="543.00" font-size="8.8" fill="#222" stroke="#222" text-anchor="middle" font-weight="normal" >18:00</text>
<text x="130.50" y="543.00" font-size="8.8" fill="#222" stroke="#222" text-anchor="middle" font-weight="normal" >20:00</text>
<text x="176.10" y="543.00" font-size="8.8" fill="#222" stroke="#222" text-anchor="middle" font-weight="normal" >22:00</text>
<text x="221.70" y="543.00" font-size="8.8" fill="#222" stroke="#222" text-anchor="middle" font-weight="normal" >00:00</text>
<text x="267.30" y="543.00" font-size="8.8" fill="#222" stroke="#222" text-anchor="middle" font-weight="normal" >02:00</text>
<text x="312.90" y="543.00" font-size="8.8" fill="#222" stroke="#222" text-anchor="middle" font-weight="normal" >04:00</text>
<text x="337.70" y="407.10" font-size="8.6" fill="#2a3cf5" stroke="#2a3cf5" text-anchor="start" font-weight="normal" >190</text>
<text x="337.70" y="415.50" font-size="8.6" fill="#2a3cf5" stroke="#2a3cf5" text-anchor="start" font-weight="normal" >140</text>
<text x="337.70" y="423.30" font-size="8.6" fill="#2a3cf5" stroke="#2a3cf5" text-anchor="start" font-weight="normal" >90</text>
<text x="337.70" y="431.20" font-size="8.6" fill="#2a3cf5" stroke="#2a3cf5" text-anchor="start" font-weight="normal" >40</text>
<text x="371.60" y="535.85" font-size="8.7" fill="#d5785a" stroke="#d5785a" text-anchor="start" font-weight="normal" >0</text>
<text x="371.60" y="509.85" font-size="8.7" fill="#d5785a" stroke="#d5785a" text-anchor="start" font-weight="normal" >1000</text>
<text x="371.60" y="482.95" font-size="8.7" fill="#d5785a" stroke="#d5785a" text-anchor="start" font-weight="normal" >2000</text>
<text x="371.60" y="456.00" font-size="8.7" fill="#d5785a" stroke="#d5785a" text-anchor="start" font-weight="normal" >3000</text>
<text x="371.60" y="428.85" font-size="8.7" fill="#d5785a" stroke="#d5785a" text-anchor="start" font-weight="normal" >4000</text>
<text x="371.60" y="400.50" font-size="8.7" fill="#d5785a" stroke="#d5785a" text-anchor="start" font-weight="normal" >5000</text>
<text x="365.40" y="457.20" font-size="9.7" fill="#2a3cf5" stroke="#2a3cf5" text-anchor="middle" font-weight="normal" transform="rotate(-90 365.40 457.20)" >Heart Rate (bpm)</text>
<text x="409.40" y="460.80" font-size="9.6" fill="#d5785a" stroke="#d5785a" text-anchor="middle" font-weight="normal" transform="rotate(-90 409.40 460.80)" >G strength</text>
</svg></body></html>
